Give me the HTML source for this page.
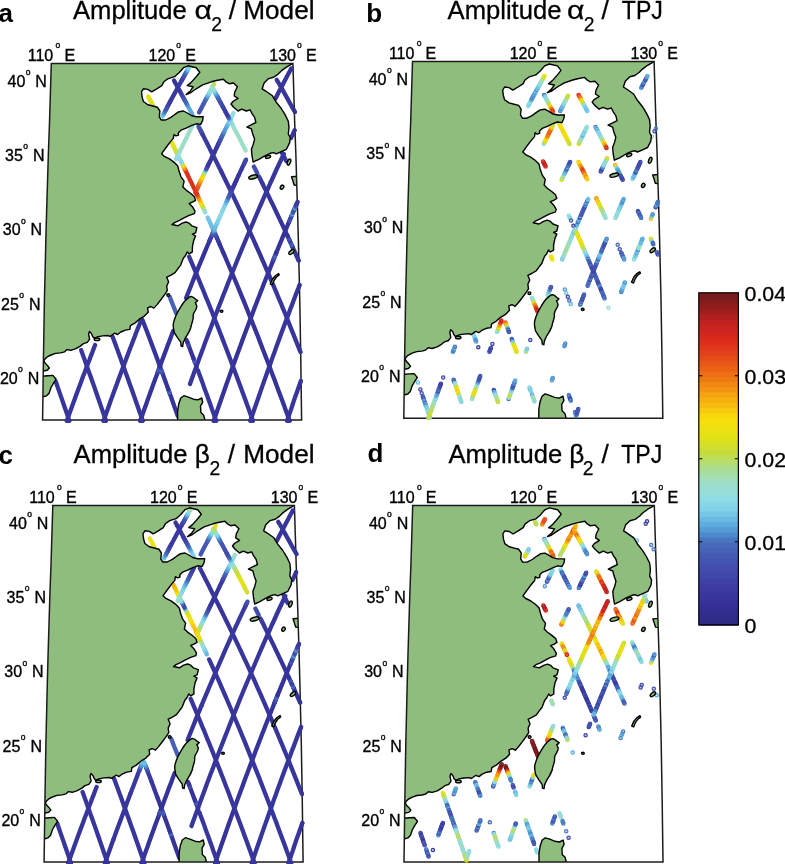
<!DOCTYPE html><html><head><meta charset="utf-8"><style>html,body{margin:0;padding:0;background:#fff}svg{display:block}</style></head><body><svg width="785" height="864" viewBox="0 0 785 864" font-family="'Liberation Sans', Arial, Helvetica, sans-serif">
<rect width="785" height="864" fill="#fff"/>
<g transform="translate(0.0 0.0)">
<clipPath id="cfa"><path d="M51.3,63.4 50.4,93.1 49.5,122.8 48.4,152.6 47.5,182.3 46.6,212.0 45.8,241.7 45.1,271.4 44.4,301.1 43.9,330.9 43.4,360.6 43.0,390.3 42.6,420.0 301.6,420.0 301.2,390.3 300.8,360.6 300.3,330.9 299.8,301.1 299.1,271.4 298.4,241.7 297.6,212.0 296.7,182.3 295.8,152.6 294.7,122.8 293.8,93.1 292.9,63.4Z"/></clipPath>
<clipPath id="cba"><path clip-rule="evenodd" d="M20 45H335V440H20Z M52.2,64.3 51.3,93.1 50.4,122.8 49.3,152.6 48.4,182.3 47.5,212.0 46.7,241.7 46.0,271.4 45.3,301.1 44.8,330.9 44.3,360.6 43.9,390.3 43.5,419.1 300.7,419.1 300.3,390.3 299.9,360.6 299.4,330.9 298.9,301.1 298.2,271.4 297.5,241.7 296.7,212.0 295.8,182.3 294.9,152.6 293.8,122.8 292.9,93.1 292.0,64.3Z"/></clipPath>
<g fill="none" stroke-width="4.3" stroke-linecap="round" stroke-linejoin="round">
<path d="M103.5,420.8 105.0,416.8 106.4,412.7 107.9,408.7 109.3,404.7 110.8,400.6 112.2,396.6 113.7,392.6 115.2,388.5 116.7,384.5 118.1,380.5 119.6,376.5 121.1,372.4 122.6,368.4 124.1,364.4 125.7,360.3 127.2,356.3 128.7,352.3 130.2,348.2 131.8,344.2 133.3,340.2 134.9,336.1 136.4,332.1 138.0,328.1 139.6,324.0 141.1,320.0 141.5,319.0" stroke="#38369d"/>
<path d="M66.8,420.8 68.3,416.8 69.7,412.7 71.2,408.7 72.7,404.6 74.2,400.6 75.6,396.5 77.1,392.5 78.6,388.5 80.1,384.4 81.6,380.4 83.1,376.3 84.7,372.3 86.2,368.2 87.7,364.2 89.3,360.2 90.8,356.1 92.4,352.1 93.9,348.0 95.1,345.0" stroke="#38369d"/>
<path d="M140.2,420.8 141.7,416.8 143.1,412.7 144.5,408.7 146.0,404.7 147.4,400.6 148.9,396.6 150.3,392.5 151.8,388.5 153.2,384.5 154.7,380.4 156.2,376.4 157.7,372.4" stroke="#36339a"/>
<path d="M157.7,372.4 158.0,371.4" stroke="#3a39a0"/>
<path d="M158.0,371.4 158.4,370.4" stroke="#4046aa"/>
<path d="M158.4,370.4 158.8,369.3" stroke="#4451b0"/>
<path d="M158.8,369.3 159.2,368.3" stroke="#465cb4"/>
<path d="M159.2,368.3 159.5,367.3" stroke="#434dae"/>
<path d="M159.5,367.3 159.9,366.3" stroke="#3f42a8"/>
<path d="M159.9,366.3 160.3,365.3" stroke="#38369d"/>
<path d="M160.3,365.3 161.8,361.3 163.3,357.2 164.8,353.2 166.3,349.2 167.8,345.1 169.4,341.1 170.9,337.1 172.4,333.0 173.2,331.0" stroke="#36339a"/>
<path d="M275.2,99.0 277.3,94.9 279.4,90.8 281.6,86.8 283.7,82.7 285.9,78.6 288.0,74.5 290.2,70.4 291.3,68.4" stroke="#38369d"/>
<path d="M190.0,384.0 191.4,380.0 192.9,376.0 194.3,372.0 195.8,368.0 197.3,364.0 198.7,360.0 200.2,356.0 201.7,352.0 203.2,348.0 204.6,344.0 206.1,340.0 207.6,336.0 209.1,332.0 210.7,328.0 212.2,324.0 213.7,320.0 215.2,316.0 216.8,312.0 218.3,308.0 219.9,304.0 221.5,300.0 223.0,296.0 224.6,292.0 226.2,288.0 227.7,284.0 229.3,280.0 230.9,276.0 232.5,272.0 234.2,268.0 235.8,264.0 237.4,260.0 239.0,256.0 240.7,252.0 242.3,248.0 244.0,244.0 245.7,240.0 247.4,236.0 249.1,232.0 250.8,228.0 252.5,224.0 254.2,220.0 255.9,216.0 257.6,212.0 259.3,208.0 261.1,204.0 262.8,200.0 264.6,196.0 266.4,192.0 268.2,188.0 269.9,184.0 271.8,180.0 273.6,176.0 275.4,172.0 277.2,168.0 279.1,164.0 281.0,160.0 282.9,156.0 283.8,154.0" stroke="#38369d"/>
<path d="M291.0,138.0 291.5,136.9 292.1,135.8 292.6,134.7 293.1,133.5 293.6,132.4 294.1,131.3 294.6,130.2" stroke="#38369d"/>
<path d="M213.7,420.8 215.1,416.8 216.5,412.8 217.9,408.8 219.3,404.7 220.7,400.7 222.1,396.7 223.5,392.7 224.9,388.7 226.3,384.7 227.8,380.6 229.2,376.6 230.6,372.6 232.1,368.6 233.5,364.6 235.0,360.6 236.4,356.5 237.9,352.5 239.4,348.5 240.9,344.5 242.3,340.5 243.8,336.5 245.3,332.4 246.8,328.4 248.3,324.4 249.8,320.4 251.4,316.4 252.9,312.4 254.4,308.3 256.0,304.3 257.5,300.3 259.1,296.3 260.6,292.3 262.2,288.3 263.7,284.2 265.3,280.2 266.9,276.2 268.5,272.2 270.1,268.2 271.7,264.2 272.9,261.1" stroke="#36339a"/>
<path d="M272.9,261.1 273.3,260.1" stroke="#3a39a0"/>
<path d="M273.3,260.1 273.7,259.1" stroke="#3e3ea6"/>
<path d="M273.7,259.1 274.1,258.1" stroke="#4046aa"/>
<path d="M274.1,258.1 274.5,257.1" stroke="#434dae"/>
<path d="M274.5,257.1 274.9,256.1" stroke="#4556b2"/>
<path d="M274.9,256.1 275.3,255.1" stroke="#4661b6"/>
<path d="M275.3,255.1 275.7,254.1" stroke="#486cba"/>
<path d="M275.7,254.1 276.1,253.1" stroke="#434dae"/>
<path d="M276.1,253.1 276.5,252.1" stroke="#38369d"/>
<path d="M276.5,252.1 278.2,248.1 279.8,244.1 281.5,240.1 283.1,236.0 284.8,232.0 286.5,228.0 288.1,224.0 289.0,222.0" stroke="#36339a"/>
<path d="M289.0,222.0 289.4,221.0" stroke="#3c3ba3"/>
<path d="M289.4,221.0 289.8,220.0" stroke="#414aac"/>
<path d="M289.8,220.0 290.2,219.0" stroke="#4556b2"/>
<path d="M290.2,219.0 290.7,218.0" stroke="#434dae"/>
<path d="M290.7,218.0 291.1,217.0" stroke="#4046aa"/>
<path d="M291.1,217.0 291.5,216.0" stroke="#3e3ea6"/>
<path d="M291.5,216.0 291.9,215.0" stroke="#4451b0"/>
<path d="M291.9,215.0 292.4,213.9" stroke="#486cba"/>
<path d="M292.4,213.9 292.8,212.9" stroke="#5aa8dc"/>
<path d="M292.8,212.9 293.2,211.9" stroke="#486cba"/>
<path d="M293.2,211.9 293.6,210.9" stroke="#4556b2"/>
<path d="M293.6,210.9 294.1,209.9" stroke="#4046aa"/>
<path d="M294.1,209.9 294.5,208.9" stroke="#4556b2"/>
<path d="M294.5,208.9 294.9,207.9" stroke="#486cba"/>
<path d="M294.9,207.9 295.3,206.9" stroke="#5aa8dc"/>
<path d="M295.3,206.9 295.8,205.9" stroke="#4767b8"/>
<path d="M295.8,205.9 296.2,204.9" stroke="#434dae"/>
<path d="M296.2,204.9 296.6,203.9" stroke="#3e3ea6"/>
<path d="M296.6,203.9 297.1,202.9 297.5,201.9" stroke="#3c3ba3"/>
<path d="M250.4,420.8 251.8,416.8 253.1,412.8 254.5,408.7 255.9,404.7 257.3,400.7 258.7,396.7 260.1,392.6 261.5,388.6 262.9,384.6 264.3,380.6 265.8,376.5 267.2,372.5 268.6,368.5 270.1,364.5 271.5,360.4 272.9,356.4 274.4,352.4 275.8,348.4 277.3,344.3 278.8,340.3 280.2,336.3 281.7,332.3 283.2,328.3 284.7,324.2 286.2,320.2 287.7,316.2 289.2,312.2 290.7,308.1 292.3,304.1 293.8,300.1 295.3,296.1 296.8,292.0 298.4,288.0 299.5,285.0" stroke="#38369d"/>
<path d="M287.1,420.8 288.5,416.7 289.9,412.6 291.3,408.6 292.6,404.5 294.0,400.4 295.4,396.3 296.9,392.2 298.3,388.1 299.7,384.1 300.8,381.0" stroke="#38369d"/>
<path d="M69.3,420.8 67.9,416.8 66.6,412.7 65.2,408.7 63.8,404.7 62.4,400.6 61.0,396.6 59.6,392.6 58.2,388.6 56.8,384.5 55.8,381.5" stroke="#38369d"/>
<path d="M106.0,420.8 104.6,416.8 103.2,412.7 101.8,408.7 100.4,404.6 99.0,400.6 97.6,396.5 96.2,392.5 94.8,388.4 93.4,384.4 91.9,380.3 90.5,376.3 89.0,372.3 87.6,368.2 86.2,364.2 84.7,360.1 83.3,356.1 81.8,352.0 81.1,350.0" stroke="#38369d"/>
<path d="M142.7,420.8 141.3,416.8 139.9,412.8 138.5,408.8 137.1,404.8 135.7,400.8 134.3,396.7 132.9,392.7 131.5,388.7 130.0,384.7 128.6,380.7 127.2,376.7 125.7,372.7 124.3,368.7 122.8,364.7 121.4,360.7 119.9,356.6 118.4,352.6 117.0,348.6 115.5,344.6 114.0,340.6 112.5,336.6" stroke="#38369d"/>
<path d="M177.8,416.0 176.4,412.0 174.9,408.0 173.5,404.0 172.1,400.0 170.7,396.0 169.6,393.0" stroke="#36339a"/>
<path d="M169.6,393.0 169.2,392.0" stroke="#414aac"/>
<path d="M169.2,392.0 168.9,391.0" stroke="#4767b8"/>
<path d="M168.9,391.0 168.5,390.0" stroke="#4661b6"/>
<path d="M168.5,390.0 168.2,389.0" stroke="#4046aa"/>
<path d="M168.2,389.0 166.7,385.0 165.3,381.0 163.8,377.0 162.4,373.0" stroke="#36339a"/>
<path d="M162.4,373.0 162.0,372.0" stroke="#3e3ea6"/>
<path d="M162.0,372.0 161.6,371.0" stroke="#414aac"/>
<path d="M161.6,371.0 161.3,370.0" stroke="#4556b2"/>
<path d="M161.3,370.0 160.9,369.0" stroke="#486cba"/>
<path d="M160.9,369.0 160.5,368.0" stroke="#4556b2"/>
<path d="M160.5,368.0 160.2,367.0" stroke="#414aac"/>
<path d="M160.2,367.0 159.8,366.0" stroke="#3e3ea6"/>
<path d="M159.8,366.0 158.3,362.0 156.9,358.0 155.4,354.0 153.9,350.0 152.4,346.0 150.9,342.0 149.4,338.0 147.9,334.0 146.4,330.0 144.8,326.0 143.3,322.0 142.5,320.0" stroke="#36339a"/>
<path d="M216.2,420.8 214.7,416.8 213.3,412.7 211.8,408.7 210.4,404.6 208.9,400.6 207.5,396.5 206.0,392.5 204.5,388.4 203.1,384.4 201.6,380.3 200.1,376.3 198.6,372.2 197.9,370.2" stroke="#38369d"/>
<path d="M196.7,367.0 196.3,366.0 195.9,365.0 195.6,364.0 195.2,363.0 194.8,362.0" stroke="#36339a"/>
<path d="M194.8,362.0 194.4,361.0" stroke="#4046aa"/>
<path d="M194.4,361.0 194.1,360.0 193.7,359.0" stroke="#465cb4"/>
<path d="M193.7,359.0 193.3,358.0" stroke="#4046aa"/>
<path d="M193.3,358.0 191.8,354.0 190.3,350.0 188.8,346.0 188.4,345.0" stroke="#36339a"/>
<path d="M188.4,345.0 188.0,344.0" stroke="#3f42a8"/>
<path d="M188.0,344.0 187.7,343.0" stroke="#4556b2"/>
<path d="M187.7,343.0 187.3,342.0" stroke="#3f42a8"/>
<path d="M187.3,342.0 186.9,341.0 186.5,340.0" stroke="#36339a"/>
<path d="M176.3,313.5 174.7,309.4 173.0,305.2 171.4,301.1 169.8,297.0" stroke="#4661b6"/>
<path d="M252.9,420.8 251.4,416.8 250.0,412.8 248.6,408.8 247.1,404.8 245.7,400.8 244.2,396.8 242.7,392.8 241.3,388.8 239.8,384.8 238.3,380.8 236.8,376.8 235.3,372.8 233.8,368.8 232.3,364.8 230.8,360.8 229.3,356.8 227.8,352.8 226.3,348.8 224.7,344.8 223.2,340.8 221.7,336.8 220.1,332.8 218.6,328.8 217.0,324.8 215.4,320.8 213.8,316.8 212.3,312.8 210.7,308.8 209.1,304.8 207.5,300.8 205.8,296.8 204.2,292.8 202.6,288.8 200.9,284.8 199.3,280.8 197.6,276.8 196.0,272.8 194.3,268.8 192.6,264.8 190.9,260.8 189.2,256.8" stroke="#38369d"/>
<path d="M300.4,352.0 298.8,348.0 297.2,344.0 295.6,339.9 294.0,335.9 292.4,331.9 290.8,327.9 289.2,323.9 287.6,319.9 286.0,315.8 284.4,311.8 282.7,307.8 281.1,303.8 279.4,299.8 277.7,295.7 276.0,291.7 274.3,287.7 273.1,284.7" stroke="#38369d"/>
<path d="M298.6,260.6 296.8,256.6 295.1,252.6 293.3,248.6 292.8,247.6" stroke="#36339a"/>
<path d="M292.8,247.6 292.4,246.6" stroke="#38369d"/>
<path d="M292.4,246.6 291.9,245.6" stroke="#3c3ba3"/>
<path d="M291.9,245.6 291.5,244.6" stroke="#4046aa"/>
<path d="M291.5,244.6 291.0,243.6" stroke="#4661b6"/>
<path d="M291.0,243.6 290.6,242.6" stroke="#486cba"/>
<path d="M290.6,242.6 290.1,241.6" stroke="#4451b0"/>
<path d="M290.1,241.6 289.6,240.6" stroke="#3f42a8"/>
<path d="M289.6,240.6 289.2,239.6" stroke="#3c3ba3"/>
<path d="M289.2,239.6 288.7,238.6" stroke="#414aac"/>
<path d="M288.7,238.6 288.3,237.6 287.8,236.6" stroke="#4556b2"/>
<path d="M287.8,236.6 287.4,235.6" stroke="#3e3ea6"/>
<path d="M287.4,235.6 285.5,231.6 283.7,227.6 281.8,223.6 279.9,219.6 278.0,215.6 276.1,211.6 274.2,207.6 272.3,203.6 270.3,199.6 268.4,195.6 266.4,191.6 264.4,187.6 262.5,183.6" stroke="#36339a"/>
<path d="M262.5,183.6 262.0,182.6 261.5,181.6 261.0,180.6" stroke="#38369d"/>
<path d="M261.0,180.6 260.5,179.6 260.0,178.6" stroke="#3a39a0"/>
<path d="M260.0,178.6 259.5,177.6 259.0,176.6" stroke="#3c3ba3"/>
<path d="M257.2,173.0 256.6,171.9 256.1,170.9 255.5,169.8 255.0,168.7 254.4,167.7 253.9,166.6" stroke="#434dae"/>
<path d="M286.2,161.0 284.0,156.8 281.8,152.6 281.2,151.5" stroke="#38369d"/>
<path d="M294.9,112.0 292.6,108.0 290.4,104.0 288.2,99.9 285.9,95.9 283.7,91.9 281.4,87.8 279.1,83.8 276.7,79.8" stroke="#38369d"/>
<path d="M289.6,420.8 288.1,416.8 286.7,412.8 285.2,408.8 283.8,404.8 282.3,400.8 280.8,396.8 279.3,392.7 277.8,388.7 276.3,384.7 274.9,380.7 273.3,376.7 271.8,372.7 270.3,368.7 268.8,364.7 267.3,360.7 265.7,356.7 264.2,352.7 262.6,348.7 261.1,344.7 259.5,340.6 258.0,336.6 256.4,332.6 254.8,328.6 253.2,324.6 251.6,320.6 250.0,316.6 248.4,312.6 246.8,308.6 245.2,304.6 243.6,300.6 241.9,296.6 240.2,292.5 238.6,288.5 236.9,284.5 235.2,280.5 233.5,276.5 231.8,272.5 230.1,268.5 228.4,264.5 226.7,260.5 225.0,256.5 223.2,252.5 221.5,248.5 219.7,244.5 219.3,243.5" stroke="#36339a"/>
<path d="M219.3,243.5 218.9,242.4 218.4,241.4" stroke="#38369d"/>
<path d="M218.4,241.4 218.0,240.4" stroke="#3a39a0"/>
<path d="M218.0,240.4 217.5,239.4 217.1,238.4" stroke="#3c3ba3"/>
<path d="M217.1,238.4 216.7,237.4" stroke="#3e3ea6"/>
<path d="M216.7,237.4 216.2,236.4" stroke="#3f42a8"/>
<path d="M216.2,236.4 215.8,235.4" stroke="#414aac"/>
<path d="M215.8,235.4 215.3,234.4" stroke="#434dae"/>
<path d="M215.3,234.4 214.9,233.4" stroke="#4556b2"/>
<path d="M214.9,233.4 214.4,232.4" stroke="#465cb4"/>
<path d="M214.4,232.4 214.0,231.4" stroke="#4767b8"/>
<path d="M214.0,231.4 213.5,230.4" stroke="#4b7cc3"/>
<path d="M213.5,230.4 213.1,229.4" stroke="#5aa8dc"/>
<path d="M213.1,229.4 212.6,228.4 212.2,227.4 211.7,226.4" stroke="#63b3e0"/>
<path d="M211.7,226.4 211.3,225.4 210.8,224.4 210.4,223.4 209.9,222.4 209.5,221.4 209.0,220.4 208.5,219.4" stroke="#6cbee4"/>
<path d="M208.5,219.4 208.1,218.4 207.6,217.4" stroke="#76c7e6"/>
<path d="M205.3,212.4 204.9,211.4" stroke="#8dd9e5"/>
<path d="M204.9,211.4 204.4,210.4" stroke="#93dce2"/>
<path d="M204.4,210.4 203.9,209.4" stroke="#99ddd3"/>
<path d="M203.9,209.4 203.5,208.4" stroke="#a0debf"/>
<path d="M203.5,208.4 203.0,207.3" stroke="#a4deaf"/>
<path d="M203.0,207.3 202.5,206.3" stroke="#b4dd76"/>
<path d="M202.5,206.3 202.1,205.3" stroke="#c2dc4a"/>
<path d="M202.1,205.3 201.6,204.3" stroke="#d0de2e"/>
<path d="M201.6,204.3 201.1,203.3" stroke="#e4e213"/>
<path d="M201.1,203.3 200.6,202.3" stroke="#efe00f"/>
<path d="M200.6,202.3 200.2,201.3" stroke="#fade0a"/>
<path d="M200.2,201.3 199.7,200.3" stroke="#f8c90d"/>
<path d="M199.7,200.3 199.2,199.3" stroke="#f7bf0e"/>
<path d="M199.2,199.3 198.8,198.3" stroke="#f5aa10"/>
<path d="M198.8,198.3 198.3,197.2" stroke="#f49f11"/>
<path d="M198.3,197.2 197.8,196.2" stroke="#f28912"/>
<path d="M197.8,196.2 197.3,195.2" stroke="#ed6b14"/>
<path d="M197.3,195.2 196.9,194.2" stroke="#ea5817"/>
<path d="M196.9,194.2 196.4,193.2" stroke="#e33f1b"/>
<path d="M196.4,193.2 194.5,189.2 192.5,185.1 190.6,181.1 188.6,177.0 186.7,173.0 185.2,170.0" stroke="#de301d"/>
<path d="M185.2,170.0 184.7,169.0" stroke="#e64719"/>
<path d="M184.7,169.0 184.2,168.0" stroke="#ed6b14"/>
<path d="M184.2,168.0 183.7,166.9" stroke="#f39411"/>
<path d="M183.7,166.9 183.2,165.9" stroke="#f6b40f"/>
<path d="M183.2,165.9 182.7,164.9" stroke="#f8c90d"/>
<path d="M182.7,164.9 182.2,163.9" stroke="#f5df0c"/>
<path d="M182.2,163.9 181.7,162.9" stroke="#c2dc4a"/>
<path d="M181.7,162.9 181.2,161.9" stroke="#93dce2"/>
<path d="M181.2,161.9 180.7,160.9" stroke="#80d0e8"/>
<path d="M180.7,160.9 180.2,159.9" stroke="#86d4e7"/>
<path d="M180.2,159.9 179.7,158.9 179.2,157.9" stroke="#8dd9e5"/>
<path d="M179.2,157.9 178.7,156.8 178.2,155.8" stroke="#93dce2"/>
<path d="M178.2,155.8 177.7,154.8" stroke="#96dddb"/>
<path d="M177.7,154.8 177.2,153.8" stroke="#9ddecb"/>
<path d="M177.2,153.8 176.7,152.8" stroke="#a8dd9f"/>
<path d="M176.7,152.8 176.2,151.8" stroke="#bbdc60"/>
<path d="M176.2,151.8 175.7,150.8" stroke="#c9dd38"/>
<path d="M175.7,150.8 175.2,149.8 174.8,148.8 174.3,147.8" stroke="#d0de2e"/>
<path d="M174.3,147.8 173.8,146.7 173.3,145.7" stroke="#d7e024"/>
<path d="M173.3,145.7 172.8,144.7 172.3,143.7" stroke="#dee11a"/>
<path d="M172.3,143.7 171.8,142.7" stroke="#e4e213"/>
<path d="M152.6,104.7 152.0,103.7" stroke="#c9dd38"/>
<path d="M152.0,103.7 151.5,102.6" stroke="#d0de2e"/>
<path d="M151.5,102.6 150.9,101.6 150.4,100.6" stroke="#d7e024"/>
<path d="M150.4,100.6 149.8,99.5" stroke="#dee11a"/>
<path d="M149.8,99.5 149.3,98.5 148.7,97.4" stroke="#e4e213"/>
<path d="M148.7,97.4 148.2,96.4" stroke="#eae111"/>
<path d="M195.3,192.5 195.8,191.5" stroke="#de301d"/>
<path d="M195.8,191.5 196.3,190.5" stroke="#e0371c"/>
<path d="M196.3,190.5 196.7,189.5 197.2,188.5" stroke="#e33f1b"/>
<path d="M197.2,188.5 197.7,187.5" stroke="#e64719"/>
<path d="M197.7,187.5 198.1,186.5" stroke="#e84e18"/>
<path d="M198.1,186.5 198.6,185.5" stroke="#ea5817"/>
<path d="M198.6,185.5 199.1,184.4" stroke="#eb6116"/>
<path d="M199.1,184.4 199.5,183.4" stroke="#ed6b14"/>
<path d="M199.5,183.4 200.0,182.4" stroke="#ef7413"/>
<path d="M200.0,182.4 200.5,181.4" stroke="#f28912"/>
<path d="M200.5,181.4 201.0,180.4" stroke="#f39411"/>
<path d="M201.0,180.4 201.4,179.4" stroke="#f5aa10"/>
<path d="M201.4,179.4 201.9,178.4" stroke="#f6b40f"/>
<path d="M201.9,178.4 202.4,177.4" stroke="#f8c90d"/>
<path d="M202.4,177.4 202.9,176.4" stroke="#f9d40b"/>
<path d="M202.9,176.4 203.3,175.4" stroke="#f5df0c"/>
<path d="M203.3,175.4 203.8,174.4" stroke="#eae111"/>
<path d="M203.8,174.4 204.3,173.4" stroke="#d7e024"/>
<path d="M204.3,173.4 204.8,172.4" stroke="#c9dd38"/>
<path d="M204.8,172.4 205.2,171.4" stroke="#a4deaf"/>
<path d="M205.2,171.4 205.7,170.4" stroke="#8dd9e5"/>
<path d="M205.7,170.4 206.2,169.4" stroke="#63b3e0"/>
<path d="M206.2,169.4 206.7,168.3" stroke="#4767b8"/>
<path d="M206.7,168.3 207.2,167.3" stroke="#4556b2"/>
<path d="M207.2,167.3 207.7,166.3" stroke="#434dae"/>
<path d="M207.7,166.3 208.1,165.3" stroke="#4046aa"/>
<path d="M208.1,165.3 208.6,164.3" stroke="#3c3ba3"/>
<path d="M208.6,164.3 209.1,163.3 209.6,162.3" stroke="#3a39a0"/>
<path d="M209.6,162.3 210.1,161.3 210.6,160.3 211.1,159.3 211.6,158.3 212.0,157.3" stroke="#38369d"/>
<path d="M212.0,157.3 212.5,156.3 213.0,155.3 213.5,154.3 214.0,153.3 214.5,152.2" stroke="#36339a"/>
<path d="M214.5,152.2 214.9,151.2 215.4,150.2 215.9,149.2 216.4,148.2" stroke="#38369d"/>
<path d="M216.4,148.2 216.8,147.2 217.3,146.2 217.8,145.2" stroke="#3a39a0"/>
<path d="M217.8,145.2 218.3,144.2" stroke="#3c3ba3"/>
<path d="M218.3,144.2 218.7,143.2" stroke="#3e3ea6"/>
<path d="M218.7,143.2 219.2,142.2" stroke="#3f42a8"/>
<path d="M219.2,142.2 219.7,141.2" stroke="#4046aa"/>
<path d="M219.7,141.2 220.2,140.2" stroke="#414aac"/>
<path d="M220.2,140.2 220.7,139.2" stroke="#434dae"/>
<path d="M220.7,139.2 221.1,138.2" stroke="#4451b0"/>
<path d="M221.1,138.2 221.6,137.2" stroke="#4556b2"/>
<path d="M221.6,137.2 222.1,136.1" stroke="#465cb4"/>
<path d="M222.1,136.1 222.6,135.1" stroke="#4661b6"/>
<path d="M222.6,135.1 223.1,134.1" stroke="#4767b8"/>
<path d="M223.1,134.1 223.6,133.1" stroke="#486cba"/>
<path d="M223.6,133.1 224.1,132.1" stroke="#4b7cc3"/>
<path d="M224.1,132.1 224.5,131.1 225.0,130.1" stroke="#4e8ccc"/>
<path d="M225.0,130.1 225.5,129.1 226.0,128.1 226.5,127.1" stroke="#549ad4"/>
<path d="M226.5,127.1 227.0,126.1 227.5,125.1" stroke="#5aa8dc"/>
<path d="M227.5,125.1 228.0,124.1 228.5,123.1" stroke="#63b3e0"/>
<path d="M228.5,123.1 229.0,122.1" stroke="#6cbee4"/>
<path d="M229.0,122.1 229.5,121.1 230.0,120.0" stroke="#76c7e6"/>
<path d="M230.0,120.0 230.5,119.0" stroke="#80d0e8"/>
<path d="M230.5,119.0 231.0,118.0" stroke="#86d4e7"/>
<path d="M231.0,118.0 231.5,117.0" stroke="#8dd9e5"/>
<path d="M231.5,117.0 232.0,116.0" stroke="#93dce2"/>
<path d="M232.0,116.0 232.5,115.0 233.0,114.0 233.5,113.0" stroke="#96dddb"/>
<path d="M176.1,159.0 176.6,158.0 177.1,157.0" stroke="#8dd9e5"/>
<path d="M177.1,157.0 177.6,156.0 178.1,154.9" stroke="#93dce2"/>
<path d="M178.1,154.9 178.6,153.9 179.1,152.9" stroke="#96dddb"/>
<path d="M179.1,152.9 179.6,151.9 180.1,150.9" stroke="#99ddd3"/>
<path d="M180.1,150.9 182.0,146.8 184.0,142.8 186.0,138.7 188.0,134.6 190.0,130.6 192.0,126.5 193.0,124.5" stroke="#9ddecb"/>
<path d="M199.1,112.4 199.7,111.4 200.2,110.4" stroke="#434dae"/>
<path d="M200.2,110.4 200.7,109.4 201.2,108.3 201.8,107.3" stroke="#4451b0"/>
<path d="M201.8,107.3 202.3,106.3 202.8,105.3 203.3,104.3" stroke="#4556b2"/>
<path d="M203.3,104.3 203.9,103.3 204.4,102.3 204.9,101.2" stroke="#465cb4"/>
<path d="M204.9,101.2 205.5,100.2 206.0,99.2" stroke="#4661b6"/>
<path d="M206.0,99.2 206.5,98.2" stroke="#4767b8"/>
<path d="M206.5,98.2 207.1,97.2" stroke="#4b7cc3"/>
<path d="M207.1,97.2 207.6,96.2" stroke="#4e8ccc"/>
<path d="M207.6,96.2 208.2,95.2" stroke="#5aa8dc"/>
<path d="M208.2,95.2 208.7,94.1" stroke="#63b3e0"/>
<path d="M208.7,94.1 209.2,93.1" stroke="#76c7e6"/>
<path d="M209.2,93.1 209.8,92.1" stroke="#80d0e8"/>
<path d="M209.8,92.1 210.3,91.1" stroke="#8dd9e5"/>
<path d="M210.3,91.1 210.9,90.1" stroke="#93dce2"/>
<path d="M210.9,90.1 211.4,89.1" stroke="#96dddb"/>
<path d="M211.4,89.1 212.0,88.1" stroke="#99ddd3"/>
<path d="M212.0,88.1 212.5,87.0" stroke="#9ddecb"/>
<path d="M212.5,87.0 213.1,86.0" stroke="#a0debf"/>
<path d="M213.1,86.0 213.6,85.0" stroke="#addd8d"/>
<path d="M213.6,85.0 214.2,84.0" stroke="#c9dd38"/>
<path d="M162.4,116.5 162.9,115.5" stroke="#80d0e8"/>
<path d="M162.9,115.5 163.4,114.5" stroke="#76c7e6"/>
<path d="M163.4,114.5 164.0,113.5" stroke="#63b3e0"/>
<path d="M164.0,113.5 164.5,112.5" stroke="#5aa8dc"/>
<path d="M164.5,112.5 165.0,111.5" stroke="#4e8ccc"/>
<path d="M165.0,111.5 165.5,110.5" stroke="#4b7cc3"/>
<path d="M165.5,110.5 166.1,109.5" stroke="#4767b8"/>
<path d="M166.1,109.5 166.6,108.5" stroke="#4661b6"/>
<path d="M166.6,108.5 167.1,107.4" stroke="#465cb4"/>
<path d="M167.1,107.4 167.6,106.4" stroke="#4451b0"/>
<path d="M167.6,106.4 168.2,105.4" stroke="#434dae"/>
<path d="M168.2,105.4 168.7,104.4" stroke="#414aac"/>
<path d="M168.7,104.4 169.2,103.4" stroke="#4046aa"/>
<path d="M169.2,103.4 169.8,102.4" stroke="#3f42a8"/>
<path d="M169.8,102.4 170.3,101.4" stroke="#3e3ea6"/>
<path d="M170.3,101.4 170.8,100.4" stroke="#3c3ba3"/>
<path d="M170.8,100.4 173.0,96.4 175.2,92.4 177.4,88.3 179.6,84.3 181.2,81.3" stroke="#3a39a0"/>
<path d="M181.2,81.3 181.8,80.3" stroke="#3c3ba3"/>
<path d="M181.8,80.3 182.4,79.3" stroke="#3e3ea6"/>
<path d="M182.4,79.3 182.9,78.3" stroke="#3f42a8"/>
<path d="M182.9,78.3 183.5,77.3" stroke="#4046aa"/>
<path d="M183.5,77.3 184.0,76.3" stroke="#414aac"/>
<path d="M184.0,76.3 184.6,75.2" stroke="#4451b0"/>
<path d="M184.6,75.2 185.2,74.2" stroke="#4556b2"/>
<path d="M185.2,74.2 185.7,73.2" stroke="#465cb4"/>
<path d="M185.7,73.2 186.3,72.2" stroke="#4767b8"/>
<path d="M186.3,72.2 186.9,71.2" stroke="#486cba"/>
<path d="M186.9,71.2 187.4,70.2" stroke="#4e8ccc"/>
<path d="M187.4,70.2 188.0,69.2" stroke="#5aa8dc"/>
<path d="M188.0,69.2 188.6,68.2" stroke="#6cbee4"/>
<path d="M188.6,68.2 189.2,67.2" stroke="#80d0e8"/>
<path d="M192.3,114.5 190.2,110.5 188.1,106.5 187.5,105.5" stroke="#5aa8dc"/>
<path d="M187.5,105.5 187.0,104.5" stroke="#549ad4"/>
<path d="M187.0,104.5 186.5,103.5" stroke="#4e8ccc"/>
<path d="M186.5,103.5 186.0,102.5" stroke="#4b7cc3"/>
<path d="M186.0,102.5 185.4,101.5" stroke="#486cba"/>
<path d="M185.4,101.5 184.9,100.5" stroke="#4767b8"/>
<path d="M184.9,100.5 184.3,99.5" stroke="#4661b6"/>
<path d="M184.3,99.5 183.8,98.5" stroke="#465cb4"/>
<path d="M183.8,98.5 183.3,97.5 182.7,96.5" stroke="#4556b2"/>
<path d="M182.7,96.5 182.2,95.5 181.6,94.5" stroke="#434dae"/>
<path d="M181.6,94.5 181.1,93.5 180.6,92.5" stroke="#4046aa"/>
<path d="M180.6,92.5 180.0,91.5 179.5,90.5" stroke="#3e3ea6"/>
<path d="M179.5,90.5 178.9,89.5 178.4,88.5 177.8,87.5" stroke="#3a39a0"/>
<path d="M177.8,87.5 177.3,86.5 176.7,85.5 176.2,84.5 175.6,83.5 175.1,82.5" stroke="#38369d"/>
<path d="M175.1,82.5 174.5,81.5 174.0,80.5" stroke="#36339a"/>
<path d="M272.1,282.4 270.4,278.4 268.7,274.4 266.9,270.4 265.2,266.4 263.5,262.4 261.7,258.4 260.0,254.4 258.2,250.4 256.4,246.4 256.0,245.4" stroke="#36339a"/>
<path d="M256.0,245.4 254.2,241.4 252.4,237.4 250.6,233.4 248.8,229.4 246.9,225.4 245.1,221.4 243.2,217.4 241.4,213.4 239.5,209.4 237.6,205.4 235.7,201.3 233.8,197.3 231.9,193.3 229.9,189.3 228.0,185.3 226.0,181.3 224.1,177.3 222.1,173.3 221.1,171.3" stroke="#38369d"/>
<path d="M221.1,171.3 219.1,167.3 217.1,163.3 215.1,159.3 213.0,155.3 211.0,151.3 209.1,147.3 207.1,143.3 205.0,139.3 203.0,135.3 202.5,134.3" stroke="#3a39a0"/>
<path d="M202.5,134.3 202.0,133.3" stroke="#3c3ba3"/>
<path d="M202.0,133.3 201.5,132.3" stroke="#3e3ea6"/>
<path d="M201.5,132.3 201.0,131.3" stroke="#3f42a8"/>
<path d="M201.0,131.3 200.5,130.3" stroke="#4046aa"/>
<path d="M200.5,130.3 200.0,129.3 199.4,128.3" stroke="#434dae"/>
<path d="M199.4,128.3 198.9,127.3 198.4,126.3" stroke="#4451b0"/>
<path d="M245.7,150.5 243.6,146.4 241.5,142.4 239.5,138.3 237.4,134.3 235.2,130.2 233.1,126.2 232.6,125.1" stroke="#9ddecb"/>
<path d="M232.6,125.1 232.1,124.1" stroke="#99ddd3"/>
<path d="M232.1,124.1 231.5,123.1" stroke="#96dddb"/>
<path d="M231.5,123.1 231.0,122.1" stroke="#93dce2"/>
<path d="M231.0,122.1 230.5,121.1" stroke="#8dd9e5"/>
<path d="M230.5,121.1 229.9,120.1" stroke="#86d4e7"/>
<path d="M229.9,120.1 229.4,119.1" stroke="#80d0e8"/>
<path d="M229.4,119.1 228.8,118.0" stroke="#5aa8dc"/>
<path d="M228.8,118.0 228.3,117.0" stroke="#486cba"/>
<path d="M228.3,117.0 227.8,116.0" stroke="#4556b2"/>
<path d="M227.8,116.0 227.2,115.0" stroke="#414aac"/>
<path d="M227.2,115.0 226.7,114.0" stroke="#3f42a8"/>
<path d="M226.7,114.0 226.1,113.0 225.6,112.0" stroke="#3a39a0"/>
<path d="M225.6,112.0 225.0,110.9 224.5,109.9 224.0,108.9" stroke="#3c3ba3"/>
<path d="M224.0,108.9 223.4,107.9 222.9,106.9" stroke="#3e3ea6"/>
<path d="M222.9,106.9 222.3,105.9" stroke="#3f42a8"/>
<path d="M222.3,105.9 221.8,104.9 221.2,103.8" stroke="#4046aa"/>
<path d="M221.2,103.8 220.7,102.8" stroke="#414aac"/>
<path d="M220.7,102.8 220.1,101.8 219.6,100.8" stroke="#434dae"/>
<path d="M219.6,100.8 219.0,99.8" stroke="#4451b0"/>
<path d="M219.0,99.8 218.5,98.8" stroke="#4556b2"/>
<path d="M218.5,98.8 217.9,97.8" stroke="#465cb4"/>
<path d="M217.9,97.8 217.4,96.7" stroke="#4661b6"/>
<path d="M217.4,96.7 216.8,95.7" stroke="#486cba"/>
<path d="M216.8,95.7 216.3,94.7" stroke="#4b7cc3"/>
<path d="M216.3,94.7 215.7,93.7" stroke="#4e8ccc"/>
<path d="M215.7,93.7 215.1,92.7" stroke="#5aa8dc"/>
<path d="M215.1,92.7 214.6,91.7" stroke="#63b3e0"/>
<path d="M214.6,91.7 214.0,90.7" stroke="#76c7e6"/>
<path d="M214.0,90.7 213.5,89.6" stroke="#86d4e7"/>
<path d="M213.5,89.6 212.9,88.6" stroke="#93dce2"/>
<path d="M212.9,88.6 212.3,87.6" stroke="#99ddd3"/>
<path d="M212.3,87.6 211.8,86.6" stroke="#a0debf"/>
<path d="M186.1,298.0 187.7,294.0 189.3,290.0 190.9,286.0 192.5,282.0 194.1,277.9 195.7,273.9 197.4,269.9 199.0,265.9 200.7,261.9 202.4,257.9 204.0,253.9 205.7,249.9 207.4,245.8 209.1,241.8" stroke="#36339a"/>
<path d="M209.1,241.8 209.5,240.8" stroke="#38369d"/>
<path d="M209.5,240.8 210.0,239.8" stroke="#3a39a0"/>
<path d="M210.0,239.8 210.4,238.8" stroke="#3c3ba3"/>
<path d="M210.4,238.8 210.8,237.8 211.3,236.8" stroke="#3e3ea6"/>
<path d="M211.3,236.8 211.7,235.8" stroke="#3f42a8"/>
<path d="M211.7,235.8 212.1,234.8" stroke="#4046aa"/>
<path d="M212.1,234.8 212.5,233.8" stroke="#434dae"/>
<path d="M212.5,233.8 213.0,232.8" stroke="#465cb4"/>
<path d="M213.0,232.8 213.4,231.8" stroke="#4767b8"/>
<path d="M213.4,231.8 213.8,230.8" stroke="#4b7cc3"/>
<path d="M213.8,230.8 214.3,229.8" stroke="#549ad4"/>
<path d="M214.3,229.8 214.7,228.8 215.1,227.8" stroke="#63b3e0"/>
<path d="M215.1,227.8 215.6,226.8 216.0,225.8 216.4,224.8" stroke="#6cbee4"/>
<path d="M216.4,224.8 216.9,223.8 217.3,222.8 217.7,221.8" stroke="#76c7e6"/>
<path d="M217.7,221.8 218.2,220.8 218.6,219.8 219.1,218.8" stroke="#80d0e8"/>
<path d="M219.1,218.8 219.5,217.8 219.9,216.8 220.4,215.8 220.8,214.8" stroke="#86d4e7"/>
<path d="M220.8,214.8 221.3,213.8 221.7,212.8 222.1,211.8 222.6,210.7" stroke="#8dd9e5"/>
<path d="M222.6,210.7 223.0,209.7 223.5,208.7 223.9,207.7 224.4,206.7" stroke="#86d4e7"/>
<path d="M224.4,206.7 224.8,205.7 225.2,204.7 225.7,203.7" stroke="#80d0e8"/>
<path d="M225.7,203.7 226.1,202.7" stroke="#76c7e6"/>
<path d="M226.1,202.7 226.6,201.7" stroke="#6cbee4"/>
<path d="M226.6,201.7 227.0,200.7" stroke="#63b3e0"/>
<path d="M227.0,200.7 227.5,199.7" stroke="#5aa8dc"/>
<path d="M227.5,199.7 227.9,198.7" stroke="#549ad4"/>
<path d="M227.9,198.7 228.4,197.7" stroke="#4e8ccc"/>
<path d="M228.4,197.7 228.8,196.7" stroke="#486cba"/>
<path d="M228.8,196.7 229.3,195.7" stroke="#4767b8"/>
<path d="M229.3,195.7 229.7,194.7" stroke="#4661b6"/>
<path d="M229.7,194.7 230.2,193.7" stroke="#465cb4"/>
<path d="M230.2,193.7 230.6,192.7" stroke="#4556b2"/>
<path d="M230.6,192.7 231.1,191.7" stroke="#4451b0"/>
<path d="M231.1,191.7 231.6,190.7" stroke="#434dae"/>
<path d="M231.6,190.7 232.0,189.7" stroke="#414aac"/>
<path d="M232.0,189.7 232.5,188.7" stroke="#4046aa"/>
<path d="M232.5,188.7 232.9,187.7" stroke="#3f42a8"/>
<path d="M232.9,187.7 233.4,186.7" stroke="#3e3ea6"/>
<path d="M233.4,186.7 233.8,185.7 234.3,184.7" stroke="#3c3ba3"/>
<path d="M234.3,184.7 234.8,183.7 235.2,182.7" stroke="#3a39a0"/>
<path d="M235.2,182.7 235.7,181.7 236.2,180.7" stroke="#38369d"/>
<path d="M236.2,180.7 236.6,179.7 237.1,178.7 237.5,177.7 238.0,176.6 238.5,175.6" stroke="#36339a"/>
<path d="M238.5,175.6 238.9,174.6 239.4,173.6 239.9,172.6 240.3,171.6 240.8,170.6 241.3,169.6 241.8,168.6" stroke="#38369d"/>
<path d="M241.8,168.6 242.2,167.6 242.7,166.6 243.2,165.6 243.7,164.6 244.1,163.6" stroke="#3a39a0"/>
<path d="M244.1,163.6 244.6,162.6" stroke="#3e3ea6"/>
<path d="M244.6,162.6 245.1,161.6" stroke="#3f42a8"/>
<path d="M245.1,161.6 245.6,160.6" stroke="#4046aa"/>
<path d="M245.6,160.6 246.0,159.6" stroke="#414aac"/>
</g>
<g clip-path="url(#cfa)" fill="#8ebd7d" stroke="#000" stroke-width="1.40" stroke-linejoin="round">
<path fill-rule="evenodd" d="M20 45H335V440H20Z M30.0,371.6 40.2,371.6 47.2,370.3 49.4,368.1 47.8,365.9 45.3,363.3 43.8,361.0 45.0,358.9 47.2,356.9 51.0,355.0 55.5,353.4 60.6,352.9 64.4,351.9 66.9,349.6 70.8,350.3 75.9,348.7 80.3,346.1 83.5,343.6 87.3,342.3 89.6,339.1 88.6,334.0 89.5,331.5 91.4,333.4 92.7,336.6 94.3,338.2 98.2,336.6 102.6,335.9 107.7,335.5 110.0,336.4 114.5,333.2 117.6,334.5 120.8,332.0 125.3,330.1 129.8,329.4 130.4,325.6 134.8,323.1 139.3,319.2 144.4,316.1 148.2,312.2 147.6,307.8 150.8,306.5 153.9,308.1 157.1,304.6 161.0,299.5 164.8,294.4 167.3,290.6 166.7,286.1 168.6,281.7 166.7,277.2 170.5,275.3 175.0,272.7 178.2,268.3 180.7,265.1 182.6,260.0 183.5,258.0 185.4,255.7 187.3,251.9 189.2,253.8 192.4,251.9 192.4,246.8 193.7,240.4 195.6,236.0 192.4,234.1 195.6,232.8 196.9,227.7 191.8,225.8 189.2,223.2 186.1,222.0 182.2,223.2 177.8,225.8 172.0,224.5 174.6,222.6 179.0,220.7 183.5,218.2 188.6,215.6 194.3,213.7 195.0,211.2 192.4,206.7 189.2,203.5 192.4,202.2 195.6,200.3 194.3,196.5 190.5,193.3 186.1,190.1 182.9,186.9 184.1,181.2 181.0,176.8 179.0,171.0 177.8,165.9 173.9,162.1 169.5,158.9 164.4,156.4 161.6,153.8 162.5,152.4 165.7,148.0 169.5,142.9 173.3,138.4 173.9,134.6 175.9,135.9 178.4,135.2 178.4,132.7 181.0,130.2 186.1,128.2 191.2,125.7 196.2,123.8 200.7,124.4 202.6,120.6 203.2,116.8 196.2,116.8 191.2,115.5 187.3,113.0 183.5,111.0 179.0,111.7 175.2,114.2 170.8,117.4 165.7,120.0 161.2,120.0 159.3,116.8 159.9,111.0 157.4,107.2 152.9,106.0 147.8,104.7 143.4,101.5 142.1,97.0 141.5,91.9 143.4,88.8 147.8,89.4 151.7,91.9 156.8,88.8 161.8,85.6 163.8,81.8 168.2,78.6 174.6,76.7 179.0,72.8 183.5,67.7 188.0,65.8 196.2,67.7 199.8,72.2 196.2,76.7 191.2,82.4 187.3,85.6 193.1,86.8 190.5,90.7 186.1,94.5 189.9,93.2 196.2,88.8 202.6,84.9 211.5,81.8 216.4,80.5 223.4,79.2 225.9,81.8 229.1,83.7 233.6,83.0 237.4,86.8 234.8,91.9 234.2,95.8 238.0,98.3 232.9,101.5 231.0,104.0 233.6,107.2 238.0,111.0 241.8,109.1 246.3,111.0 250.1,109.8 252.0,113.6 254.6,117.4 255.9,122.5 252.0,124.4 246.9,127.0 251.4,128.9 252.7,134.0 254.6,139.1 253.3,144.2 251.4,149.3 252.0,155.6 253.1,162.0 258.4,159.6 264.8,155.8 270.5,153.2 273.7,152.6 276.2,153.8 281.3,151.6 286.4,149.3 289.6,142.9 290.2,137.8 288.3,134.0 289.0,127.6 288.3,121.2 285.2,114.9 281.3,108.5 276.2,102.1 272.4,95.8 266.1,91.3 262.2,88.8 264.1,83.0 268.6,78.6 273.7,77.3 278.1,74.1 281.3,70.9 286.4,67.1 291.5,64.2 294.1,62.6 320.0,55.0 320.0,430.0 30.0,430.0Z"/>
<path d="M191.5,296.5 193.8,297.7 195.7,299.3 197.7,300.6 196.6,301.9 195.3,302.5 196.0,304.1 196.8,306.0 196.4,308.2 195.3,310.5 193.8,313.0 193.1,315.6 193.2,318.1 192.5,321.3 191.5,324.5 190.6,328.3 189.3,331.5 188.0,334.0 190.9,327.5 188.3,333.2 185.2,338.3 183.2,342.8 182.6,346.6 181.1,346.0 180.7,342.2 177.5,337.7 174.3,332.6 173.7,329.6 173.2,325.8 173.5,322.6 174.7,318.8 176.2,314.9 178.2,311.1 180.4,307.3 182.9,303.5 185.2,300.6 187.4,298.7 189.9,296.8Z"/>
<path d="M177.6,429.2 177.6,411.3 178.8,403.7 180.8,398.0 183.9,395.7 188.4,397.1 193.5,399.2 198.0,399.9 201.8,398.0 202.7,402.4 200.5,406.2 200.9,412.6 203.7,415.2 205.0,420.2 205.0,429.2Z"/>
<path d="M37.6,376.7 47.8,375.7 52.9,375.4 56.1,379.2 53.6,383.1 51.0,387.5 49.1,393.2 46.6,395.8 37.6,398.3Z"/>
<path d="M291.5,176.8 301.7,175.9 301.7,185.9 294.1,185.0 292.8,180.6Z"/>
<path d="M270.3,284.0 272.5,279.0 275.5,275.5 278.6,273.6 279.2,275.0 276.5,277.0 274.0,280.5 272.3,284.8Z"/>
<ellipse cx="268.0" cy="156.8" rx="2.7" ry="1.4" transform="rotate(-20 268.0 156.8)"/>
<ellipse cx="289.0" cy="162.1" rx="1.5" ry="3.2" transform="rotate(20 289.0 162.1)"/>
<ellipse cx="253.1" cy="177.0" rx="4.5" ry="1.8" transform="rotate(-15 253.1 177.0)"/>
<ellipse cx="282.0" cy="187.2" rx="1.6" ry="2.2" transform="rotate(30 282.0 187.2)"/>
<ellipse cx="291.5" cy="252.1" rx="3.2" ry="1.6" transform="rotate(-40 291.5 252.1)"/>
<ellipse cx="221.5" cy="311.2" rx="1.4" ry="1.1" transform="rotate(0 221.5 311.2)"/>
<ellipse cx="168.2" cy="295.0" rx="1.4" ry="1.3" transform="rotate(0 168.2 295.0)"/>
<ellipse cx="97.0" cy="339.3" rx="2.8" ry="1.3" transform="rotate(0 97.0 339.3)"/>
</g>
<path d="M51.3,63.4 50.4,93.1 49.5,122.8 48.4,152.6 47.5,182.3 46.6,212.0 45.8,241.7 45.1,271.4 44.4,301.1 43.9,330.9 43.4,360.6 43.0,390.3 42.6,420.0 301.6,420.0 301.2,390.3 300.8,360.6 300.3,330.9 299.8,301.1 299.1,271.4 298.4,241.7 297.6,212.0 296.7,182.3 295.8,152.6 294.7,122.8 293.8,93.1 292.9,63.4Z" fill="none" stroke="#1c1c1c" stroke-width="1.5"/>
<g clip-path="url(#cba)">
<g fill="none" stroke-width="4.3" stroke-linecap="round" stroke-linejoin="round">
<path d="M103.5,420.8 105.0,416.8 106.4,412.7 107.9,408.7 109.3,404.7 110.8,400.6 112.2,396.6 113.7,392.6 115.2,388.5 116.7,384.5 118.1,380.5 119.6,376.5 121.1,372.4 122.6,368.4 124.1,364.4 125.7,360.3 127.2,356.3 128.7,352.3 130.2,348.2 131.8,344.2 133.3,340.2 134.9,336.1 136.4,332.1 138.0,328.1 139.6,324.0 141.1,320.0 141.5,319.0" stroke="#38369d"/>
<path d="M66.8,420.8 68.3,416.8 69.7,412.7 71.2,408.7 72.7,404.6 74.2,400.6 75.6,396.5 77.1,392.5 78.6,388.5 80.1,384.4 81.6,380.4 83.1,376.3 84.7,372.3 86.2,368.2 87.7,364.2 89.3,360.2 90.8,356.1 92.4,352.1 93.9,348.0 95.1,345.0" stroke="#38369d"/>
<path d="M140.2,420.8 141.7,416.8 143.1,412.7 144.5,408.7 146.0,404.7 147.4,400.6 148.9,396.6 150.3,392.5 151.8,388.5 153.2,384.5 154.7,380.4 156.2,376.4 157.7,372.4" stroke="#36339a"/>
<path d="M157.7,372.4 158.0,371.4" stroke="#3a39a0"/>
<path d="M158.0,371.4 158.4,370.4" stroke="#4046aa"/>
<path d="M158.4,370.4 158.8,369.3" stroke="#4451b0"/>
<path d="M158.8,369.3 159.2,368.3" stroke="#465cb4"/>
<path d="M159.2,368.3 159.5,367.3" stroke="#434dae"/>
<path d="M159.5,367.3 159.9,366.3" stroke="#3f42a8"/>
<path d="M159.9,366.3 160.3,365.3" stroke="#38369d"/>
<path d="M160.3,365.3 161.8,361.3 163.3,357.2 164.8,353.2 166.3,349.2 167.8,345.1 169.4,341.1 170.9,337.1 172.4,333.0 173.2,331.0" stroke="#36339a"/>
<path d="M275.2,99.0 277.3,94.9 279.4,90.8 281.6,86.8 283.7,82.7 285.9,78.6 288.0,74.5 290.2,70.4 291.3,68.4" stroke="#38369d"/>
<path d="M190.0,384.0 191.4,380.0 192.9,376.0 194.3,372.0 195.8,368.0 197.3,364.0 198.7,360.0 200.2,356.0 201.7,352.0 203.2,348.0 204.6,344.0 206.1,340.0 207.6,336.0 209.1,332.0 210.7,328.0 212.2,324.0 213.7,320.0 215.2,316.0 216.8,312.0 218.3,308.0 219.9,304.0 221.5,300.0 223.0,296.0 224.6,292.0 226.2,288.0 227.7,284.0 229.3,280.0 230.9,276.0 232.5,272.0 234.2,268.0 235.8,264.0 237.4,260.0 239.0,256.0 240.7,252.0 242.3,248.0 244.0,244.0 245.7,240.0 247.4,236.0 249.1,232.0 250.8,228.0 252.5,224.0 254.2,220.0 255.9,216.0 257.6,212.0 259.3,208.0 261.1,204.0 262.8,200.0 264.6,196.0 266.4,192.0 268.2,188.0 269.9,184.0 271.8,180.0 273.6,176.0 275.4,172.0 277.2,168.0 279.1,164.0 281.0,160.0 282.9,156.0 283.8,154.0" stroke="#38369d"/>
<path d="M291.0,138.0 291.5,136.9 292.1,135.8 292.6,134.7 293.1,133.5 293.6,132.4 294.1,131.3 294.6,130.2" stroke="#38369d"/>
<path d="M213.7,420.8 215.1,416.8 216.5,412.8 217.9,408.8 219.3,404.7 220.7,400.7 222.1,396.7 223.5,392.7 224.9,388.7 226.3,384.7 227.8,380.6 229.2,376.6 230.6,372.6 232.1,368.6 233.5,364.6 235.0,360.6 236.4,356.5 237.9,352.5 239.4,348.5 240.9,344.5 242.3,340.5 243.8,336.5 245.3,332.4 246.8,328.4 248.3,324.4 249.8,320.4 251.4,316.4 252.9,312.4 254.4,308.3 256.0,304.3 257.5,300.3 259.1,296.3 260.6,292.3 262.2,288.3 263.7,284.2 265.3,280.2 266.9,276.2 268.5,272.2 270.1,268.2 271.7,264.2 272.9,261.1" stroke="#36339a"/>
<path d="M272.9,261.1 273.3,260.1" stroke="#3a39a0"/>
<path d="M273.3,260.1 273.7,259.1" stroke="#3e3ea6"/>
<path d="M273.7,259.1 274.1,258.1" stroke="#4046aa"/>
<path d="M274.1,258.1 274.5,257.1" stroke="#434dae"/>
<path d="M274.5,257.1 274.9,256.1" stroke="#4556b2"/>
<path d="M274.9,256.1 275.3,255.1" stroke="#4661b6"/>
<path d="M275.3,255.1 275.7,254.1" stroke="#486cba"/>
<path d="M275.7,254.1 276.1,253.1" stroke="#434dae"/>
<path d="M276.1,253.1 276.5,252.1" stroke="#38369d"/>
<path d="M276.5,252.1 278.2,248.1 279.8,244.1 281.5,240.1 283.1,236.0 284.8,232.0 286.5,228.0 288.1,224.0 289.0,222.0" stroke="#36339a"/>
<path d="M289.0,222.0 289.4,221.0" stroke="#3c3ba3"/>
<path d="M289.4,221.0 289.8,220.0" stroke="#414aac"/>
<path d="M289.8,220.0 290.2,219.0" stroke="#4556b2"/>
<path d="M290.2,219.0 290.7,218.0" stroke="#434dae"/>
<path d="M290.7,218.0 291.1,217.0" stroke="#4046aa"/>
<path d="M291.1,217.0 291.5,216.0" stroke="#3e3ea6"/>
<path d="M291.5,216.0 291.9,215.0" stroke="#4451b0"/>
<path d="M291.9,215.0 292.4,213.9" stroke="#486cba"/>
<path d="M292.4,213.9 292.8,212.9" stroke="#5aa8dc"/>
<path d="M292.8,212.9 293.2,211.9" stroke="#486cba"/>
<path d="M293.2,211.9 293.6,210.9" stroke="#4556b2"/>
<path d="M293.6,210.9 294.1,209.9" stroke="#4046aa"/>
<path d="M294.1,209.9 294.5,208.9" stroke="#4556b2"/>
<path d="M294.5,208.9 294.9,207.9" stroke="#486cba"/>
<path d="M294.9,207.9 295.3,206.9" stroke="#5aa8dc"/>
<path d="M295.3,206.9 295.8,205.9" stroke="#4767b8"/>
<path d="M295.8,205.9 296.2,204.9" stroke="#434dae"/>
<path d="M296.2,204.9 296.6,203.9" stroke="#3e3ea6"/>
<path d="M296.6,203.9 297.1,202.9 297.5,201.9" stroke="#3c3ba3"/>
<path d="M250.4,420.8 251.8,416.8 253.1,412.8 254.5,408.7 255.9,404.7 257.3,400.7 258.7,396.7 260.1,392.6 261.5,388.6 262.9,384.6 264.3,380.6 265.8,376.5 267.2,372.5 268.6,368.5 270.1,364.5 271.5,360.4 272.9,356.4 274.4,352.4 275.8,348.4 277.3,344.3 278.8,340.3 280.2,336.3 281.7,332.3 283.2,328.3 284.7,324.2 286.2,320.2 287.7,316.2 289.2,312.2 290.7,308.1 292.3,304.1 293.8,300.1 295.3,296.1 296.8,292.0 298.4,288.0 299.5,285.0" stroke="#38369d"/>
<path d="M287.1,420.8 288.5,416.7 289.9,412.6 291.3,408.6 292.6,404.5 294.0,400.4 295.4,396.3 296.9,392.2 298.3,388.1 299.7,384.1 300.8,381.0" stroke="#38369d"/>
<path d="M69.3,420.8 67.9,416.8 66.6,412.7 65.2,408.7 63.8,404.7 62.4,400.6 61.0,396.6 59.6,392.6 58.2,388.6 56.8,384.5 55.8,381.5" stroke="#38369d"/>
<path d="M106.0,420.8 104.6,416.8 103.2,412.7 101.8,408.7 100.4,404.6 99.0,400.6 97.6,396.5 96.2,392.5 94.8,388.4 93.4,384.4 91.9,380.3 90.5,376.3 89.0,372.3 87.6,368.2 86.2,364.2 84.7,360.1 83.3,356.1 81.8,352.0 81.1,350.0" stroke="#38369d"/>
<path d="M142.7,420.8 141.3,416.8 139.9,412.8 138.5,408.8 137.1,404.8 135.7,400.8 134.3,396.7 132.9,392.7 131.5,388.7 130.0,384.7 128.6,380.7 127.2,376.7 125.7,372.7 124.3,368.7 122.8,364.7 121.4,360.7 119.9,356.6 118.4,352.6 117.0,348.6 115.5,344.6 114.0,340.6 112.5,336.6" stroke="#38369d"/>
<path d="M177.8,416.0 176.4,412.0 174.9,408.0 173.5,404.0 172.1,400.0 170.7,396.0 169.6,393.0" stroke="#36339a"/>
<path d="M169.6,393.0 169.2,392.0" stroke="#414aac"/>
<path d="M169.2,392.0 168.9,391.0" stroke="#4767b8"/>
<path d="M168.9,391.0 168.5,390.0" stroke="#4661b6"/>
<path d="M168.5,390.0 168.2,389.0" stroke="#4046aa"/>
<path d="M168.2,389.0 166.7,385.0 165.3,381.0 163.8,377.0 162.4,373.0" stroke="#36339a"/>
<path d="M162.4,373.0 162.0,372.0" stroke="#3e3ea6"/>
<path d="M162.0,372.0 161.6,371.0" stroke="#414aac"/>
<path d="M161.6,371.0 161.3,370.0" stroke="#4556b2"/>
<path d="M161.3,370.0 160.9,369.0" stroke="#486cba"/>
<path d="M160.9,369.0 160.5,368.0" stroke="#4556b2"/>
<path d="M160.5,368.0 160.2,367.0" stroke="#414aac"/>
<path d="M160.2,367.0 159.8,366.0" stroke="#3e3ea6"/>
<path d="M159.8,366.0 158.3,362.0 156.9,358.0 155.4,354.0 153.9,350.0 152.4,346.0 150.9,342.0 149.4,338.0 147.9,334.0 146.4,330.0 144.8,326.0 143.3,322.0 142.5,320.0" stroke="#36339a"/>
<path d="M216.2,420.8 214.7,416.8 213.3,412.7 211.8,408.7 210.4,404.6 208.9,400.6 207.5,396.5 206.0,392.5 204.5,388.4 203.1,384.4 201.6,380.3 200.1,376.3 198.6,372.2 197.9,370.2" stroke="#38369d"/>
<path d="M196.7,367.0 196.3,366.0 195.9,365.0 195.6,364.0 195.2,363.0 194.8,362.0" stroke="#36339a"/>
<path d="M194.8,362.0 194.4,361.0" stroke="#4046aa"/>
<path d="M194.4,361.0 194.1,360.0 193.7,359.0" stroke="#465cb4"/>
<path d="M193.7,359.0 193.3,358.0" stroke="#4046aa"/>
<path d="M193.3,358.0 191.8,354.0 190.3,350.0 188.8,346.0 188.4,345.0" stroke="#36339a"/>
<path d="M188.4,345.0 188.0,344.0" stroke="#3f42a8"/>
<path d="M188.0,344.0 187.7,343.0" stroke="#4556b2"/>
<path d="M187.7,343.0 187.3,342.0" stroke="#3f42a8"/>
<path d="M187.3,342.0 186.9,341.0 186.5,340.0" stroke="#36339a"/>
<path d="M176.3,313.5 174.7,309.4 173.0,305.2 171.4,301.1 169.8,297.0" stroke="#4661b6"/>
<path d="M252.9,420.8 251.4,416.8 250.0,412.8 248.6,408.8 247.1,404.8 245.7,400.8 244.2,396.8 242.7,392.8 241.3,388.8 239.8,384.8 238.3,380.8 236.8,376.8 235.3,372.8 233.8,368.8 232.3,364.8 230.8,360.8 229.3,356.8 227.8,352.8 226.3,348.8 224.7,344.8 223.2,340.8 221.7,336.8 220.1,332.8 218.6,328.8 217.0,324.8 215.4,320.8 213.8,316.8 212.3,312.8 210.7,308.8 209.1,304.8 207.5,300.8 205.8,296.8 204.2,292.8 202.6,288.8 200.9,284.8 199.3,280.8 197.6,276.8 196.0,272.8 194.3,268.8 192.6,264.8 190.9,260.8 189.2,256.8" stroke="#38369d"/>
<path d="M300.4,352.0 298.8,348.0 297.2,344.0 295.6,339.9 294.0,335.9 292.4,331.9 290.8,327.9 289.2,323.9 287.6,319.9 286.0,315.8 284.4,311.8 282.7,307.8 281.1,303.8 279.4,299.8 277.7,295.7 276.0,291.7 274.3,287.7 273.1,284.7" stroke="#38369d"/>
<path d="M298.6,260.6 296.8,256.6 295.1,252.6 293.3,248.6 292.8,247.6" stroke="#36339a"/>
<path d="M292.8,247.6 292.4,246.6" stroke="#38369d"/>
<path d="M292.4,246.6 291.9,245.6" stroke="#3c3ba3"/>
<path d="M291.9,245.6 291.5,244.6" stroke="#4046aa"/>
<path d="M291.5,244.6 291.0,243.6" stroke="#4661b6"/>
<path d="M291.0,243.6 290.6,242.6" stroke="#486cba"/>
<path d="M290.6,242.6 290.1,241.6" stroke="#4451b0"/>
<path d="M290.1,241.6 289.6,240.6" stroke="#3f42a8"/>
<path d="M289.6,240.6 289.2,239.6" stroke="#3c3ba3"/>
<path d="M289.2,239.6 288.7,238.6" stroke="#414aac"/>
<path d="M288.7,238.6 288.3,237.6 287.8,236.6" stroke="#4556b2"/>
<path d="M287.8,236.6 287.4,235.6" stroke="#3e3ea6"/>
<path d="M287.4,235.6 285.5,231.6 283.7,227.6 281.8,223.6 279.9,219.6 278.0,215.6 276.1,211.6 274.2,207.6 272.3,203.6 270.3,199.6 268.4,195.6 266.4,191.6 264.4,187.6 262.5,183.6" stroke="#36339a"/>
<path d="M262.5,183.6 262.0,182.6 261.5,181.6 261.0,180.6" stroke="#38369d"/>
<path d="M261.0,180.6 260.5,179.6 260.0,178.6" stroke="#3a39a0"/>
<path d="M260.0,178.6 259.5,177.6 259.0,176.6" stroke="#3c3ba3"/>
<path d="M257.2,173.0 256.6,171.9 256.1,170.9 255.5,169.8 255.0,168.7 254.4,167.7 253.9,166.6" stroke="#434dae"/>
<path d="M286.2,161.0 284.0,156.8 281.8,152.6 281.2,151.5" stroke="#38369d"/>
<path d="M294.9,112.0 292.6,108.0 290.4,104.0 288.2,99.9 285.9,95.9 283.7,91.9 281.4,87.8 279.1,83.8 276.7,79.8" stroke="#38369d"/>
<path d="M289.6,420.8 288.1,416.8 286.7,412.8 285.2,408.8 283.8,404.8 282.3,400.8 280.8,396.8 279.3,392.7 277.8,388.7 276.3,384.7 274.9,380.7 273.3,376.7 271.8,372.7 270.3,368.7 268.8,364.7 267.3,360.7 265.7,356.7 264.2,352.7 262.6,348.7 261.1,344.7 259.5,340.6 258.0,336.6 256.4,332.6 254.8,328.6 253.2,324.6 251.6,320.6 250.0,316.6 248.4,312.6 246.8,308.6 245.2,304.6 243.6,300.6 241.9,296.6 240.2,292.5 238.6,288.5 236.9,284.5 235.2,280.5 233.5,276.5 231.8,272.5 230.1,268.5 228.4,264.5 226.7,260.5 225.0,256.5 223.2,252.5 221.5,248.5 219.7,244.5 219.3,243.5" stroke="#36339a"/>
<path d="M219.3,243.5 218.9,242.4 218.4,241.4" stroke="#38369d"/>
<path d="M218.4,241.4 218.0,240.4" stroke="#3a39a0"/>
<path d="M218.0,240.4 217.5,239.4 217.1,238.4" stroke="#3c3ba3"/>
<path d="M217.1,238.4 216.7,237.4" stroke="#3e3ea6"/>
<path d="M216.7,237.4 216.2,236.4" stroke="#3f42a8"/>
<path d="M216.2,236.4 215.8,235.4" stroke="#414aac"/>
<path d="M215.8,235.4 215.3,234.4" stroke="#434dae"/>
<path d="M215.3,234.4 214.9,233.4" stroke="#4556b2"/>
<path d="M214.9,233.4 214.4,232.4" stroke="#465cb4"/>
<path d="M214.4,232.4 214.0,231.4" stroke="#4767b8"/>
<path d="M214.0,231.4 213.5,230.4" stroke="#4b7cc3"/>
<path d="M213.5,230.4 213.1,229.4" stroke="#5aa8dc"/>
<path d="M213.1,229.4 212.6,228.4 212.2,227.4 211.7,226.4" stroke="#63b3e0"/>
<path d="M211.7,226.4 211.3,225.4 210.8,224.4 210.4,223.4 209.9,222.4 209.5,221.4 209.0,220.4 208.5,219.4" stroke="#6cbee4"/>
<path d="M208.5,219.4 208.1,218.4 207.6,217.4" stroke="#76c7e6"/>
<path d="M205.3,212.4 204.9,211.4" stroke="#8dd9e5"/>
<path d="M204.9,211.4 204.4,210.4" stroke="#93dce2"/>
<path d="M204.4,210.4 203.9,209.4" stroke="#99ddd3"/>
<path d="M203.9,209.4 203.5,208.4" stroke="#a0debf"/>
<path d="M203.5,208.4 203.0,207.3" stroke="#a4deaf"/>
<path d="M203.0,207.3 202.5,206.3" stroke="#b4dd76"/>
<path d="M202.5,206.3 202.1,205.3" stroke="#c2dc4a"/>
<path d="M202.1,205.3 201.6,204.3" stroke="#d0de2e"/>
<path d="M201.6,204.3 201.1,203.3" stroke="#e4e213"/>
<path d="M201.1,203.3 200.6,202.3" stroke="#efe00f"/>
<path d="M200.6,202.3 200.2,201.3" stroke="#fade0a"/>
<path d="M200.2,201.3 199.7,200.3" stroke="#f8c90d"/>
<path d="M199.7,200.3 199.2,199.3" stroke="#f7bf0e"/>
<path d="M199.2,199.3 198.8,198.3" stroke="#f5aa10"/>
<path d="M198.8,198.3 198.3,197.2" stroke="#f49f11"/>
<path d="M198.3,197.2 197.8,196.2" stroke="#f28912"/>
<path d="M197.8,196.2 197.3,195.2" stroke="#ed6b14"/>
<path d="M197.3,195.2 196.9,194.2" stroke="#ea5817"/>
<path d="M196.9,194.2 196.4,193.2" stroke="#e33f1b"/>
<path d="M196.4,193.2 194.5,189.2 192.5,185.1 190.6,181.1 188.6,177.0 186.7,173.0 185.2,170.0" stroke="#de301d"/>
<path d="M185.2,170.0 184.7,169.0" stroke="#e64719"/>
<path d="M184.7,169.0 184.2,168.0" stroke="#ed6b14"/>
<path d="M184.2,168.0 183.7,166.9" stroke="#f39411"/>
<path d="M183.7,166.9 183.2,165.9" stroke="#f6b40f"/>
<path d="M183.2,165.9 182.7,164.9" stroke="#f8c90d"/>
<path d="M182.7,164.9 182.2,163.9" stroke="#f5df0c"/>
<path d="M182.2,163.9 181.7,162.9" stroke="#c2dc4a"/>
<path d="M181.7,162.9 181.2,161.9" stroke="#93dce2"/>
<path d="M181.2,161.9 180.7,160.9" stroke="#80d0e8"/>
<path d="M180.7,160.9 180.2,159.9" stroke="#86d4e7"/>
<path d="M180.2,159.9 179.7,158.9 179.2,157.9" stroke="#8dd9e5"/>
<path d="M179.2,157.9 178.7,156.8 178.2,155.8" stroke="#93dce2"/>
<path d="M178.2,155.8 177.7,154.8" stroke="#96dddb"/>
<path d="M177.7,154.8 177.2,153.8" stroke="#9ddecb"/>
<path d="M177.2,153.8 176.7,152.8" stroke="#a8dd9f"/>
<path d="M176.7,152.8 176.2,151.8" stroke="#bbdc60"/>
<path d="M176.2,151.8 175.7,150.8" stroke="#c9dd38"/>
<path d="M175.7,150.8 175.2,149.8 174.8,148.8 174.3,147.8" stroke="#d0de2e"/>
<path d="M174.3,147.8 173.8,146.7 173.3,145.7" stroke="#d7e024"/>
<path d="M173.3,145.7 172.8,144.7 172.3,143.7" stroke="#dee11a"/>
<path d="M172.3,143.7 171.8,142.7" stroke="#e4e213"/>
<path d="M152.6,104.7 152.0,103.7" stroke="#c9dd38"/>
<path d="M152.0,103.7 151.5,102.6" stroke="#d0de2e"/>
<path d="M151.5,102.6 150.9,101.6 150.4,100.6" stroke="#d7e024"/>
<path d="M150.4,100.6 149.8,99.5" stroke="#dee11a"/>
<path d="M149.8,99.5 149.3,98.5 148.7,97.4" stroke="#e4e213"/>
<path d="M148.7,97.4 148.2,96.4" stroke="#eae111"/>
<path d="M195.3,192.5 195.8,191.5" stroke="#de301d"/>
<path d="M195.8,191.5 196.3,190.5" stroke="#e0371c"/>
<path d="M196.3,190.5 196.7,189.5 197.2,188.5" stroke="#e33f1b"/>
<path d="M197.2,188.5 197.7,187.5" stroke="#e64719"/>
<path d="M197.7,187.5 198.1,186.5" stroke="#e84e18"/>
<path d="M198.1,186.5 198.6,185.5" stroke="#ea5817"/>
<path d="M198.6,185.5 199.1,184.4" stroke="#eb6116"/>
<path d="M199.1,184.4 199.5,183.4" stroke="#ed6b14"/>
<path d="M199.5,183.4 200.0,182.4" stroke="#ef7413"/>
<path d="M200.0,182.4 200.5,181.4" stroke="#f28912"/>
<path d="M200.5,181.4 201.0,180.4" stroke="#f39411"/>
<path d="M201.0,180.4 201.4,179.4" stroke="#f5aa10"/>
<path d="M201.4,179.4 201.9,178.4" stroke="#f6b40f"/>
<path d="M201.9,178.4 202.4,177.4" stroke="#f8c90d"/>
<path d="M202.4,177.4 202.9,176.4" stroke="#f9d40b"/>
<path d="M202.9,176.4 203.3,175.4" stroke="#f5df0c"/>
<path d="M203.3,175.4 203.8,174.4" stroke="#eae111"/>
<path d="M203.8,174.4 204.3,173.4" stroke="#d7e024"/>
<path d="M204.3,173.4 204.8,172.4" stroke="#c9dd38"/>
<path d="M204.8,172.4 205.2,171.4" stroke="#a4deaf"/>
<path d="M205.2,171.4 205.7,170.4" stroke="#8dd9e5"/>
<path d="M205.7,170.4 206.2,169.4" stroke="#63b3e0"/>
<path d="M206.2,169.4 206.7,168.3" stroke="#4767b8"/>
<path d="M206.7,168.3 207.2,167.3" stroke="#4556b2"/>
<path d="M207.2,167.3 207.7,166.3" stroke="#434dae"/>
<path d="M207.7,166.3 208.1,165.3" stroke="#4046aa"/>
<path d="M208.1,165.3 208.6,164.3" stroke="#3c3ba3"/>
<path d="M208.6,164.3 209.1,163.3 209.6,162.3" stroke="#3a39a0"/>
<path d="M209.6,162.3 210.1,161.3 210.6,160.3 211.1,159.3 211.6,158.3 212.0,157.3" stroke="#38369d"/>
<path d="M212.0,157.3 212.5,156.3 213.0,155.3 213.5,154.3 214.0,153.3 214.5,152.2" stroke="#36339a"/>
<path d="M214.5,152.2 214.9,151.2 215.4,150.2 215.9,149.2 216.4,148.2" stroke="#38369d"/>
<path d="M216.4,148.2 216.8,147.2 217.3,146.2 217.8,145.2" stroke="#3a39a0"/>
<path d="M217.8,145.2 218.3,144.2" stroke="#3c3ba3"/>
<path d="M218.3,144.2 218.7,143.2" stroke="#3e3ea6"/>
<path d="M218.7,143.2 219.2,142.2" stroke="#3f42a8"/>
<path d="M219.2,142.2 219.7,141.2" stroke="#4046aa"/>
<path d="M219.7,141.2 220.2,140.2" stroke="#414aac"/>
<path d="M220.2,140.2 220.7,139.2" stroke="#434dae"/>
<path d="M220.7,139.2 221.1,138.2" stroke="#4451b0"/>
<path d="M221.1,138.2 221.6,137.2" stroke="#4556b2"/>
<path d="M221.6,137.2 222.1,136.1" stroke="#465cb4"/>
<path d="M222.1,136.1 222.6,135.1" stroke="#4661b6"/>
<path d="M222.6,135.1 223.1,134.1" stroke="#4767b8"/>
<path d="M223.1,134.1 223.6,133.1" stroke="#486cba"/>
<path d="M223.6,133.1 224.1,132.1" stroke="#4b7cc3"/>
<path d="M224.1,132.1 224.5,131.1 225.0,130.1" stroke="#4e8ccc"/>
<path d="M225.0,130.1 225.5,129.1 226.0,128.1 226.5,127.1" stroke="#549ad4"/>
<path d="M226.5,127.1 227.0,126.1 227.5,125.1" stroke="#5aa8dc"/>
<path d="M227.5,125.1 228.0,124.1 228.5,123.1" stroke="#63b3e0"/>
<path d="M228.5,123.1 229.0,122.1" stroke="#6cbee4"/>
<path d="M229.0,122.1 229.5,121.1 230.0,120.0" stroke="#76c7e6"/>
<path d="M230.0,120.0 230.5,119.0" stroke="#80d0e8"/>
<path d="M230.5,119.0 231.0,118.0" stroke="#86d4e7"/>
<path d="M231.0,118.0 231.5,117.0" stroke="#8dd9e5"/>
<path d="M231.5,117.0 232.0,116.0" stroke="#93dce2"/>
<path d="M232.0,116.0 232.5,115.0 233.0,114.0 233.5,113.0" stroke="#96dddb"/>
<path d="M176.1,159.0 176.6,158.0 177.1,157.0" stroke="#8dd9e5"/>
<path d="M177.1,157.0 177.6,156.0 178.1,154.9" stroke="#93dce2"/>
<path d="M178.1,154.9 178.6,153.9 179.1,152.9" stroke="#96dddb"/>
<path d="M179.1,152.9 179.6,151.9 180.1,150.9" stroke="#99ddd3"/>
<path d="M180.1,150.9 182.0,146.8 184.0,142.8 186.0,138.7 188.0,134.6 190.0,130.6 192.0,126.5 193.0,124.5" stroke="#9ddecb"/>
<path d="M199.1,112.4 199.7,111.4 200.2,110.4" stroke="#434dae"/>
<path d="M200.2,110.4 200.7,109.4 201.2,108.3 201.8,107.3" stroke="#4451b0"/>
<path d="M201.8,107.3 202.3,106.3 202.8,105.3 203.3,104.3" stroke="#4556b2"/>
<path d="M203.3,104.3 203.9,103.3 204.4,102.3 204.9,101.2" stroke="#465cb4"/>
<path d="M204.9,101.2 205.5,100.2 206.0,99.2" stroke="#4661b6"/>
<path d="M206.0,99.2 206.5,98.2" stroke="#4767b8"/>
<path d="M206.5,98.2 207.1,97.2" stroke="#4b7cc3"/>
<path d="M207.1,97.2 207.6,96.2" stroke="#4e8ccc"/>
<path d="M207.6,96.2 208.2,95.2" stroke="#5aa8dc"/>
<path d="M208.2,95.2 208.7,94.1" stroke="#63b3e0"/>
<path d="M208.7,94.1 209.2,93.1" stroke="#76c7e6"/>
<path d="M209.2,93.1 209.8,92.1" stroke="#80d0e8"/>
<path d="M209.8,92.1 210.3,91.1" stroke="#8dd9e5"/>
<path d="M210.3,91.1 210.9,90.1" stroke="#93dce2"/>
<path d="M210.9,90.1 211.4,89.1" stroke="#96dddb"/>
<path d="M211.4,89.1 212.0,88.1" stroke="#99ddd3"/>
<path d="M212.0,88.1 212.5,87.0" stroke="#9ddecb"/>
<path d="M212.5,87.0 213.1,86.0" stroke="#a0debf"/>
<path d="M213.1,86.0 213.6,85.0" stroke="#addd8d"/>
<path d="M213.6,85.0 214.2,84.0" stroke="#c9dd38"/>
<path d="M162.4,116.5 162.9,115.5" stroke="#80d0e8"/>
<path d="M162.9,115.5 163.4,114.5" stroke="#76c7e6"/>
<path d="M163.4,114.5 164.0,113.5" stroke="#63b3e0"/>
<path d="M164.0,113.5 164.5,112.5" stroke="#5aa8dc"/>
<path d="M164.5,112.5 165.0,111.5" stroke="#4e8ccc"/>
<path d="M165.0,111.5 165.5,110.5" stroke="#4b7cc3"/>
<path d="M165.5,110.5 166.1,109.5" stroke="#4767b8"/>
<path d="M166.1,109.5 166.6,108.5" stroke="#4661b6"/>
<path d="M166.6,108.5 167.1,107.4" stroke="#465cb4"/>
<path d="M167.1,107.4 167.6,106.4" stroke="#4451b0"/>
<path d="M167.6,106.4 168.2,105.4" stroke="#434dae"/>
<path d="M168.2,105.4 168.7,104.4" stroke="#414aac"/>
<path d="M168.7,104.4 169.2,103.4" stroke="#4046aa"/>
<path d="M169.2,103.4 169.8,102.4" stroke="#3f42a8"/>
<path d="M169.8,102.4 170.3,101.4" stroke="#3e3ea6"/>
<path d="M170.3,101.4 170.8,100.4" stroke="#3c3ba3"/>
<path d="M170.8,100.4 173.0,96.4 175.2,92.4 177.4,88.3 179.6,84.3 181.2,81.3" stroke="#3a39a0"/>
<path d="M181.2,81.3 181.8,80.3" stroke="#3c3ba3"/>
<path d="M181.8,80.3 182.4,79.3" stroke="#3e3ea6"/>
<path d="M182.4,79.3 182.9,78.3" stroke="#3f42a8"/>
<path d="M182.9,78.3 183.5,77.3" stroke="#4046aa"/>
<path d="M183.5,77.3 184.0,76.3" stroke="#414aac"/>
<path d="M184.0,76.3 184.6,75.2" stroke="#4451b0"/>
<path d="M184.6,75.2 185.2,74.2" stroke="#4556b2"/>
<path d="M185.2,74.2 185.7,73.2" stroke="#465cb4"/>
<path d="M185.7,73.2 186.3,72.2" stroke="#4767b8"/>
<path d="M186.3,72.2 186.9,71.2" stroke="#486cba"/>
<path d="M186.9,71.2 187.4,70.2" stroke="#4e8ccc"/>
<path d="M187.4,70.2 188.0,69.2" stroke="#5aa8dc"/>
<path d="M188.0,69.2 188.6,68.2" stroke="#6cbee4"/>
<path d="M188.6,68.2 189.2,67.2" stroke="#80d0e8"/>
<path d="M192.3,114.5 190.2,110.5 188.1,106.5 187.5,105.5" stroke="#5aa8dc"/>
<path d="M187.5,105.5 187.0,104.5" stroke="#549ad4"/>
<path d="M187.0,104.5 186.5,103.5" stroke="#4e8ccc"/>
<path d="M186.5,103.5 186.0,102.5" stroke="#4b7cc3"/>
<path d="M186.0,102.5 185.4,101.5" stroke="#486cba"/>
<path d="M185.4,101.5 184.9,100.5" stroke="#4767b8"/>
<path d="M184.9,100.5 184.3,99.5" stroke="#4661b6"/>
<path d="M184.3,99.5 183.8,98.5" stroke="#465cb4"/>
<path d="M183.8,98.5 183.3,97.5 182.7,96.5" stroke="#4556b2"/>
<path d="M182.7,96.5 182.2,95.5 181.6,94.5" stroke="#434dae"/>
<path d="M181.6,94.5 181.1,93.5 180.6,92.5" stroke="#4046aa"/>
<path d="M180.6,92.5 180.0,91.5 179.5,90.5" stroke="#3e3ea6"/>
<path d="M179.5,90.5 178.9,89.5 178.4,88.5 177.8,87.5" stroke="#3a39a0"/>
<path d="M177.8,87.5 177.3,86.5 176.7,85.5 176.2,84.5 175.6,83.5 175.1,82.5" stroke="#38369d"/>
<path d="M175.1,82.5 174.5,81.5 174.0,80.5" stroke="#36339a"/>
<path d="M272.1,282.4 270.4,278.4 268.7,274.4 266.9,270.4 265.2,266.4 263.5,262.4 261.7,258.4 260.0,254.4 258.2,250.4 256.4,246.4 256.0,245.4" stroke="#36339a"/>
<path d="M256.0,245.4 254.2,241.4 252.4,237.4 250.6,233.4 248.8,229.4 246.9,225.4 245.1,221.4 243.2,217.4 241.4,213.4 239.5,209.4 237.6,205.4 235.7,201.3 233.8,197.3 231.9,193.3 229.9,189.3 228.0,185.3 226.0,181.3 224.1,177.3 222.1,173.3 221.1,171.3" stroke="#38369d"/>
<path d="M221.1,171.3 219.1,167.3 217.1,163.3 215.1,159.3 213.0,155.3 211.0,151.3 209.1,147.3 207.1,143.3 205.0,139.3 203.0,135.3 202.5,134.3" stroke="#3a39a0"/>
<path d="M202.5,134.3 202.0,133.3" stroke="#3c3ba3"/>
<path d="M202.0,133.3 201.5,132.3" stroke="#3e3ea6"/>
<path d="M201.5,132.3 201.0,131.3" stroke="#3f42a8"/>
<path d="M201.0,131.3 200.5,130.3" stroke="#4046aa"/>
<path d="M200.5,130.3 200.0,129.3 199.4,128.3" stroke="#434dae"/>
<path d="M199.4,128.3 198.9,127.3 198.4,126.3" stroke="#4451b0"/>
<path d="M245.7,150.5 243.6,146.4 241.5,142.4 239.5,138.3 237.4,134.3 235.2,130.2 233.1,126.2 232.6,125.1" stroke="#9ddecb"/>
<path d="M232.6,125.1 232.1,124.1" stroke="#99ddd3"/>
<path d="M232.1,124.1 231.5,123.1" stroke="#96dddb"/>
<path d="M231.5,123.1 231.0,122.1" stroke="#93dce2"/>
<path d="M231.0,122.1 230.5,121.1" stroke="#8dd9e5"/>
<path d="M230.5,121.1 229.9,120.1" stroke="#86d4e7"/>
<path d="M229.9,120.1 229.4,119.1" stroke="#80d0e8"/>
<path d="M229.4,119.1 228.8,118.0" stroke="#5aa8dc"/>
<path d="M228.8,118.0 228.3,117.0" stroke="#486cba"/>
<path d="M228.3,117.0 227.8,116.0" stroke="#4556b2"/>
<path d="M227.8,116.0 227.2,115.0" stroke="#414aac"/>
<path d="M227.2,115.0 226.7,114.0" stroke="#3f42a8"/>
<path d="M226.7,114.0 226.1,113.0 225.6,112.0" stroke="#3a39a0"/>
<path d="M225.6,112.0 225.0,110.9 224.5,109.9 224.0,108.9" stroke="#3c3ba3"/>
<path d="M224.0,108.9 223.4,107.9 222.9,106.9" stroke="#3e3ea6"/>
<path d="M222.9,106.9 222.3,105.9" stroke="#3f42a8"/>
<path d="M222.3,105.9 221.8,104.9 221.2,103.8" stroke="#4046aa"/>
<path d="M221.2,103.8 220.7,102.8" stroke="#414aac"/>
<path d="M220.7,102.8 220.1,101.8 219.6,100.8" stroke="#434dae"/>
<path d="M219.6,100.8 219.0,99.8" stroke="#4451b0"/>
<path d="M219.0,99.8 218.5,98.8" stroke="#4556b2"/>
<path d="M218.5,98.8 217.9,97.8" stroke="#465cb4"/>
<path d="M217.9,97.8 217.4,96.7" stroke="#4661b6"/>
<path d="M217.4,96.7 216.8,95.7" stroke="#486cba"/>
<path d="M216.8,95.7 216.3,94.7" stroke="#4b7cc3"/>
<path d="M216.3,94.7 215.7,93.7" stroke="#4e8ccc"/>
<path d="M215.7,93.7 215.1,92.7" stroke="#5aa8dc"/>
<path d="M215.1,92.7 214.6,91.7" stroke="#63b3e0"/>
<path d="M214.6,91.7 214.0,90.7" stroke="#76c7e6"/>
<path d="M214.0,90.7 213.5,89.6" stroke="#86d4e7"/>
<path d="M213.5,89.6 212.9,88.6" stroke="#93dce2"/>
<path d="M212.9,88.6 212.3,87.6" stroke="#99ddd3"/>
<path d="M212.3,87.6 211.8,86.6" stroke="#a0debf"/>
<path d="M186.1,298.0 187.7,294.0 189.3,290.0 190.9,286.0 192.5,282.0 194.1,277.9 195.7,273.9 197.4,269.9 199.0,265.9 200.7,261.9 202.4,257.9 204.0,253.9 205.7,249.9 207.4,245.8 209.1,241.8" stroke="#36339a"/>
<path d="M209.1,241.8 209.5,240.8" stroke="#38369d"/>
<path d="M209.5,240.8 210.0,239.8" stroke="#3a39a0"/>
<path d="M210.0,239.8 210.4,238.8" stroke="#3c3ba3"/>
<path d="M210.4,238.8 210.8,237.8 211.3,236.8" stroke="#3e3ea6"/>
<path d="M211.3,236.8 211.7,235.8" stroke="#3f42a8"/>
<path d="M211.7,235.8 212.1,234.8" stroke="#4046aa"/>
<path d="M212.1,234.8 212.5,233.8" stroke="#434dae"/>
<path d="M212.5,233.8 213.0,232.8" stroke="#465cb4"/>
<path d="M213.0,232.8 213.4,231.8" stroke="#4767b8"/>
<path d="M213.4,231.8 213.8,230.8" stroke="#4b7cc3"/>
<path d="M213.8,230.8 214.3,229.8" stroke="#549ad4"/>
<path d="M214.3,229.8 214.7,228.8 215.1,227.8" stroke="#63b3e0"/>
<path d="M215.1,227.8 215.6,226.8 216.0,225.8 216.4,224.8" stroke="#6cbee4"/>
<path d="M216.4,224.8 216.9,223.8 217.3,222.8 217.7,221.8" stroke="#76c7e6"/>
<path d="M217.7,221.8 218.2,220.8 218.6,219.8 219.1,218.8" stroke="#80d0e8"/>
<path d="M219.1,218.8 219.5,217.8 219.9,216.8 220.4,215.8 220.8,214.8" stroke="#86d4e7"/>
<path d="M220.8,214.8 221.3,213.8 221.7,212.8 222.1,211.8 222.6,210.7" stroke="#8dd9e5"/>
<path d="M222.6,210.7 223.0,209.7 223.5,208.7 223.9,207.7 224.4,206.7" stroke="#86d4e7"/>
<path d="M224.4,206.7 224.8,205.7 225.2,204.7 225.7,203.7" stroke="#80d0e8"/>
<path d="M225.7,203.7 226.1,202.7" stroke="#76c7e6"/>
<path d="M226.1,202.7 226.6,201.7" stroke="#6cbee4"/>
<path d="M226.6,201.7 227.0,200.7" stroke="#63b3e0"/>
<path d="M227.0,200.7 227.5,199.7" stroke="#5aa8dc"/>
<path d="M227.5,199.7 227.9,198.7" stroke="#549ad4"/>
<path d="M227.9,198.7 228.4,197.7" stroke="#4e8ccc"/>
<path d="M228.4,197.7 228.8,196.7" stroke="#486cba"/>
<path d="M228.8,196.7 229.3,195.7" stroke="#4767b8"/>
<path d="M229.3,195.7 229.7,194.7" stroke="#4661b6"/>
<path d="M229.7,194.7 230.2,193.7" stroke="#465cb4"/>
<path d="M230.2,193.7 230.6,192.7" stroke="#4556b2"/>
<path d="M230.6,192.7 231.1,191.7" stroke="#4451b0"/>
<path d="M231.1,191.7 231.6,190.7" stroke="#434dae"/>
<path d="M231.6,190.7 232.0,189.7" stroke="#414aac"/>
<path d="M232.0,189.7 232.5,188.7" stroke="#4046aa"/>
<path d="M232.5,188.7 232.9,187.7" stroke="#3f42a8"/>
<path d="M232.9,187.7 233.4,186.7" stroke="#3e3ea6"/>
<path d="M233.4,186.7 233.8,185.7 234.3,184.7" stroke="#3c3ba3"/>
<path d="M234.3,184.7 234.8,183.7 235.2,182.7" stroke="#3a39a0"/>
<path d="M235.2,182.7 235.7,181.7 236.2,180.7" stroke="#38369d"/>
<path d="M236.2,180.7 236.6,179.7 237.1,178.7 237.5,177.7 238.0,176.6 238.5,175.6" stroke="#36339a"/>
<path d="M238.5,175.6 238.9,174.6 239.4,173.6 239.9,172.6 240.3,171.6 240.8,170.6 241.3,169.6 241.8,168.6" stroke="#38369d"/>
<path d="M241.8,168.6 242.2,167.6 242.7,166.6 243.2,165.6 243.7,164.6 244.1,163.6" stroke="#3a39a0"/>
<path d="M244.1,163.6 244.6,162.6" stroke="#3e3ea6"/>
<path d="M244.6,162.6 245.1,161.6" stroke="#3f42a8"/>
<path d="M245.1,161.6 245.6,160.6" stroke="#4046aa"/>
<path d="M245.6,160.6 246.0,159.6" stroke="#414aac"/>
</g>
</g>
<g font-size="16" fill="#000" stroke="#000" stroke-width="0.35">
<text y="60.5"><tspan x="27.7">110</tspan><tspan x="55.5" dy="-12.3" font-size="8.5">o</tspan><tspan x="64.4" dy="12.3">E</tspan></text>
<text y="60.5"><tspan x="148.5">120</tspan><tspan x="176.3" dy="-12.3" font-size="8.5">o</tspan><tspan x="185.2" dy="12.3">E</tspan></text>
<text y="60.5"><tspan x="269.3">130</tspan><tspan x="297.1" dy="-12.3" font-size="8.5">o</tspan><tspan x="306.0" dy="12.3">E</tspan></text>
<text y="86.8"><tspan x="7.5">40</tspan><tspan x="25.7" dy="-11.7" font-size="8.5">o</tspan><tspan x="35.3" dy="11.7">N</tspan></text>
<text y="161.1"><tspan x="5.1">35</tspan><tspan x="23.3" dy="-11.7" font-size="8.5">o</tspan><tspan x="32.9" dy="11.7">N</tspan></text>
<text y="235.3"><tspan x="2.8">30</tspan><tspan x="21.0" dy="-11.7" font-size="8.5">o</tspan><tspan x="30.6" dy="11.7">N</tspan></text>
<text y="309.6"><tspan x="1.1">25</tspan><tspan x="19.3" dy="-11.7" font-size="8.5">o</tspan><tspan x="28.9" dy="11.7">N</tspan></text>
<text y="383.8"><tspan x="-0.1">20</tspan><tspan x="18.1" dy="-11.7" font-size="8.5">o</tspan><tspan x="27.7" dy="11.7">N</tspan></text>
</g>
</g>
<g transform="translate(361.2 -1.8)">
<clipPath id="cfb"><path d="M51.3,63.4 50.4,93.1 49.5,122.8 48.4,152.6 47.5,182.3 46.6,212.0 45.8,241.7 45.1,271.4 44.4,301.1 43.9,330.9 43.4,360.6 43.0,390.3 42.6,420.0 301.6,420.0 301.2,390.3 300.8,360.6 300.3,330.9 299.8,301.1 299.1,271.4 298.4,241.7 297.6,212.0 296.7,182.3 295.8,152.6 294.7,122.8 293.8,93.1 292.9,63.4Z"/></clipPath>
<clipPath id="cbb"><path clip-rule="evenodd" d="M20 45H335V440H20Z M52.2,64.3 51.3,93.1 50.4,122.8 49.3,152.6 48.4,182.3 47.5,212.0 46.7,241.7 46.0,271.4 45.3,301.1 44.8,330.9 44.3,360.6 43.9,390.3 43.5,419.1 300.7,419.1 300.3,390.3 299.9,360.6 299.4,330.9 298.9,301.1 298.2,271.4 297.5,241.7 296.7,212.0 295.8,182.3 294.9,152.6 293.8,122.8 292.9,93.1 292.0,64.3Z"/></clipPath>
<g fill="currentColor" fill-opacity=".3" stroke="currentColor" stroke-width="1.2">
<circle cx="167.0" cy="107.7" r="1.65" color="#8dd9e5"/>
<circle cx="167.5" cy="106.7" r="1.65" color="#93dce2"/>
<circle cx="168.1" cy="105.7" r="1.65" color="#80d0e8"/>
<circle cx="168.6" cy="104.7" r="1.65" color="#86d4e7"/>
<circle cx="169.1" cy="103.7" r="1.65" color="#93dce2"/>
<circle cx="169.7" cy="102.6" r="1.65" color="#8dd9e5"/>
<circle cx="170.2" cy="101.6" r="1.65" color="#5aa8dc"/>
<circle cx="170.7" cy="100.6" r="1.65" color="#549ad4"/>
<circle cx="171.3" cy="99.6" r="1.65" color="#4b7cc3"/>
<circle cx="171.8" cy="98.6" r="1.65" color="#5aa8dc"/>
<circle cx="172.3" cy="97.6" r="1.65" color="#4b7cc3"/>
<circle cx="172.9" cy="96.6" r="1.65" color="#5aa8dc"/>
<circle cx="173.4" cy="95.6" r="1.65" color="#63b3e0"/>
<circle cx="173.9" cy="94.6" r="1.65" color="#4e8ccc"/>
<circle cx="174.5" cy="93.6" r="1.65" color="#6cbee4"/>
<circle cx="175.0" cy="92.6" r="1.65" color="#6cbee4"/>
<circle cx="175.6" cy="91.6" r="1.65" color="#4e8ccc"/>
<circle cx="176.1" cy="90.7" r="1.65" color="#6cbee4"/>
<circle cx="176.6" cy="89.7" r="1.65" color="#63b3e0"/>
<circle cx="177.2" cy="88.7" r="1.65" color="#76c7e6"/>
<circle cx="177.7" cy="87.7" r="1.65" color="#76c7e6"/>
<circle cx="178.3" cy="86.7" r="1.65" color="#93dce2"/>
<circle cx="178.8" cy="85.7" r="1.65" color="#8dd9e5"/>
<circle cx="179.4" cy="84.7" r="1.65" color="#8dd9e5"/>
<circle cx="179.9" cy="83.7" r="1.65" color="#9ddecb"/>
<circle cx="180.5" cy="82.7" r="1.65" color="#a8dd9f"/>
<circle cx="181.0" cy="81.7" r="1.65" color="#a0debf"/>
<circle cx="181.6" cy="80.7" r="1.65" color="#a4deaf"/>
<circle cx="182.1" cy="79.7" r="1.65" color="#b4dd76"/>
<circle cx="182.7" cy="78.7" r="1.65" color="#dee11a"/>
<circle cx="183.2" cy="77.7" r="1.65" color="#eae111"/>
<circle cx="182.9" cy="96.8" r="1.65" color="#486cba"/>
<circle cx="183.5" cy="97.9" r="1.65" color="#5aa8dc"/>
<circle cx="184.0" cy="98.9" r="1.65" color="#86d4e7"/>
<circle cx="184.6" cy="99.9" r="1.65" color="#8dd9e5"/>
<circle cx="185.1" cy="101.0" r="1.65" color="#86d4e7"/>
<circle cx="185.7" cy="102.0" r="1.65" color="#a0debf"/>
<circle cx="186.2" cy="103.0" r="1.65" color="#a0debf"/>
<circle cx="186.8" cy="104.1" r="1.65" color="#a4deaf"/>
<circle cx="187.3" cy="105.1" r="1.65" color="#a4deaf"/>
<circle cx="187.9" cy="106.1" r="1.65" color="#c2dc4a"/>
<circle cx="188.4" cy="107.2" r="1.65" color="#dee11a"/>
<circle cx="189.0" cy="108.2" r="1.65" color="#efe00f"/>
<circle cx="189.5" cy="109.3" r="1.65" color="#f8c90d"/>
<circle cx="190.1" cy="110.3" r="1.65" color="#f49f11"/>
<circle cx="190.6" cy="111.3" r="1.65" color="#ea5817"/>
<circle cx="191.2" cy="112.4" r="1.65" color="#e64719"/>
<circle cx="191.7" cy="113.4" r="1.65" color="#e33f1b"/>
<circle cx="199.0" cy="112.8" r="1.65" color="#4e8ccc"/>
<circle cx="199.5" cy="111.7" r="1.65" color="#5aa8dc"/>
<circle cx="200.0" cy="110.7" r="1.65" color="#549ad4"/>
<circle cx="200.5" cy="109.7" r="1.65" color="#5aa8dc"/>
<circle cx="201.1" cy="108.7" r="1.65" color="#76c7e6"/>
<circle cx="201.6" cy="107.7" r="1.65" color="#5aa8dc"/>
<circle cx="202.1" cy="106.6" r="1.65" color="#80d0e8"/>
<circle cx="202.7" cy="105.6" r="1.65" color="#80d0e8"/>
<circle cx="203.2" cy="104.6" r="1.65" color="#96dddb"/>
<circle cx="203.7" cy="103.6" r="1.65" color="#9ddecb"/>
<circle cx="204.3" cy="102.6" r="1.65" color="#a0debf"/>
<circle cx="204.8" cy="101.5" r="1.65" color="#a4deaf"/>
<circle cx="205.3" cy="100.5" r="1.65" color="#a0debf"/>
<circle cx="205.9" cy="99.5" r="1.65" color="#b4dd76"/>
<circle cx="206.4" cy="98.5" r="1.65" color="#b4dd76"/>
<circle cx="206.9" cy="97.5" r="1.65" color="#d0de2e"/>
<circle cx="217.4" cy="96.8" r="1.65" color="#db2a1e"/>
<circle cx="218.0" cy="97.8" r="1.65" color="#e0371c"/>
<circle cx="218.5" cy="98.8" r="1.65" color="#ed6b14"/>
<circle cx="219.1" cy="99.8" r="1.65" color="#f07e12"/>
<circle cx="219.6" cy="100.8" r="1.65" color="#ef7413"/>
<circle cx="220.1" cy="101.8" r="1.65" color="#f9d40b"/>
<circle cx="220.7" cy="102.8" r="1.65" color="#f9d40b"/>
<circle cx="221.2" cy="103.8" r="1.65" color="#eae111"/>
<circle cx="221.7" cy="104.8" r="1.65" color="#d7e024"/>
<circle cx="222.3" cy="105.8" r="1.65" color="#b4dd76"/>
<circle cx="222.8" cy="106.8" r="1.65" color="#a8dd9f"/>
<circle cx="223.3" cy="107.8" r="1.65" color="#8dd9e5"/>
<circle cx="223.9" cy="108.8" r="1.65" color="#86d4e7"/>
<circle cx="224.4" cy="109.8" r="1.65" color="#80d0e8"/>
<circle cx="224.9" cy="110.8" r="1.65" color="#76c7e6"/>
<circle cx="225.5" cy="111.8" r="1.65" color="#76c7e6"/>
<circle cx="226.0" cy="112.8" r="1.65" color="#76c7e6"/>
<circle cx="182.5" cy="145.9" r="1.65" color="#96dddb"/>
<circle cx="183.0" cy="144.9" r="1.65" color="#99ddd3"/>
<circle cx="183.5" cy="143.8" r="1.65" color="#c9dd38"/>
<circle cx="184.0" cy="142.8" r="1.65" color="#d0de2e"/>
<circle cx="184.5" cy="141.8" r="1.65" color="#dee11a"/>
<circle cx="185.0" cy="140.7" r="1.65" color="#f5df0c"/>
<circle cx="185.5" cy="139.7" r="1.65" color="#efe00f"/>
<circle cx="186.0" cy="138.7" r="1.65" color="#f49f11"/>
<circle cx="186.5" cy="137.7" r="1.65" color="#f28912"/>
<circle cx="187.0" cy="136.6" r="1.65" color="#ef7413"/>
<circle cx="187.5" cy="135.6" r="1.65" color="#f07e12"/>
<circle cx="188.0" cy="134.6" r="1.65" color="#eb6116"/>
<circle cx="188.5" cy="133.6" r="1.65" color="#eb6116"/>
<circle cx="189.0" cy="132.5" r="1.65" color="#ef7413"/>
<circle cx="189.5" cy="131.5" r="1.65" color="#eb6116"/>
<circle cx="190.0" cy="130.5" r="1.65" color="#f07e12"/>
<circle cx="190.5" cy="129.5" r="1.65" color="#f8c90d"/>
<circle cx="191.1" cy="128.4" r="1.65" color="#f5df0c"/>
<circle cx="191.6" cy="127.4" r="1.65" color="#c9dd38"/>
<circle cx="198.0" cy="125.5" r="1.65" color="#c9dd38"/>
<circle cx="198.5" cy="126.5" r="1.65" color="#e4e213"/>
<circle cx="199.1" cy="127.5" r="1.65" color="#eae111"/>
<circle cx="199.6" cy="128.5" r="1.65" color="#f5df0c"/>
<circle cx="200.1" cy="129.6" r="1.65" color="#f5df0c"/>
<circle cx="200.6" cy="130.6" r="1.65" color="#eae111"/>
<circle cx="201.1" cy="131.6" r="1.65" color="#d7e024"/>
<circle cx="201.7" cy="132.6" r="1.65" color="#eae111"/>
<circle cx="202.2" cy="133.6" r="1.65" color="#f9d40b"/>
<circle cx="202.7" cy="134.7" r="1.65" color="#f9d40b"/>
<circle cx="203.2" cy="135.7" r="1.65" color="#f5df0c"/>
<circle cx="203.7" cy="136.7" r="1.65" color="#f5df0c"/>
<circle cx="204.2" cy="137.7" r="1.65" color="#efe00f"/>
<circle cx="204.8" cy="138.7" r="1.65" color="#eae111"/>
<circle cx="205.3" cy="139.8" r="1.65" color="#e4e213"/>
<circle cx="205.8" cy="140.8" r="1.65" color="#f9d40b"/>
<circle cx="206.3" cy="141.8" r="1.65" color="#f5df0c"/>
<circle cx="206.8" cy="142.8" r="1.65" color="#d7e024"/>
<circle cx="207.3" cy="143.8" r="1.65" color="#dee11a"/>
<circle cx="207.8" cy="144.9" r="1.65" color="#c9dd38"/>
<circle cx="208.3" cy="145.9" r="1.65" color="#c9dd38"/>
<circle cx="217.5" cy="145.9" r="1.65" color="#d7e024"/>
<circle cx="217.9" cy="144.9" r="1.65" color="#c9dd38"/>
<circle cx="218.4" cy="143.9" r="1.65" color="#b4dd76"/>
<circle cx="218.9" cy="142.8" r="1.65" color="#a8dd9f"/>
<circle cx="219.4" cy="141.8" r="1.65" color="#addd8d"/>
<circle cx="219.9" cy="140.8" r="1.65" color="#addd8d"/>
<circle cx="220.4" cy="139.8" r="1.65" color="#99ddd3"/>
<circle cx="220.8" cy="138.8" r="1.65" color="#86d4e7"/>
<circle cx="221.3" cy="137.8" r="1.65" color="#76c7e6"/>
<circle cx="221.8" cy="136.8" r="1.65" color="#63b3e0"/>
<circle cx="222.3" cy="135.8" r="1.65" color="#8dd9e5"/>
<circle cx="222.8" cy="134.7" r="1.65" color="#76c7e6"/>
<circle cx="223.3" cy="133.7" r="1.65" color="#93dce2"/>
<circle cx="223.8" cy="132.7" r="1.65" color="#76c7e6"/>
<circle cx="224.3" cy="131.7" r="1.65" color="#86d4e7"/>
<circle cx="224.7" cy="130.7" r="1.65" color="#96dddb"/>
<circle cx="225.2" cy="129.7" r="1.65" color="#9ddecb"/>
<circle cx="225.7" cy="128.7" r="1.65" color="#93dce2"/>
<circle cx="234.4" cy="128.7" r="1.65" color="#4767b8"/>
<circle cx="235.0" cy="129.7" r="1.65" color="#6cbee4"/>
<circle cx="235.5" cy="130.7" r="1.65" color="#549ad4"/>
<circle cx="236.0" cy="131.7" r="1.65" color="#76c7e6"/>
<circle cx="236.5" cy="132.7" r="1.65" color="#5aa8dc"/>
<circle cx="237.0" cy="133.7" r="1.65" color="#80d0e8"/>
<circle cx="237.6" cy="134.7" r="1.65" color="#8dd9e5"/>
<circle cx="238.1" cy="135.7" r="1.65" color="#8dd9e5"/>
<circle cx="238.6" cy="136.7" r="1.65" color="#80d0e8"/>
<circle cx="239.1" cy="137.7" r="1.65" color="#96dddb"/>
<circle cx="239.6" cy="138.7" r="1.65" color="#86d4e7"/>
<circle cx="240.1" cy="139.7" r="1.65" color="#96dddb"/>
<circle cx="240.7" cy="140.7" r="1.65" color="#9ddecb"/>
<circle cx="241.2" cy="141.7" r="1.65" color="#b4dd76"/>
<circle cx="241.7" cy="142.7" r="1.65" color="#a4deaf"/>
<circle cx="242.2" cy="143.7" r="1.65" color="#dee11a"/>
<circle cx="242.7" cy="144.7" r="1.65" color="#efe00f"/>
<circle cx="243.2" cy="145.7" r="1.65" color="#f7bf0e"/>
<circle cx="243.7" cy="146.7" r="1.65" color="#f6b40f"/>
<circle cx="244.2" cy="147.7" r="1.65" color="#f28912"/>
<circle cx="244.8" cy="148.7" r="1.65" color="#ea5817"/>
<circle cx="245.3" cy="149.7" r="1.65" color="#c92420"/>
<circle cx="279.9" cy="89.8" r="1.65" color="#5aa8dc"/>
<circle cx="280.6" cy="88.5" r="1.65" color="#4b7cc3"/>
<circle cx="281.4" cy="87.1" r="1.65" color="#4661b6"/>
<circle cx="282.1" cy="85.8" r="1.65" color="#4451b0"/>
<circle cx="282.8" cy="84.4" r="1.65" color="#4e8ccc"/>
<circle cx="283.5" cy="83.1" r="1.65" color="#549ad4"/>
<circle cx="284.2" cy="81.8" r="1.65" color="#414aac"/>
<circle cx="284.9" cy="80.4" r="1.65" color="#4556b2"/>
<circle cx="285.6" cy="79.1" r="1.65" color="#549ad4"/>
<circle cx="286.3" cy="77.7" r="1.65" color="#5aa8dc"/>
<circle cx="294.6" cy="130.2" r="1.65" color="#549ad4"/>
<circle cx="293.3" cy="133.1" r="1.65" color="#414aac"/>
<circle cx="290.7" cy="138.6" r="1.65" color="#a0debf"/>
<circle cx="181.8" cy="163.2" r="1.65" color="#c92420"/>
<circle cx="182.4" cy="164.2" r="1.65" color="#db2a1e"/>
<circle cx="182.9" cy="165.2" r="1.65" color="#b5211f"/>
<circle cx="183.4" cy="166.2" r="1.65" color="#c92420"/>
<circle cx="183.9" cy="167.3" r="1.65" color="#b5211f"/>
<circle cx="184.4" cy="168.3" r="1.65" color="#d5281f"/>
<circle cx="200.4" cy="181.6" r="1.65" color="#dee11a"/>
<circle cx="200.9" cy="180.6" r="1.65" color="#c9dd38"/>
<circle cx="201.4" cy="179.5" r="1.65" color="#a8dd9f"/>
<circle cx="201.9" cy="178.5" r="1.65" color="#b4dd76"/>
<circle cx="202.4" cy="177.4" r="1.65" color="#a0debf"/>
<circle cx="202.9" cy="176.4" r="1.65" color="#9ddecb"/>
<circle cx="203.4" cy="175.3" r="1.65" color="#6cbee4"/>
<circle cx="203.9" cy="174.3" r="1.65" color="#5aa8dc"/>
<circle cx="204.4" cy="173.2" r="1.65" color="#76c7e6"/>
<circle cx="204.9" cy="172.2" r="1.65" color="#4e8ccc"/>
<circle cx="205.4" cy="171.1" r="1.65" color="#4b7cc3"/>
<circle cx="205.9" cy="170.1" r="1.65" color="#434dae"/>
<circle cx="206.4" cy="169.0" r="1.65" color="#6cbee4"/>
<circle cx="206.9" cy="168.0" r="1.65" color="#4767b8"/>
<circle cx="207.4" cy="167.0" r="1.65" color="#4e8ccc"/>
<circle cx="207.9" cy="165.9" r="1.65" color="#414aac"/>
<circle cx="208.4" cy="164.9" r="1.65" color="#4767b8"/>
<circle cx="208.9" cy="163.8" r="1.65" color="#4046aa"/>
<circle cx="217.3" cy="163.8" r="1.65" color="#f7bf0e"/>
<circle cx="217.8" cy="164.8" r="1.65" color="#f9d40b"/>
<circle cx="218.3" cy="165.8" r="1.65" color="#fade0a"/>
<circle cx="218.8" cy="166.8" r="1.65" color="#f9d40b"/>
<circle cx="219.3" cy="167.9" r="1.65" color="#f39411"/>
<circle cx="219.9" cy="168.9" r="1.65" color="#f49f11"/>
<circle cx="220.4" cy="169.9" r="1.65" color="#f28912"/>
<circle cx="220.9" cy="170.9" r="1.65" color="#eb6116"/>
<circle cx="221.4" cy="171.9" r="1.65" color="#e64719"/>
<circle cx="221.9" cy="172.9" r="1.65" color="#e33f1b"/>
<circle cx="222.4" cy="173.9" r="1.65" color="#e84e18"/>
<circle cx="222.9" cy="174.9" r="1.65" color="#ef7413"/>
<circle cx="223.4" cy="175.9" r="1.65" color="#ef7413"/>
<circle cx="223.9" cy="177.0" r="1.65" color="#f5aa10"/>
<circle cx="224.4" cy="178.0" r="1.65" color="#f5aa10"/>
<circle cx="224.9" cy="179.0" r="1.65" color="#f28912"/>
<circle cx="225.4" cy="180.0" r="1.65" color="#f8c90d"/>
<circle cx="225.9" cy="181.0" r="1.65" color="#f8c90d"/>
<circle cx="239.5" cy="173.4" r="1.65" color="#3f42a8"/>
<circle cx="240.0" cy="172.3" r="1.65" color="#4556b2"/>
<circle cx="240.5" cy="171.3" r="1.65" color="#4046aa"/>
<circle cx="241.0" cy="170.3" r="1.65" color="#414aac"/>
<circle cx="241.5" cy="169.2" r="1.65" color="#4e8ccc"/>
<circle cx="242.0" cy="168.2" r="1.65" color="#549ad4"/>
<circle cx="242.4" cy="167.2" r="1.65" color="#86d4e7"/>
<circle cx="242.9" cy="166.2" r="1.65" color="#93dce2"/>
<circle cx="243.4" cy="165.1" r="1.65" color="#93dce2"/>
<circle cx="243.9" cy="164.1" r="1.65" color="#93dce2"/>
<circle cx="244.4" cy="163.1" r="1.65" color="#86d4e7"/>
<circle cx="244.9" cy="162.0" r="1.65" color="#8dd9e5"/>
<circle cx="245.4" cy="161.0" r="1.65" color="#addd8d"/>
<circle cx="245.9" cy="160.0" r="1.65" color="#d0de2e"/>
<circle cx="200.9" cy="261.4" r="1.65" color="#86d4e7"/>
<circle cx="201.3" cy="260.3" r="1.65" color="#76c7e6"/>
<circle cx="201.8" cy="259.3" r="1.65" color="#80d0e8"/>
<circle cx="202.2" cy="258.2" r="1.65" color="#9ddecb"/>
<circle cx="202.7" cy="257.1" r="1.65" color="#93dce2"/>
<circle cx="203.1" cy="256.1" r="1.65" color="#99ddd3"/>
<circle cx="203.6" cy="255.0" r="1.65" color="#a8dd9f"/>
<circle cx="204.0" cy="253.9" r="1.65" color="#99ddd3"/>
<circle cx="204.5" cy="252.9" r="1.65" color="#99ddd3"/>
<circle cx="204.9" cy="251.8" r="1.65" color="#addd8d"/>
<circle cx="205.4" cy="250.7" r="1.65" color="#a8dd9f"/>
<circle cx="205.8" cy="249.6" r="1.65" color="#addd8d"/>
<circle cx="206.3" cy="248.6" r="1.65" color="#9ddecb"/>
<circle cx="206.7" cy="247.5" r="1.65" color="#a8dd9f"/>
<circle cx="207.2" cy="246.5" r="1.65" color="#9ddecb"/>
<circle cx="207.6" cy="245.4" r="1.65" color="#a0debf"/>
<circle cx="208.1" cy="244.3" r="1.65" color="#a8dd9f"/>
<circle cx="208.5" cy="243.3" r="1.65" color="#93dce2"/>
<circle cx="209.0" cy="242.2" r="1.65" color="#96dddb"/>
<circle cx="209.4" cy="241.1" r="1.65" color="#a4deaf"/>
<circle cx="209.9" cy="240.1" r="1.65" color="#a0debf"/>
<circle cx="210.3" cy="239.0" r="1.65" color="#8dd9e5"/>
<circle cx="210.8" cy="237.9" r="1.65" color="#93dce2"/>
<circle cx="211.2" cy="236.9" r="1.65" color="#8dd9e5"/>
<circle cx="211.7" cy="235.8" r="1.65" color="#86d4e7"/>
<circle cx="212.1" cy="234.7" r="1.65" color="#93dce2"/>
<circle cx="212.6" cy="233.7" r="1.65" color="#6cbee4"/>
<circle cx="213.1" cy="232.6" r="1.65" color="#93dce2"/>
<circle cx="213.5" cy="231.5" r="1.65" color="#63b3e0"/>
<circle cx="214.0" cy="230.5" r="1.65" color="#8dd9e5"/>
<circle cx="214.4" cy="229.4" r="1.65" color="#80d0e8"/>
<circle cx="214.9" cy="228.4" r="1.65" color="#6cbee4"/>
<circle cx="215.4" cy="227.3" r="1.65" color="#76c7e6"/>
<circle cx="215.8" cy="226.2" r="1.65" color="#5aa8dc"/>
<circle cx="216.3" cy="225.2" r="1.65" color="#6cbee4"/>
<circle cx="216.7" cy="224.1" r="1.65" color="#486cba"/>
<circle cx="217.2" cy="223.0" r="1.65" color="#4e8ccc"/>
<circle cx="217.7" cy="222.0" r="1.65" color="#5aa8dc"/>
<circle cx="218.1" cy="220.9" r="1.65" color="#6cbee4"/>
<circle cx="218.6" cy="219.9" r="1.65" color="#4556b2"/>
<circle cx="219.0" cy="218.8" r="1.65" color="#4556b2"/>
<circle cx="219.5" cy="217.7" r="1.65" color="#63b3e0"/>
<circle cx="220.0" cy="216.7" r="1.65" color="#465cb4"/>
<circle cx="220.4" cy="215.6" r="1.65" color="#4046aa"/>
<circle cx="220.9" cy="214.6" r="1.65" color="#486cba"/>
<circle cx="221.4" cy="213.5" r="1.65" color="#4451b0"/>
<circle cx="221.8" cy="212.4" r="1.65" color="#4767b8"/>
<circle cx="222.3" cy="211.4" r="1.65" color="#4556b2"/>
<circle cx="222.8" cy="210.3" r="1.65" color="#465cb4"/>
<circle cx="223.2" cy="209.3" r="1.65" color="#4556b2"/>
<circle cx="223.7" cy="208.2" r="1.65" color="#4451b0"/>
<circle cx="224.2" cy="207.1" r="1.65" color="#549ad4"/>
<circle cx="224.6" cy="206.1" r="1.65" color="#486cba"/>
<circle cx="225.1" cy="205.0" r="1.65" color="#549ad4"/>
<circle cx="225.6" cy="204.0" r="1.65" color="#5aa8dc"/>
<circle cx="226.1" cy="202.9" r="1.65" color="#465cb4"/>
<circle cx="226.5" cy="201.9" r="1.65" color="#63b3e0"/>
<circle cx="227.0" cy="200.8" r="1.65" color="#76c7e6"/>
<circle cx="207.6" cy="217.3" r="1.65" color="#96dddb"/>
<circle cx="208.2" cy="218.5" r="1.65" color="#96dddb"/>
<circle cx="208.7" cy="219.8" r="1.65" color="#86d4e7"/>
<circle cx="209.9" cy="222.4" r="1.65" color="#465cb4"/>
<circle cx="212.2" cy="227.5" r="1.65" color="#3e3ea6"/>
<circle cx="213.8" cy="231.0" r="1.65" color="#86d4e7"/>
<circle cx="214.3" cy="232.1" r="1.65" color="#93dce2"/>
<circle cx="214.7" cy="233.1" r="1.65" color="#a0debf"/>
<circle cx="215.2" cy="234.2" r="1.65" color="#d0de2e"/>
<circle cx="215.7" cy="235.2" r="1.65" color="#d0de2e"/>
<circle cx="216.1" cy="236.3" r="1.65" color="#dee11a"/>
<circle cx="216.6" cy="237.3" r="1.65" color="#eae111"/>
<circle cx="217.1" cy="238.4" r="1.65" color="#f5df0c"/>
<circle cx="217.6" cy="239.5" r="1.65" color="#d0de2e"/>
<circle cx="218.0" cy="240.5" r="1.65" color="#efe00f"/>
<circle cx="218.5" cy="241.6" r="1.65" color="#f5df0c"/>
<circle cx="219.0" cy="242.6" r="1.65" color="#f5df0c"/>
<circle cx="219.4" cy="243.7" r="1.65" color="#eae111"/>
<circle cx="219.9" cy="244.8" r="1.65" color="#eae111"/>
<circle cx="220.3" cy="245.8" r="1.65" color="#f5df0c"/>
<circle cx="220.8" cy="246.9" r="1.65" color="#dee11a"/>
<circle cx="221.3" cy="247.9" r="1.65" color="#dee11a"/>
<circle cx="221.7" cy="249.0" r="1.65" color="#dee11a"/>
<circle cx="222.2" cy="250.1" r="1.65" color="#bbdc60"/>
<circle cx="222.7" cy="251.1" r="1.65" color="#c9dd38"/>
<circle cx="223.1" cy="252.2" r="1.65" color="#addd8d"/>
<circle cx="223.6" cy="253.3" r="1.65" color="#a4deaf"/>
<circle cx="224.1" cy="254.3" r="1.65" color="#96dddb"/>
<circle cx="224.5" cy="255.4" r="1.65" color="#93dce2"/>
<circle cx="225.0" cy="256.4" r="1.65" color="#86d4e7"/>
<circle cx="225.4" cy="257.5" r="1.65" color="#80d0e8"/>
<circle cx="225.9" cy="258.6" r="1.65" color="#6cbee4"/>
<circle cx="226.3" cy="259.6" r="1.65" color="#63b3e0"/>
<circle cx="226.8" cy="260.7" r="1.65" color="#4767b8"/>
<circle cx="227.3" cy="261.8" r="1.65" color="#5aa8dc"/>
<circle cx="227.7" cy="262.8" r="1.65" color="#4556b2"/>
<circle cx="228.2" cy="263.9" r="1.65" color="#486cba"/>
<circle cx="228.6" cy="265.0" r="1.65" color="#465cb4"/>
<circle cx="229.1" cy="266.0" r="1.65" color="#4661b6"/>
<circle cx="229.5" cy="267.1" r="1.65" color="#414aac"/>
<circle cx="230.0" cy="268.2" r="1.65" color="#4b7cc3"/>
<circle cx="230.4" cy="269.2" r="1.65" color="#4661b6"/>
<circle cx="230.9" cy="270.3" r="1.65" color="#3c3ba3"/>
<circle cx="231.4" cy="271.3" r="1.65" color="#4451b0"/>
<circle cx="231.8" cy="272.4" r="1.65" color="#4b7cc3"/>
<circle cx="232.3" cy="273.5" r="1.65" color="#3c3ba3"/>
<circle cx="232.7" cy="274.5" r="1.65" color="#4046aa"/>
<circle cx="233.2" cy="275.6" r="1.65" color="#4661b6"/>
<circle cx="233.6" cy="276.7" r="1.65" color="#3c3ba3"/>
<circle cx="234.1" cy="277.7" r="1.65" color="#4661b6"/>
<circle cx="234.5" cy="278.8" r="1.65" color="#4556b2"/>
<circle cx="235.0" cy="279.9" r="1.65" color="#4661b6"/>
<circle cx="235.4" cy="280.9" r="1.65" color="#4556b2"/>
<circle cx="235.9" cy="282.0" r="1.65" color="#4b7cc3"/>
<circle cx="236.3" cy="283.1" r="1.65" color="#434dae"/>
<circle cx="236.8" cy="284.2" r="1.65" color="#465cb4"/>
<circle cx="237.2" cy="285.2" r="1.65" color="#3e3ea6"/>
<circle cx="237.6" cy="286.3" r="1.65" color="#465cb4"/>
<circle cx="238.1" cy="287.4" r="1.65" color="#4556b2"/>
<circle cx="238.5" cy="288.4" r="1.65" color="#549ad4"/>
<circle cx="239.0" cy="289.5" r="1.65" color="#549ad4"/>
<circle cx="239.4" cy="290.6" r="1.65" color="#414aac"/>
<circle cx="239.9" cy="291.6" r="1.65" color="#4046aa"/>
<circle cx="240.3" cy="292.7" r="1.65" color="#414aac"/>
<circle cx="240.8" cy="293.8" r="1.65" color="#434dae"/>
<circle cx="241.2" cy="294.8" r="1.65" color="#4b7cc3"/>
<circle cx="241.6" cy="295.9" r="1.65" color="#486cba"/>
<circle cx="242.1" cy="297.0" r="1.65" color="#4767b8"/>
<circle cx="242.5" cy="298.1" r="1.65" color="#4767b8"/>
<circle cx="243.0" cy="299.1" r="1.65" color="#4451b0"/>
<circle cx="243.4" cy="300.2" r="1.65" color="#4b7cc3"/>
<circle cx="235.1" cy="200.1" r="1.65" color="#f28912"/>
<circle cx="235.6" cy="201.2" r="1.65" color="#f5aa10"/>
<circle cx="236.1" cy="202.2" r="1.65" color="#f7bf0e"/>
<circle cx="236.6" cy="203.2" r="1.65" color="#f5df0c"/>
<circle cx="237.1" cy="204.3" r="1.65" color="#f6b40f"/>
<circle cx="237.6" cy="205.3" r="1.65" color="#f5df0c"/>
<circle cx="238.1" cy="206.3" r="1.65" color="#f5df0c"/>
<circle cx="238.6" cy="207.4" r="1.65" color="#dee11a"/>
<circle cx="239.0" cy="208.4" r="1.65" color="#dee11a"/>
<circle cx="239.5" cy="209.5" r="1.65" color="#d7e024"/>
<circle cx="240.0" cy="210.5" r="1.65" color="#c9dd38"/>
<circle cx="240.5" cy="211.5" r="1.65" color="#addd8d"/>
<circle cx="241.0" cy="212.6" r="1.65" color="#c2dc4a"/>
<circle cx="241.5" cy="213.6" r="1.65" color="#a4deaf"/>
<circle cx="242.0" cy="214.7" r="1.65" color="#a8dd9f"/>
<circle cx="242.5" cy="215.7" r="1.65" color="#a4deaf"/>
<circle cx="242.9" cy="216.7" r="1.65" color="#a4deaf"/>
<circle cx="243.4" cy="217.8" r="1.65" color="#96dddb"/>
<circle cx="243.9" cy="218.8" r="1.65" color="#93dce2"/>
<circle cx="244.4" cy="219.9" r="1.65" color="#9ddecb"/>
<circle cx="226.4" cy="287.5" r="1.65" color="#465cb4"/>
<circle cx="226.8" cy="286.4" r="1.65" color="#414aac"/>
<circle cx="227.2" cy="285.4" r="1.65" color="#549ad4"/>
<circle cx="227.6" cy="284.3" r="1.65" color="#3f42a8"/>
<circle cx="228.1" cy="283.2" r="1.65" color="#4e8ccc"/>
<circle cx="228.5" cy="282.1" r="1.65" color="#434dae"/>
<circle cx="228.9" cy="281.1" r="1.65" color="#4451b0"/>
<circle cx="229.3" cy="280.0" r="1.65" color="#4e8ccc"/>
<circle cx="229.8" cy="278.9" r="1.65" color="#4451b0"/>
<circle cx="230.2" cy="277.9" r="1.65" color="#4661b6"/>
<circle cx="230.6" cy="276.8" r="1.65" color="#434dae"/>
<circle cx="231.0" cy="275.7" r="1.65" color="#486cba"/>
<circle cx="231.5" cy="274.6" r="1.65" color="#465cb4"/>
<circle cx="231.9" cy="273.6" r="1.65" color="#434dae"/>
<circle cx="232.3" cy="272.5" r="1.65" color="#3c3ba3"/>
<circle cx="232.8" cy="271.4" r="1.65" color="#414aac"/>
<circle cx="233.2" cy="270.4" r="1.65" color="#4451b0"/>
<circle cx="233.6" cy="269.3" r="1.65" color="#414aac"/>
<circle cx="234.1" cy="268.2" r="1.65" color="#465cb4"/>
<circle cx="234.5" cy="267.2" r="1.65" color="#414aac"/>
<circle cx="234.9" cy="266.1" r="1.65" color="#465cb4"/>
<circle cx="235.4" cy="265.0" r="1.65" color="#4661b6"/>
<circle cx="235.8" cy="263.9" r="1.65" color="#486cba"/>
<circle cx="236.2" cy="262.9" r="1.65" color="#549ad4"/>
<circle cx="236.7" cy="261.8" r="1.65" color="#4e8ccc"/>
<circle cx="237.1" cy="260.7" r="1.65" color="#486cba"/>
<circle cx="237.5" cy="259.7" r="1.65" color="#4e8ccc"/>
<circle cx="238.0" cy="258.6" r="1.65" color="#6cbee4"/>
<circle cx="238.4" cy="257.5" r="1.65" color="#5aa8dc"/>
<circle cx="238.8" cy="256.5" r="1.65" color="#76c7e6"/>
<circle cx="239.3" cy="255.4" r="1.65" color="#76c7e6"/>
<circle cx="239.7" cy="254.3" r="1.65" color="#63b3e0"/>
<circle cx="240.2" cy="253.3" r="1.65" color="#486cba"/>
<circle cx="240.6" cy="252.2" r="1.65" color="#4556b2"/>
<circle cx="241.0" cy="251.1" r="1.65" color="#486cba"/>
<circle cx="241.5" cy="250.1" r="1.65" color="#486cba"/>
<circle cx="241.9" cy="249.0" r="1.65" color="#4661b6"/>
<circle cx="242.4" cy="247.9" r="1.65" color="#4556b2"/>
<circle cx="242.8" cy="246.9" r="1.65" color="#465cb4"/>
<circle cx="243.3" cy="245.8" r="1.65" color="#414aac"/>
<circle cx="243.7" cy="244.8" r="1.65" color="#4556b2"/>
<circle cx="244.1" cy="243.7" r="1.65" color="#434dae"/>
<circle cx="244.6" cy="242.6" r="1.65" color="#4e8ccc"/>
<circle cx="245.0" cy="241.6" r="1.65" color="#63b3e0"/>
<circle cx="245.5" cy="240.5" r="1.65" color="#4e8ccc"/>
<circle cx="254.1" cy="167.0" r="1.65" color="#f39411"/>
<circle cx="254.6" cy="168.0" r="1.65" color="#f9d40b"/>
<circle cx="255.2" cy="169.1" r="1.65" color="#addd8d"/>
<circle cx="255.7" cy="170.1" r="1.65" color="#8dd9e5"/>
<circle cx="256.2" cy="171.2" r="1.65" color="#5aa8dc"/>
<circle cx="256.8" cy="172.2" r="1.65" color="#549ad4"/>
<circle cx="257.3" cy="173.3" r="1.65" color="#5aa8dc"/>
<circle cx="257.8" cy="174.3" r="1.65" color="#4b7cc3"/>
<circle cx="258.3" cy="175.4" r="1.65" color="#5aa8dc"/>
<circle cx="258.9" cy="176.4" r="1.65" color="#549ad4"/>
<circle cx="259.4" cy="177.5" r="1.65" color="#434dae"/>
<circle cx="259.9" cy="178.5" r="1.65" color="#4556b2"/>
<circle cx="260.4" cy="179.6" r="1.65" color="#414aac"/>
<circle cx="261.0" cy="180.6" r="1.65" color="#414aac"/>
<circle cx="261.5" cy="181.6" r="1.65" color="#3f42a8"/>
<circle cx="271.3" cy="181.0" r="1.65" color="#99ddd3"/>
<circle cx="271.8" cy="179.9" r="1.65" color="#86d4e7"/>
<circle cx="272.3" cy="178.9" r="1.65" color="#5aa8dc"/>
<circle cx="272.8" cy="177.8" r="1.65" color="#6cbee4"/>
<circle cx="273.3" cy="176.7" r="1.65" color="#6cbee4"/>
<circle cx="273.7" cy="175.6" r="1.65" color="#6cbee4"/>
<circle cx="274.2" cy="174.6" r="1.65" color="#4767b8"/>
<circle cx="274.7" cy="173.5" r="1.65" color="#414aac"/>
<circle cx="275.2" cy="172.4" r="1.65" color="#4e8ccc"/>
<circle cx="275.7" cy="171.3" r="1.65" color="#4e8ccc"/>
<circle cx="276.2" cy="170.3" r="1.65" color="#4767b8"/>
<circle cx="276.7" cy="169.2" r="1.65" color="#434dae"/>
<circle cx="277.2" cy="168.1" r="1.65" color="#414aac"/>
<circle cx="277.7" cy="167.0" r="1.65" color="#465cb4"/>
<circle cx="278.2" cy="166.0" r="1.65" color="#3a39a0"/>
<circle cx="278.7" cy="164.9" r="1.65" color="#4556b2"/>
<circle cx="279.2" cy="163.8" r="1.65" color="#4046aa"/>
<circle cx="254.2" cy="219.9" r="1.65" color="#93dce2"/>
<circle cx="254.7" cy="218.8" r="1.65" color="#a4deaf"/>
<circle cx="255.1" cy="217.7" r="1.65" color="#96dddb"/>
<circle cx="255.6" cy="216.7" r="1.65" color="#8dd9e5"/>
<circle cx="256.0" cy="215.6" r="1.65" color="#8dd9e5"/>
<circle cx="256.5" cy="214.5" r="1.65" color="#9ddecb"/>
<circle cx="257.0" cy="213.5" r="1.65" color="#86d4e7"/>
<circle cx="257.4" cy="212.4" r="1.65" color="#99ddd3"/>
<circle cx="257.9" cy="211.4" r="1.65" color="#99ddd3"/>
<circle cx="258.3" cy="210.3" r="1.65" color="#76c7e6"/>
<circle cx="258.8" cy="209.2" r="1.65" color="#80d0e8"/>
<circle cx="259.3" cy="208.2" r="1.65" color="#86d4e7"/>
<circle cx="259.7" cy="207.1" r="1.65" color="#6cbee4"/>
<circle cx="260.2" cy="206.1" r="1.65" color="#76c7e6"/>
<circle cx="260.6" cy="205.0" r="1.65" color="#549ad4"/>
<circle cx="261.1" cy="203.9" r="1.65" color="#5aa8dc"/>
<circle cx="261.6" cy="202.9" r="1.65" color="#4b7cc3"/>
<circle cx="262.0" cy="201.8" r="1.65" color="#63b3e0"/>
<circle cx="262.5" cy="200.8" r="1.65" color="#5aa8dc"/>
<circle cx="276.7" cy="212.9" r="1.65" color="#465cb4"/>
<circle cx="277.2" cy="213.9" r="1.65" color="#4451b0"/>
<circle cx="277.7" cy="214.9" r="1.65" color="#4556b2"/>
<circle cx="278.1" cy="215.9" r="1.65" color="#4b7cc3"/>
<circle cx="278.6" cy="216.9" r="1.65" color="#434dae"/>
<circle cx="279.1" cy="217.9" r="1.65" color="#486cba"/>
<circle cx="279.6" cy="218.9" r="1.65" color="#4661b6"/>
<circle cx="280.0" cy="219.9" r="1.65" color="#4b7cc3"/>
<circle cx="289.6" cy="220.5" r="1.65" color="#f7bf0e"/>
<circle cx="290.1" cy="219.4" r="1.65" color="#d7e024"/>
<circle cx="290.5" cy="218.3" r="1.65" color="#80d0e8"/>
<circle cx="291.0" cy="217.2" r="1.65" color="#63b3e0"/>
<circle cx="291.5" cy="216.0" r="1.65" color="#4e8ccc"/>
<circle cx="294.4" cy="209.0" r="1.65" color="#3e3ea6"/>
<circle cx="294.9" cy="208.0" r="1.65" color="#465cb4"/>
<circle cx="295.3" cy="207.0" r="1.65" color="#5aa8dc"/>
<circle cx="295.7" cy="206.0" r="1.65" color="#5aa8dc"/>
<circle cx="296.2" cy="205.0" r="1.65" color="#486cba"/>
<circle cx="296.6" cy="203.9" r="1.65" color="#4b7cc3"/>
<circle cx="256.5" cy="246.6" r="1.65" color="#4767b8"/>
<circle cx="258.5" cy="251.1" r="1.65" color="#434dae"/>
<circle cx="260.0" cy="254.5" r="1.65" color="#465cb4"/>
<circle cx="260.5" cy="255.5" r="1.65" color="#4767b8"/>
<circle cx="260.9" cy="256.5" r="1.65" color="#414aac"/>
<circle cx="261.3" cy="257.5" r="1.65" color="#5aa8dc"/>
<circle cx="261.7" cy="258.4" r="1.65" color="#434dae"/>
<circle cx="262.2" cy="259.4" r="1.65" color="#486cba"/>
<circle cx="262.6" cy="260.4" r="1.65" color="#6cbee4"/>
<circle cx="263.0" cy="261.4" r="1.65" color="#4e8ccc"/>
<circle cx="272.8" cy="261.4" r="1.65" color="#93dce2"/>
<circle cx="273.2" cy="260.4" r="1.65" color="#99ddd3"/>
<circle cx="273.6" cy="259.3" r="1.65" color="#99ddd3"/>
<circle cx="274.0" cy="258.3" r="1.65" color="#8dd9e5"/>
<circle cx="274.5" cy="257.2" r="1.65" color="#63b3e0"/>
<circle cx="274.9" cy="256.2" r="1.65" color="#8dd9e5"/>
<circle cx="275.3" cy="255.1" r="1.65" color="#549ad4"/>
<circle cx="275.7" cy="254.1" r="1.65" color="#76c7e6"/>
<circle cx="276.1" cy="253.0" r="1.65" color="#80d0e8"/>
<circle cx="276.6" cy="252.0" r="1.65" color="#4e8ccc"/>
<circle cx="277.0" cy="250.9" r="1.65" color="#63b3e0"/>
<circle cx="277.4" cy="249.9" r="1.65" color="#93dce2"/>
<circle cx="277.8" cy="248.8" r="1.65" color="#96dddb"/>
<circle cx="278.3" cy="247.8" r="1.65" color="#a8dd9f"/>
<circle cx="278.7" cy="246.8" r="1.65" color="#9ddecb"/>
<circle cx="279.1" cy="245.7" r="1.65" color="#86d4e7"/>
<circle cx="279.6" cy="244.7" r="1.65" color="#6cbee4"/>
<circle cx="280.0" cy="243.6" r="1.65" color="#63b3e0"/>
<circle cx="280.4" cy="242.6" r="1.65" color="#76c7e6"/>
<circle cx="280.8" cy="241.5" r="1.65" color="#63b3e0"/>
<circle cx="281.3" cy="240.5" r="1.65" color="#5aa8dc"/>
<circle cx="289.6" cy="240.5" r="1.65" color="#f5df0c"/>
<circle cx="290.1" cy="241.6" r="1.65" color="#d0de2e"/>
<circle cx="290.6" cy="242.7" r="1.65" color="#93dce2"/>
<circle cx="291.1" cy="243.8" r="1.65" color="#80d0e8"/>
<circle cx="291.6" cy="244.9" r="1.65" color="#4767b8"/>
<circle cx="292.1" cy="246.0" r="1.65" color="#4661b6"/>
<circle cx="295.6" cy="253.7" r="1.65" color="#486cba"/>
<circle cx="296.1" cy="255.0" r="1.65" color="#4556b2"/>
<circle cx="296.7" cy="256.3" r="1.65" color="#414aac"/>
<circle cx="189.8" cy="258.2" r="1.65" color="#efe00f"/>
<circle cx="190.3" cy="259.2" r="1.65" color="#eae111"/>
<circle cx="190.7" cy="260.3" r="1.65" color="#f5df0c"/>
<circle cx="191.2" cy="261.4" r="1.65" color="#eae111"/>
<circle cx="170.8" cy="299.6" r="1.65" color="#96dddb"/>
<circle cx="171.2" cy="300.6" r="1.65" color="#a0debf"/>
<circle cx="171.6" cy="301.6" r="1.65" color="#9ddecb"/>
<circle cx="172.0" cy="302.7" r="1.65" color="#96dddb"/>
<circle cx="172.4" cy="303.7" r="1.65" color="#addd8d"/>
<circle cx="172.8" cy="304.7" r="1.65" color="#e4e213"/>
<circle cx="173.2" cy="305.7" r="1.65" color="#f8c90d"/>
<circle cx="173.6" cy="306.8" r="1.65" color="#f39411"/>
<circle cx="174.0" cy="307.8" r="1.65" color="#f07e12"/>
<circle cx="174.5" cy="308.8" r="1.65" color="#f07e12"/>
<circle cx="174.9" cy="309.9" r="1.65" color="#de301d"/>
<circle cx="175.3" cy="310.9" r="1.65" color="#e64719"/>
<circle cx="175.7" cy="311.9" r="1.65" color="#c22220"/>
<circle cx="176.1" cy="313.0" r="1.65" color="#db2a1e"/>
<circle cx="186.4" cy="297.0" r="1.65" color="#a0debf"/>
<circle cx="186.9" cy="296.0" r="1.65" color="#8dd9e5"/>
<circle cx="187.3" cy="295.0" r="1.65" color="#96dddb"/>
<circle cx="187.7" cy="293.9" r="1.65" color="#63b3e0"/>
<circle cx="188.1" cy="292.9" r="1.65" color="#80d0e8"/>
<circle cx="188.5" cy="291.9" r="1.65" color="#4e8ccc"/>
<circle cx="188.9" cy="290.8" r="1.65" color="#4e8ccc"/>
<circle cx="189.3" cy="289.8" r="1.65" color="#486cba"/>
<circle cx="189.8" cy="288.7" r="1.65" color="#434dae"/>
<circle cx="203.6" cy="291.3" r="1.65" color="#549ad4"/>
<circle cx="205.1" cy="295.0" r="1.65" color="#76c7e6"/>
<circle cx="206.6" cy="298.6" r="1.65" color="#414aac"/>
<circle cx="208.1" cy="302.3" r="1.65" color="#4767b8"/>
<circle cx="209.5" cy="305.9" r="1.65" color="#63b3e0"/>
<circle cx="218.9" cy="306.6" r="1.65" color="#4e8ccc"/>
<circle cx="219.3" cy="305.6" r="1.65" color="#4556b2"/>
<circle cx="219.7" cy="304.5" r="1.65" color="#5aa8dc"/>
<circle cx="220.1" cy="303.5" r="1.65" color="#4451b0"/>
<circle cx="220.5" cy="302.5" r="1.65" color="#4e8ccc"/>
<circle cx="220.9" cy="301.5" r="1.65" color="#4556b2"/>
<circle cx="221.3" cy="300.5" r="1.65" color="#3f42a8"/>
<circle cx="221.7" cy="299.4" r="1.65" color="#486cba"/>
<circle cx="222.1" cy="298.4" r="1.65" color="#3f42a8"/>
<circle cx="222.5" cy="297.4" r="1.65" color="#486cba"/>
<circle cx="222.9" cy="296.4" r="1.65" color="#465cb4"/>
<circle cx="247.2" cy="309.5" r="1.65" color="#99ddd3"/>
<circle cx="150.5" cy="340.8" r="1.65" color="#4661b6"/>
<circle cx="150.9" cy="341.9" r="1.65" color="#465cb4"/>
<circle cx="151.3" cy="343.0" r="1.65" color="#4b7cc3"/>
<circle cx="151.7" cy="344.1" r="1.65" color="#80d0e8"/>
<circle cx="152.1" cy="345.2" r="1.65" color="#96dddb"/>
<circle cx="152.5" cy="346.3" r="1.65" color="#d0de2e"/>
<circle cx="152.9" cy="347.4" r="1.65" color="#dee11a"/>
<circle cx="153.3" cy="348.5" r="1.65" color="#e4e213"/>
<circle cx="153.7" cy="349.6" r="1.65" color="#eae111"/>
<circle cx="154.1" cy="350.7" r="1.65" color="#f5df0c"/>
<circle cx="154.5" cy="351.8" r="1.65" color="#f5df0c"/>
<circle cx="155.0" cy="352.8" r="1.65" color="#e4e213"/>
<circle cx="155.4" cy="353.9" r="1.65" color="#d7e024"/>
<circle cx="169.1" cy="341.9" r="1.65" color="#3f42a8"/>
<circle cx="164.7" cy="353.6" r="1.65" color="#b4dd76"/>
<circle cx="165.0" cy="352.6" r="1.65" color="#a0debf"/>
<circle cx="165.4" cy="351.6" r="1.65" color="#a0debf"/>
<circle cx="165.8" cy="350.6" r="1.65" color="#76c7e6"/>
<circle cx="203.2" cy="348.0" r="1.65" color="#549ad4"/>
<circle cx="203.6" cy="346.7" r="1.65" color="#549ad4"/>
<circle cx="204.1" cy="345.4" r="1.65" color="#4e8ccc"/>
<circle cx="260.0" cy="293.8" r="1.65" color="#4b7cc3"/>
<circle cx="260.4" cy="292.8" r="1.65" color="#549ad4"/>
<circle cx="260.8" cy="291.7" r="1.65" color="#549ad4"/>
<circle cx="261.2" cy="290.7" r="1.65" color="#5aa8dc"/>
<circle cx="261.6" cy="289.6" r="1.65" color="#5aa8dc"/>
<circle cx="262.1" cy="288.5" r="1.65" color="#86d4e7"/>
<circle cx="262.5" cy="287.5" r="1.65" color="#76c7e6"/>
<circle cx="262.9" cy="286.4" r="1.65" color="#80d0e8"/>
<circle cx="263.3" cy="285.4" r="1.65" color="#6cbee4"/>
<circle cx="263.7" cy="284.3" r="1.65" color="#549ad4"/>
<circle cx="135.8" cy="333.8" r="1.65" color="#93dce2"/>
<circle cx="136.2" cy="332.8" r="1.65" color="#96dddb"/>
<circle cx="136.6" cy="331.7" r="1.65" color="#99ddd3"/>
<circle cx="137.0" cy="330.7" r="1.65" color="#c2dc4a"/>
<circle cx="137.4" cy="329.6" r="1.65" color="#c9dd38"/>
<circle cx="137.8" cy="328.6" r="1.65" color="#fade0a"/>
<circle cx="138.2" cy="327.6" r="1.65" color="#f6b40f"/>
<circle cx="138.6" cy="326.5" r="1.65" color="#f5aa10"/>
<circle cx="139.0" cy="325.5" r="1.65" color="#ef7413"/>
<circle cx="139.4" cy="324.4" r="1.65" color="#e33f1b"/>
<circle cx="139.8" cy="323.4" r="1.65" color="#db2a1e"/>
<circle cx="140.2" cy="322.3" r="1.65" color="#c92420"/>
<circle cx="144.2" cy="324.3" r="1.65" color="#e84e18"/>
<circle cx="144.6" cy="325.3" r="1.65" color="#f07e12"/>
<circle cx="145.0" cy="326.4" r="1.65" color="#f39411"/>
<circle cx="145.4" cy="327.4" r="1.65" color="#fade0a"/>
<circle cx="145.8" cy="328.5" r="1.65" color="#d0de2e"/>
<circle cx="146.2" cy="329.6" r="1.65" color="#9ddecb"/>
<circle cx="146.6" cy="330.6" r="1.65" color="#549ad4"/>
<circle cx="147.0" cy="331.7" r="1.65" color="#4556b2"/>
<circle cx="147.4" cy="332.8" r="1.65" color="#4e8ccc"/>
<circle cx="147.8" cy="333.8" r="1.65" color="#434dae"/>
<circle cx="91.6" cy="353.9" r="1.65" color="#5aa8dc"/>
<circle cx="92.1" cy="352.8" r="1.65" color="#4b7cc3"/>
<circle cx="92.5" cy="351.7" r="1.65" color="#4b7cc3"/>
<circle cx="92.9" cy="350.7" r="1.65" color="#549ad4"/>
<circle cx="93.3" cy="349.6" r="1.65" color="#63b3e0"/>
<circle cx="93.7" cy="348.5" r="1.65" color="#4b7cc3"/>
<circle cx="112.7" cy="337.0" r="1.65" color="#8dd9e5"/>
<circle cx="113.1" cy="338.1" r="1.65" color="#8dd9e5"/>
<circle cx="113.4" cy="339.1" r="1.65" color="#80d0e8"/>
<circle cx="113.8" cy="340.2" r="1.65" color="#80d0e8"/>
<circle cx="114.2" cy="341.2" r="1.65" color="#549ad4"/>
<circle cx="114.6" cy="342.3" r="1.65" color="#4e8ccc"/>
<circle cx="115.0" cy="343.4" r="1.65" color="#549ad4"/>
<circle cx="117.1" cy="349.1" r="1.65" color="#3a39a0"/>
<circle cx="128.2" cy="353.6" r="1.65" color="#3f42a8"/>
<circle cx="128.6" cy="352.6" r="1.65" color="#4451b0"/>
<circle cx="128.9" cy="351.6" r="1.65" color="#3c3ba3"/>
<circle cx="129.3" cy="350.7" r="1.65" color="#465cb4"/>
<circle cx="129.7" cy="349.7" r="1.65" color="#3f42a8"/>
<circle cx="131.2" cy="345.7" r="1.65" color="#3e3ea6"/>
<circle cx="92.4" cy="381.6" r="1.65" color="#4661b6"/>
<circle cx="92.7" cy="382.6" r="1.65" color="#4767b8"/>
<circle cx="93.1" cy="383.7" r="1.65" color="#486cba"/>
<circle cx="93.5" cy="384.8" r="1.65" color="#6cbee4"/>
<circle cx="93.9" cy="385.8" r="1.65" color="#99ddd3"/>
<circle cx="94.2" cy="386.9" r="1.65" color="#a0debf"/>
<circle cx="94.6" cy="387.9" r="1.65" color="#a4deaf"/>
<circle cx="95.0" cy="389.0" r="1.65" color="#dee11a"/>
<circle cx="95.4" cy="390.1" r="1.65" color="#d7e024"/>
<circle cx="95.7" cy="391.1" r="1.65" color="#efe00f"/>
<circle cx="96.1" cy="392.2" r="1.65" color="#efe00f"/>
<circle cx="96.5" cy="393.3" r="1.65" color="#f7bf0e"/>
<circle cx="96.8" cy="394.3" r="1.65" color="#e4e213"/>
<circle cx="97.2" cy="395.4" r="1.65" color="#f5df0c"/>
<circle cx="97.6" cy="396.4" r="1.65" color="#d7e024"/>
<circle cx="98.0" cy="397.5" r="1.65" color="#a8dd9f"/>
<circle cx="98.3" cy="398.6" r="1.65" color="#a4deaf"/>
<circle cx="98.7" cy="399.6" r="1.65" color="#9ddecb"/>
<circle cx="99.1" cy="400.7" r="1.65" color="#99ddd3"/>
<circle cx="99.4" cy="401.8" r="1.65" color="#80d0e8"/>
<circle cx="99.8" cy="402.8" r="1.65" color="#99ddd3"/>
<circle cx="100.2" cy="403.9" r="1.65" color="#86d4e7"/>
<circle cx="110.8" cy="400.7" r="1.65" color="#99ddd3"/>
<circle cx="111.2" cy="399.6" r="1.65" color="#9ddecb"/>
<circle cx="111.5" cy="398.5" r="1.65" color="#9ddecb"/>
<circle cx="111.9" cy="397.4" r="1.65" color="#c9dd38"/>
<circle cx="112.3" cy="396.3" r="1.65" color="#d7e024"/>
<circle cx="112.7" cy="395.2" r="1.65" color="#d7e024"/>
<circle cx="113.1" cy="394.1" r="1.65" color="#eae111"/>
<circle cx="113.5" cy="393.0" r="1.65" color="#e4e213"/>
<circle cx="113.9" cy="392.0" r="1.65" color="#d7e024"/>
<circle cx="114.3" cy="390.9" r="1.65" color="#f5df0c"/>
<circle cx="114.7" cy="389.8" r="1.65" color="#c2dc4a"/>
<circle cx="115.1" cy="388.7" r="1.65" color="#addd8d"/>
<circle cx="115.5" cy="387.6" r="1.65" color="#99ddd3"/>
<circle cx="115.9" cy="386.5" r="1.65" color="#9ddecb"/>
<circle cx="116.3" cy="385.4" r="1.65" color="#93dce2"/>
<circle cx="116.7" cy="384.3" r="1.65" color="#549ad4"/>
<circle cx="117.1" cy="383.2" r="1.65" color="#549ad4"/>
<circle cx="117.5" cy="382.1" r="1.65" color="#4556b2"/>
<circle cx="117.9" cy="381.0" r="1.65" color="#4556b2"/>
<circle cx="118.3" cy="379.9" r="1.65" color="#434dae"/>
<circle cx="118.7" cy="378.9" r="1.65" color="#434dae"/>
<circle cx="119.1" cy="377.8" r="1.65" color="#465cb4"/>
<circle cx="132.6" cy="391.8" r="1.65" color="#4556b2"/>
<circle cx="132.9" cy="392.9" r="1.65" color="#434dae"/>
<circle cx="133.3" cy="394.0" r="1.65" color="#63b3e0"/>
<circle cx="133.7" cy="395.1" r="1.65" color="#6cbee4"/>
<circle cx="134.1" cy="396.2" r="1.65" color="#8dd9e5"/>
<circle cx="134.5" cy="397.3" r="1.65" color="#93dce2"/>
<circle cx="134.9" cy="398.4" r="1.65" color="#96dddb"/>
<circle cx="135.3" cy="399.5" r="1.65" color="#addd8d"/>
<circle cx="135.7" cy="400.6" r="1.65" color="#addd8d"/>
<circle cx="136.1" cy="401.7" r="1.65" color="#c9dd38"/>
<circle cx="136.4" cy="402.8" r="1.65" color="#a4deaf"/>
<circle cx="136.8" cy="403.9" r="1.65" color="#c9dd38"/>
<circle cx="147.4" cy="400.7" r="1.65" color="#4b7cc3"/>
<circle cx="147.8" cy="399.6" r="1.65" color="#86d4e7"/>
<circle cx="148.2" cy="398.5" r="1.65" color="#a0debf"/>
<circle cx="148.6" cy="397.4" r="1.65" color="#dee11a"/>
<circle cx="149.0" cy="396.3" r="1.65" color="#d7e024"/>
<circle cx="149.3" cy="395.3" r="1.65" color="#addd8d"/>
<circle cx="149.7" cy="394.2" r="1.65" color="#addd8d"/>
<circle cx="150.1" cy="393.1" r="1.65" color="#8dd9e5"/>
<circle cx="150.5" cy="392.0" r="1.65" color="#80d0e8"/>
<circle cx="150.9" cy="390.9" r="1.65" color="#6cbee4"/>
<circle cx="151.3" cy="389.8" r="1.65" color="#465cb4"/>
<circle cx="151.7" cy="388.7" r="1.65" color="#486cba"/>
<circle cx="152.1" cy="387.6" r="1.65" color="#434dae"/>
<circle cx="152.5" cy="386.6" r="1.65" color="#4556b2"/>
<circle cx="152.9" cy="385.5" r="1.65" color="#4e8ccc"/>
<circle cx="153.3" cy="384.4" r="1.65" color="#4e8ccc"/>
<circle cx="153.7" cy="383.3" r="1.65" color="#4b7cc3"/>
<circle cx="154.1" cy="382.2" r="1.65" color="#63b3e0"/>
<circle cx="168.2" cy="389.2" r="1.65" color="#8dd9e5"/>
<circle cx="168.6" cy="390.2" r="1.65" color="#86d4e7"/>
<circle cx="168.9" cy="391.1" r="1.65" color="#86d4e7"/>
<circle cx="169.3" cy="392.1" r="1.65" color="#6cbee4"/>
<circle cx="169.6" cy="393.0" r="1.65" color="#8dd9e5"/>
<circle cx="170.8" cy="396.2" r="1.65" color="#63b3e0"/>
<circle cx="171.2" cy="397.4" r="1.65" color="#63b3e0"/>
<circle cx="171.6" cy="398.6" r="1.65" color="#8dd9e5"/>
<circle cx="172.0" cy="399.7" r="1.65" color="#a8dd9f"/>
<circle cx="172.4" cy="400.9" r="1.65" color="#a8dd9f"/>
<circle cx="172.8" cy="402.1" r="1.65" color="#99ddd3"/>
<circle cx="173.2" cy="403.2" r="1.65" color="#86d4e7"/>
<circle cx="56.7" cy="384.2" r="1.65" color="#6cbee4"/>
<circle cx="59.2" cy="391.2" r="1.65" color="#3e3ea6"/>
<circle cx="60.5" cy="395.0" r="1.65" color="#4556b2"/>
<circle cx="61.6" cy="398.2" r="1.65" color="#4451b0"/>
<circle cx="62.0" cy="399.3" r="1.65" color="#3f42a8"/>
<circle cx="62.3" cy="400.4" r="1.65" color="#4767b8"/>
<circle cx="62.7" cy="401.5" r="1.65" color="#486cba"/>
<circle cx="63.1" cy="402.7" r="1.65" color="#5aa8dc"/>
<circle cx="63.5" cy="403.8" r="1.65" color="#549ad4"/>
<circle cx="63.9" cy="404.9" r="1.65" color="#486cba"/>
<circle cx="64.2" cy="406.0" r="1.65" color="#5aa8dc"/>
<circle cx="64.6" cy="407.1" r="1.65" color="#4e8ccc"/>
<circle cx="65.0" cy="408.2" r="1.65" color="#6cbee4"/>
<circle cx="65.4" cy="409.3" r="1.65" color="#76c7e6"/>
<circle cx="65.8" cy="410.4" r="1.65" color="#86d4e7"/>
<circle cx="66.1" cy="411.5" r="1.65" color="#76c7e6"/>
<circle cx="66.5" cy="412.6" r="1.65" color="#93dce2"/>
<circle cx="66.9" cy="413.7" r="1.65" color="#8dd9e5"/>
<circle cx="67.3" cy="414.8" r="1.65" color="#93dce2"/>
<circle cx="67.6" cy="415.9" r="1.65" color="#6cbee4"/>
<circle cx="68.0" cy="417.0" r="1.65" color="#8dd9e5"/>
<circle cx="68.4" cy="418.1" r="1.65" color="#96dddb"/>
<circle cx="68.8" cy="419.3" r="1.65" color="#86d4e7"/>
<circle cx="67.1" cy="419.9" r="1.65" color="#a8dd9f"/>
<circle cx="67.5" cy="418.8" r="1.65" color="#d0de2e"/>
<circle cx="67.9" cy="417.7" r="1.65" color="#c2dc4a"/>
<circle cx="68.3" cy="416.7" r="1.65" color="#b4dd76"/>
<circle cx="68.7" cy="415.6" r="1.65" color="#c9dd38"/>
<circle cx="69.1" cy="414.5" r="1.65" color="#d7e024"/>
<circle cx="69.5" cy="413.4" r="1.65" color="#b4dd76"/>
<circle cx="69.9" cy="412.4" r="1.65" color="#c9dd38"/>
<circle cx="70.3" cy="411.3" r="1.65" color="#c2dc4a"/>
<circle cx="70.6" cy="410.2" r="1.65" color="#d0de2e"/>
<circle cx="71.0" cy="409.1" r="1.65" color="#a0debf"/>
<circle cx="71.4" cy="408.1" r="1.65" color="#addd8d"/>
<circle cx="71.8" cy="407.0" r="1.65" color="#addd8d"/>
<circle cx="72.2" cy="405.9" r="1.65" color="#a8dd9f"/>
<circle cx="72.6" cy="404.8" r="1.65" color="#a8dd9f"/>
<circle cx="73.0" cy="403.8" r="1.65" color="#a0debf"/>
<circle cx="73.4" cy="402.7" r="1.65" color="#9ddecb"/>
<circle cx="73.8" cy="401.6" r="1.65" color="#99ddd3"/>
<circle cx="74.2" cy="400.5" r="1.65" color="#86d4e7"/>
<circle cx="74.6" cy="399.5" r="1.65" color="#99ddd3"/>
<circle cx="75.0" cy="398.4" r="1.65" color="#80d0e8"/>
<circle cx="75.4" cy="397.3" r="1.65" color="#549ad4"/>
<circle cx="75.8" cy="396.2" r="1.65" color="#6cbee4"/>
<circle cx="76.2" cy="395.2" r="1.65" color="#549ad4"/>
<circle cx="76.5" cy="394.1" r="1.65" color="#4e8ccc"/>
<circle cx="76.9" cy="393.0" r="1.65" color="#434dae"/>
<circle cx="77.3" cy="391.9" r="1.65" color="#4b7cc3"/>
<circle cx="77.7" cy="390.9" r="1.65" color="#4451b0"/>
<circle cx="78.1" cy="389.8" r="1.65" color="#4b7cc3"/>
<circle cx="78.5" cy="388.7" r="1.65" color="#414aac"/>
<circle cx="78.9" cy="387.6" r="1.65" color="#4451b0"/>
<circle cx="79.3" cy="386.6" r="1.65" color="#3f42a8"/>
<circle cx="79.7" cy="385.5" r="1.65" color="#3e3ea6"/>
<circle cx="82.0" cy="379.4" r="1.65" color="#4046aa"/>
<circle cx="190.6" cy="382.2" r="1.65" color="#63b3e0"/>
<circle cx="191.1" cy="380.9" r="1.65" color="#549ad4"/>
<circle cx="191.6" cy="379.7" r="1.65" color="#549ad4"/>
<circle cx="207.6" cy="396.9" r="1.65" color="#4e8ccc"/>
<circle cx="208.0" cy="398.0" r="1.65" color="#4767b8"/>
<circle cx="208.4" cy="399.2" r="1.65" color="#4e8ccc"/>
<circle cx="208.8" cy="400.3" r="1.65" color="#414aac"/>
<circle cx="209.3" cy="401.5" r="1.65" color="#4046aa"/>
<circle cx="209.7" cy="402.6" r="1.65" color="#4e8ccc"/>
<circle cx="213.8" cy="414.1" r="1.65" color="#414aac"/>
<circle cx="214.1" cy="415.1" r="1.65" color="#549ad4"/>
<circle cx="214.5" cy="416.2" r="1.65" color="#6cbee4"/>
<circle cx="214.9" cy="417.3" r="1.65" color="#5aa8dc"/>
<circle cx="214.9" cy="417.3" r="1.65" color="#549ad4"/>
<circle cx="215.3" cy="416.2" r="1.65" color="#4767b8"/>
<circle cx="215.6" cy="415.1" r="1.65" color="#465cb4"/>
<circle cx="216.0" cy="414.1" r="1.65" color="#414aac"/>
<circle cx="216.4" cy="413.0" r="1.65" color="#4556b2"/>
<circle cx="216.7" cy="411.9" r="1.65" color="#4767b8"/>
<circle cx="217.1" cy="410.9" r="1.65" color="#4451b0"/>
</g>
<g clip-path="url(#cfb)" fill="#8ebd7d" stroke="#000" stroke-width="1.40" stroke-linejoin="round">
<path fill-rule="evenodd" d="M20 45H335V440H20Z M30.0,371.6 40.2,371.6 47.2,370.3 49.4,368.1 47.8,365.9 45.3,363.3 43.8,361.0 45.0,358.9 47.2,356.9 51.0,355.0 55.5,353.4 60.6,352.9 64.4,351.9 66.9,349.6 70.8,350.3 75.9,348.7 80.3,346.1 83.5,343.6 87.3,342.3 89.6,339.1 88.6,334.0 89.5,331.5 91.4,333.4 92.7,336.6 94.3,338.2 98.2,336.6 102.6,335.9 107.7,335.5 110.0,336.4 114.5,333.2 117.6,334.5 120.8,332.0 125.3,330.1 129.8,329.4 130.4,325.6 134.8,323.1 139.3,319.2 144.4,316.1 148.2,312.2 147.6,307.8 150.8,306.5 153.9,308.1 157.1,304.6 161.0,299.5 164.8,294.4 167.3,290.6 166.7,286.1 168.6,281.7 166.7,277.2 170.5,275.3 175.0,272.7 178.2,268.3 180.7,265.1 182.6,260.0 183.5,258.0 185.4,255.7 187.3,251.9 189.2,253.8 192.4,251.9 192.4,246.8 193.7,240.4 195.6,236.0 192.4,234.1 195.6,232.8 196.9,227.7 191.8,225.8 189.2,223.2 186.1,222.0 182.2,223.2 177.8,225.8 172.0,224.5 174.6,222.6 179.0,220.7 183.5,218.2 188.6,215.6 194.3,213.7 195.0,211.2 192.4,206.7 189.2,203.5 192.4,202.2 195.6,200.3 194.3,196.5 190.5,193.3 186.1,190.1 182.9,186.9 184.1,181.2 181.0,176.8 179.0,171.0 177.8,165.9 173.9,162.1 169.5,158.9 164.4,156.4 161.6,153.8 162.5,152.4 165.7,148.0 169.5,142.9 173.3,138.4 173.9,134.6 175.9,135.9 178.4,135.2 178.4,132.7 181.0,130.2 186.1,128.2 191.2,125.7 196.2,123.8 200.7,124.4 202.6,120.6 203.2,116.8 196.2,116.8 191.2,115.5 187.3,113.0 183.5,111.0 179.0,111.7 175.2,114.2 170.8,117.4 165.7,120.0 161.2,120.0 159.3,116.8 159.9,111.0 157.4,107.2 152.9,106.0 147.8,104.7 143.4,101.5 142.1,97.0 141.5,91.9 143.4,88.8 147.8,89.4 151.7,91.9 156.8,88.8 161.8,85.6 163.8,81.8 168.2,78.6 174.6,76.7 179.0,72.8 183.5,67.7 188.0,65.8 196.2,67.7 199.8,72.2 196.2,76.7 191.2,82.4 187.3,85.6 193.1,86.8 190.5,90.7 186.1,94.5 189.9,93.2 196.2,88.8 202.6,84.9 211.5,81.8 216.4,80.5 223.4,79.2 225.9,81.8 229.1,83.7 233.6,83.0 237.4,86.8 234.8,91.9 234.2,95.8 238.0,98.3 232.9,101.5 231.0,104.0 233.6,107.2 238.0,111.0 241.8,109.1 246.3,111.0 250.1,109.8 252.0,113.6 254.6,117.4 255.9,122.5 252.0,124.4 246.9,127.0 251.4,128.9 252.7,134.0 254.6,139.1 253.3,144.2 251.4,149.3 252.0,155.6 253.1,162.0 258.4,159.6 264.8,155.8 270.5,153.2 273.7,152.6 276.2,153.8 281.3,151.6 286.4,149.3 289.6,142.9 290.2,137.8 288.3,134.0 289.0,127.6 288.3,121.2 285.2,114.9 281.3,108.5 276.2,102.1 272.4,95.8 266.1,91.3 262.2,88.8 264.1,83.0 268.6,78.6 273.7,77.3 278.1,74.1 281.3,70.9 286.4,67.1 291.5,64.2 294.1,62.6 320.0,55.0 320.0,430.0 30.0,430.0Z"/>
<path d="M191.5,296.5 193.8,297.7 195.7,299.3 197.7,300.6 196.6,301.9 195.3,302.5 196.0,304.1 196.8,306.0 196.4,308.2 195.3,310.5 193.8,313.0 193.1,315.6 193.2,318.1 192.5,321.3 191.5,324.5 190.6,328.3 189.3,331.5 188.0,334.0 190.9,327.5 188.3,333.2 185.2,338.3 183.2,342.8 182.6,346.6 181.1,346.0 180.7,342.2 177.5,337.7 174.3,332.6 173.7,329.6 173.2,325.8 173.5,322.6 174.7,318.8 176.2,314.9 178.2,311.1 180.4,307.3 182.9,303.5 185.2,300.6 187.4,298.7 189.9,296.8Z"/>
<path d="M177.6,429.2 177.6,411.3 178.8,403.7 180.8,398.0 183.9,395.7 188.4,397.1 193.5,399.2 198.0,399.9 201.8,398.0 202.7,402.4 200.5,406.2 200.9,412.6 203.7,415.2 205.0,420.2 205.0,429.2Z"/>
<path d="M37.6,376.7 47.8,375.7 52.9,375.4 56.1,379.2 53.6,383.1 51.0,387.5 49.1,393.2 46.6,395.8 37.6,398.3Z"/>
<path d="M291.5,176.8 301.7,175.9 301.7,185.9 294.1,185.0 292.8,180.6Z"/>
<path d="M270.3,284.0 272.5,279.0 275.5,275.5 278.6,273.6 279.2,275.0 276.5,277.0 274.0,280.5 272.3,284.8Z"/>
<ellipse cx="268.0" cy="156.8" rx="2.7" ry="1.4" transform="rotate(-20 268.0 156.8)"/>
<ellipse cx="289.0" cy="162.1" rx="1.5" ry="3.2" transform="rotate(20 289.0 162.1)"/>
<ellipse cx="253.1" cy="177.0" rx="4.5" ry="1.8" transform="rotate(-15 253.1 177.0)"/>
<ellipse cx="282.0" cy="187.2" rx="1.6" ry="2.2" transform="rotate(30 282.0 187.2)"/>
<ellipse cx="291.5" cy="252.1" rx="3.2" ry="1.6" transform="rotate(-40 291.5 252.1)"/>
<ellipse cx="221.5" cy="311.2" rx="1.4" ry="1.1" transform="rotate(0 221.5 311.2)"/>
<ellipse cx="168.2" cy="295.0" rx="1.4" ry="1.3" transform="rotate(0 168.2 295.0)"/>
<ellipse cx="97.0" cy="339.3" rx="2.8" ry="1.3" transform="rotate(0 97.0 339.3)"/>
</g>
<path d="M51.3,63.4 50.4,93.1 49.5,122.8 48.4,152.6 47.5,182.3 46.6,212.0 45.8,241.7 45.1,271.4 44.4,301.1 43.9,330.9 43.4,360.6 43.0,390.3 42.6,420.0 301.6,420.0 301.2,390.3 300.8,360.6 300.3,330.9 299.8,301.1 299.1,271.4 298.4,241.7 297.6,212.0 296.7,182.3 295.8,152.6 294.7,122.8 293.8,93.1 292.9,63.4Z" fill="none" stroke="#1c1c1c" stroke-width="1.5"/>
<g clip-path="url(#cbb)">
<g fill="currentColor" fill-opacity=".3" stroke="currentColor" stroke-width="1.2">
<circle cx="294.6" cy="130.2" r="1.65" color="#549ad4"/>
<circle cx="293.3" cy="133.1" r="1.65" color="#414aac"/>
<circle cx="294.4" cy="209.0" r="1.65" color="#3e3ea6"/>
<circle cx="294.9" cy="208.0" r="1.65" color="#465cb4"/>
<circle cx="295.3" cy="207.0" r="1.65" color="#5aa8dc"/>
<circle cx="295.7" cy="206.0" r="1.65" color="#5aa8dc"/>
<circle cx="296.2" cy="205.0" r="1.65" color="#486cba"/>
<circle cx="296.6" cy="203.9" r="1.65" color="#4b7cc3"/>
<circle cx="295.6" cy="253.7" r="1.65" color="#486cba"/>
<circle cx="296.1" cy="255.0" r="1.65" color="#4556b2"/>
<circle cx="296.7" cy="256.3" r="1.65" color="#414aac"/>
<circle cx="68.0" cy="417.0" r="1.65" color="#8dd9e5"/>
<circle cx="68.4" cy="418.1" r="1.65" color="#96dddb"/>
<circle cx="68.8" cy="419.3" r="1.65" color="#86d4e7"/>
<circle cx="67.1" cy="419.9" r="1.65" color="#a8dd9f"/>
<circle cx="67.5" cy="418.8" r="1.65" color="#d0de2e"/>
<circle cx="67.9" cy="417.7" r="1.65" color="#c2dc4a"/>
<circle cx="68.3" cy="416.7" r="1.65" color="#b4dd76"/>
<circle cx="214.9" cy="417.3" r="1.65" color="#5aa8dc"/>
<circle cx="214.9" cy="417.3" r="1.65" color="#549ad4"/>
</g>
</g>
<g font-size="16" fill="#000" stroke="#000" stroke-width="0.35">
<text y="60.5"><tspan x="27.7">110</tspan><tspan x="55.5" dy="-12.3" font-size="8.5">o</tspan><tspan x="64.4" dy="12.3">E</tspan></text>
<text y="60.5"><tspan x="148.5">120</tspan><tspan x="176.3" dy="-12.3" font-size="8.5">o</tspan><tspan x="185.2" dy="12.3">E</tspan></text>
<text y="60.5"><tspan x="269.3">130</tspan><tspan x="297.1" dy="-12.3" font-size="8.5">o</tspan><tspan x="306.0" dy="12.3">E</tspan></text>
<text y="86.8"><tspan x="7.5">40</tspan><tspan x="25.7" dy="-11.7" font-size="8.5">o</tspan><tspan x="35.3" dy="11.7">N</tspan></text>
<text y="161.1"><tspan x="5.1">35</tspan><tspan x="23.3" dy="-11.7" font-size="8.5">o</tspan><tspan x="32.9" dy="11.7">N</tspan></text>
<text y="235.3"><tspan x="2.8">30</tspan><tspan x="21.0" dy="-11.7" font-size="8.5">o</tspan><tspan x="30.6" dy="11.7">N</tspan></text>
<text y="309.6"><tspan x="1.1">25</tspan><tspan x="19.3" dy="-11.7" font-size="8.5">o</tspan><tspan x="28.9" dy="11.7">N</tspan></text>
<text y="383.8"><tspan x="-0.1">20</tspan><tspan x="18.1" dy="-11.7" font-size="8.5">o</tspan><tspan x="27.7" dy="11.7">N</tspan></text>
</g>
</g>
<g transform="translate(1.5 442.0)">
<clipPath id="cfc"><path d="M51.3,63.4 50.4,93.1 49.5,122.8 48.4,152.6 47.5,182.3 46.6,212.0 45.8,241.7 45.1,271.4 44.4,301.1 43.9,330.9 43.4,360.6 43.0,390.3 42.6,420.0 301.6,420.0 301.2,390.3 300.8,360.6 300.3,330.9 299.8,301.1 299.1,271.4 298.4,241.7 297.6,212.0 296.7,182.3 295.8,152.6 294.7,122.8 293.8,93.1 292.9,63.4Z"/></clipPath>
<clipPath id="cbc"><path clip-rule="evenodd" d="M20 45H335V440H20Z M52.2,64.3 51.3,93.1 50.4,122.8 49.3,152.6 48.4,182.3 47.5,212.0 46.7,241.7 46.0,271.4 45.3,301.1 44.8,330.9 44.3,360.6 43.9,390.3 43.5,419.1 300.7,419.1 300.3,390.3 299.9,360.6 299.4,330.9 298.9,301.1 298.2,271.4 297.5,241.7 296.7,212.0 295.8,182.3 294.9,152.6 293.8,122.8 292.9,93.1 292.0,64.3Z"/></clipPath>
<g fill="none" stroke-width="4.3" stroke-linecap="round" stroke-linejoin="round">
<path d="M66.8,420.8 68.3,416.8 69.7,412.7 71.2,408.7 72.7,404.6 74.2,400.6 75.6,396.5 77.1,392.5 78.6,388.5 80.1,384.4 81.6,380.4 83.1,376.3 84.7,372.3 86.2,368.2 87.7,364.2 89.3,360.2 90.8,356.1 92.4,352.1 93.9,348.0 95.1,345.0" stroke="#38369d"/>
<path d="M140.2,420.8 141.7,416.8 143.1,412.7 144.5,408.7 146.0,404.7 147.4,400.6 148.9,396.6 150.3,392.5 151.8,388.5 153.2,384.5 154.7,380.4 156.2,376.4 157.7,372.4" stroke="#36339a"/>
<path d="M157.7,372.4 158.0,371.4" stroke="#3a39a0"/>
<path d="M158.0,371.4 158.4,370.4" stroke="#4046aa"/>
<path d="M158.4,370.4 158.8,369.3" stroke="#4451b0"/>
<path d="M158.8,369.3 159.2,368.3" stroke="#465cb4"/>
<path d="M159.2,368.3 159.5,367.3" stroke="#434dae"/>
<path d="M159.5,367.3 159.9,366.3" stroke="#3f42a8"/>
<path d="M159.9,366.3 160.3,365.3" stroke="#38369d"/>
<path d="M160.3,365.3 161.8,361.3 163.3,357.2 164.8,353.2 166.3,349.2 167.8,345.1 169.4,341.1 170.9,337.1 172.4,333.0 173.2,331.0" stroke="#36339a"/>
<path d="M275.2,99.0 277.3,94.9 279.4,90.8 281.6,86.8 283.7,82.7 285.9,78.6 288.0,74.5 290.2,70.4 291.3,68.4" stroke="#38369d"/>
<path d="M190.0,384.0 191.4,380.0 192.9,376.0 194.3,372.0 195.8,368.0 197.3,364.0 198.7,360.0 200.2,356.0 201.7,352.0 203.2,348.0 204.6,344.0 206.1,340.0 207.6,336.0 209.1,332.0 210.7,328.0 212.2,324.0 213.7,320.0 215.2,316.0 216.8,312.0 218.3,308.0 219.9,304.0 221.5,300.0 223.0,296.0 224.6,292.0 226.2,288.0 227.7,284.0 229.3,280.0 230.9,276.0 232.5,272.0 234.2,268.0 235.8,264.0 237.4,260.0 239.0,256.0 240.7,252.0 242.3,248.0 244.0,244.0 245.7,240.0 247.4,236.0 249.1,232.0 250.8,228.0 252.5,224.0 254.2,220.0 255.9,216.0 257.6,212.0 259.3,208.0 261.1,204.0 262.8,200.0 264.6,196.0 266.4,192.0 268.2,188.0 269.9,184.0 271.8,180.0 273.6,176.0 275.4,172.0 277.2,168.0 279.1,164.0 281.0,160.0 282.9,156.0 283.8,154.0" stroke="#38369d"/>
<path d="M291.0,138.0 291.5,136.9 292.1,135.8 292.6,134.7 293.1,133.5 293.6,132.4 294.1,131.3 294.6,130.2" stroke="#38369d"/>
<path d="M213.7,420.8 215.1,416.8 216.5,412.8 217.9,408.8 219.3,404.7 220.7,400.7 222.1,396.7 223.5,392.7 224.9,388.7 226.3,384.7 227.8,380.6 229.2,376.6 230.6,372.6 232.1,368.6 233.5,364.6 235.0,360.6 236.4,356.5 237.9,352.5 239.4,348.5 240.9,344.5 242.3,340.5 243.8,336.5 245.3,332.4 246.8,328.4 248.3,324.4 249.8,320.4 251.4,316.4 252.9,312.4 254.4,308.3 256.0,304.3 257.5,300.3 259.1,296.3 260.6,292.3 262.2,288.3 263.7,284.2 265.3,280.2 266.9,276.2 268.5,272.2 270.1,268.2 271.7,264.2 272.9,261.1" stroke="#36339a"/>
<path d="M272.9,261.1 273.3,260.1" stroke="#3a39a0"/>
<path d="M273.3,260.1 273.7,259.1" stroke="#3e3ea6"/>
<path d="M273.7,259.1 274.1,258.1" stroke="#4046aa"/>
<path d="M274.1,258.1 274.5,257.1" stroke="#434dae"/>
<path d="M274.5,257.1 274.9,256.1" stroke="#4556b2"/>
<path d="M274.9,256.1 275.3,255.1" stroke="#4661b6"/>
<path d="M275.3,255.1 275.7,254.1" stroke="#486cba"/>
<path d="M275.7,254.1 276.1,253.1" stroke="#434dae"/>
<path d="M276.1,253.1 276.5,252.1" stroke="#38369d"/>
<path d="M276.5,252.1 278.2,248.1 279.8,244.1 281.5,240.1 283.1,236.0 284.8,232.0 286.5,228.0 288.1,224.0 289.0,222.0" stroke="#36339a"/>
<path d="M289.0,222.0 289.4,221.0" stroke="#3c3ba3"/>
<path d="M289.4,221.0 289.8,220.0" stroke="#414aac"/>
<path d="M289.8,220.0 290.2,219.0" stroke="#4556b2"/>
<path d="M290.2,219.0 290.7,218.0" stroke="#434dae"/>
<path d="M290.7,218.0 291.1,217.0" stroke="#4046aa"/>
<path d="M291.1,217.0 291.5,216.0" stroke="#3e3ea6"/>
<path d="M291.5,216.0 291.9,215.0" stroke="#4451b0"/>
<path d="M291.9,215.0 292.4,213.9" stroke="#486cba"/>
<path d="M292.4,213.9 292.8,212.9" stroke="#5aa8dc"/>
<path d="M292.8,212.9 293.2,211.9" stroke="#486cba"/>
<path d="M293.2,211.9 293.6,210.9" stroke="#4556b2"/>
<path d="M293.6,210.9 294.1,209.9" stroke="#4046aa"/>
<path d="M294.1,209.9 294.5,208.9" stroke="#4556b2"/>
<path d="M294.5,208.9 294.9,207.9" stroke="#486cba"/>
<path d="M294.9,207.9 295.3,206.9" stroke="#5aa8dc"/>
<path d="M295.3,206.9 295.8,205.9" stroke="#4767b8"/>
<path d="M295.8,205.9 296.2,204.9" stroke="#434dae"/>
<path d="M296.2,204.9 296.6,203.9" stroke="#3e3ea6"/>
<path d="M296.6,203.9 297.1,202.9 297.5,201.9" stroke="#3c3ba3"/>
<path d="M250.4,420.8 251.8,416.8 253.1,412.8 254.5,408.7 255.9,404.7 257.3,400.7 258.7,396.7 260.1,392.6 261.5,388.6 262.9,384.6 264.3,380.6 265.8,376.5 267.2,372.5 268.6,368.5 270.1,364.5 271.5,360.4 272.9,356.4 274.4,352.4 275.8,348.4 277.3,344.3 278.8,340.3 280.2,336.3 281.7,332.3 283.2,328.3 284.7,324.2 286.2,320.2 287.7,316.2 289.2,312.2 290.7,308.1 292.3,304.1 293.8,300.1 295.3,296.1 296.8,292.0 298.4,288.0 299.5,285.0" stroke="#38369d"/>
<path d="M287.1,420.8 288.5,416.7 289.9,412.6 291.3,408.6 292.6,404.5 294.0,400.4 295.4,396.3 296.9,392.2 298.3,388.1 299.7,384.1 300.8,381.0" stroke="#38369d"/>
<path d="M69.3,420.8 67.9,416.8 66.6,412.7 65.2,408.7 63.8,404.7 62.4,400.6 61.0,396.6 59.6,392.6 58.2,388.6 56.8,384.5 55.8,381.5" stroke="#38369d"/>
<path d="M106.0,420.8 104.6,416.8 103.2,412.7 101.8,408.7 100.4,404.6 99.0,400.6 97.6,396.5 96.2,392.5 94.8,388.4 93.4,384.4 91.9,380.3 90.5,376.3 89.0,372.3 87.6,368.2 86.2,364.2 84.7,360.1 83.3,356.1 81.8,352.0 81.1,350.0" stroke="#38369d"/>
<path d="M142.7,420.8 141.3,416.8 139.9,412.8 138.5,408.8 137.1,404.8 135.7,400.8 134.3,396.7 132.9,392.7 131.5,388.7 130.0,384.7 128.6,380.7 127.2,376.7 125.7,372.7 124.3,368.7 122.8,364.7 121.4,360.7 119.9,356.6 118.4,352.6 117.0,348.6 115.5,344.6 114.0,340.6 112.5,336.6" stroke="#38369d"/>
<path d="M216.2,420.8 214.7,416.8 213.3,412.7 211.8,408.7 210.4,404.6 208.9,400.6 207.5,396.5 206.0,392.5 204.5,388.4 203.1,384.4 201.6,380.3 200.1,376.3 198.6,372.2 197.9,370.2" stroke="#38369d"/>
<path d="M196.7,367.0 196.3,366.0 195.9,365.0 195.6,364.0 195.2,363.0 194.8,362.0" stroke="#36339a"/>
<path d="M194.8,362.0 194.4,361.0" stroke="#4046aa"/>
<path d="M194.4,361.0 194.1,360.0 193.7,359.0" stroke="#465cb4"/>
<path d="M193.7,359.0 193.3,358.0" stroke="#4046aa"/>
<path d="M193.3,358.0 191.8,354.0 190.3,350.0 188.8,346.0 188.4,345.0" stroke="#36339a"/>
<path d="M188.4,345.0 188.0,344.0" stroke="#3f42a8"/>
<path d="M188.0,344.0 187.7,343.0" stroke="#4556b2"/>
<path d="M187.7,343.0 187.3,342.0" stroke="#3f42a8"/>
<path d="M187.3,342.0 186.9,341.0 186.5,340.0" stroke="#36339a"/>
<path d="M176.3,313.5 174.7,309.4 173.0,305.2 171.4,301.1 169.8,297.0" stroke="#4661b6"/>
<path d="M252.9,420.8 251.4,416.8 250.0,412.8 248.6,408.8 247.1,404.8 245.7,400.8 244.2,396.8 242.7,392.8 241.3,388.8 239.8,384.8 238.3,380.8 236.8,376.8 235.3,372.8 233.8,368.8 232.3,364.8 230.8,360.8 229.3,356.8 227.8,352.8 226.3,348.8 224.7,344.8 223.2,340.8 221.7,336.8 220.1,332.8 218.6,328.8 217.0,324.8 215.4,320.8 213.8,316.8 212.3,312.8 210.7,308.8 209.1,304.8 207.5,300.8 205.8,296.8 204.2,292.8 202.6,288.8 200.9,284.8 199.3,280.8 197.6,276.8 196.0,272.8 194.3,268.8 192.6,264.8 190.9,260.8 189.2,256.8" stroke="#38369d"/>
<path d="M300.4,352.0 298.8,348.0 297.2,344.0 295.6,339.9 294.0,335.9 292.4,331.9 290.8,327.9 289.2,323.9 287.6,319.9 286.0,315.8 284.4,311.8 282.7,307.8 281.1,303.8 279.4,299.8 277.7,295.7 276.0,291.7 274.3,287.7 273.1,284.7" stroke="#38369d"/>
<path d="M298.6,260.6 296.8,256.6 295.1,252.6 293.3,248.6 292.8,247.6" stroke="#36339a"/>
<path d="M292.8,247.6 292.4,246.6" stroke="#38369d"/>
<path d="M292.4,246.6 291.9,245.6" stroke="#3c3ba3"/>
<path d="M291.9,245.6 291.5,244.6" stroke="#4046aa"/>
<path d="M291.5,244.6 291.0,243.6" stroke="#4661b6"/>
<path d="M291.0,243.6 290.6,242.6" stroke="#486cba"/>
<path d="M290.6,242.6 290.1,241.6" stroke="#4451b0"/>
<path d="M290.1,241.6 289.6,240.6" stroke="#3f42a8"/>
<path d="M289.6,240.6 289.2,239.6" stroke="#3c3ba3"/>
<path d="M289.2,239.6 288.7,238.6" stroke="#414aac"/>
<path d="M288.7,238.6 288.3,237.6 287.8,236.6" stroke="#4556b2"/>
<path d="M287.8,236.6 287.4,235.6" stroke="#3e3ea6"/>
<path d="M287.4,235.6 285.5,231.6 283.7,227.6 281.8,223.6 279.9,219.6 278.0,215.6 276.1,211.6 274.2,207.6 272.3,203.6 270.3,199.6 268.4,195.6 266.4,191.6 264.4,187.6 262.5,183.6" stroke="#36339a"/>
<path d="M262.5,183.6 262.0,182.6 261.5,181.6 261.0,180.6" stroke="#38369d"/>
<path d="M261.0,180.6 260.5,179.6 260.0,178.6" stroke="#3a39a0"/>
<path d="M260.0,178.6 259.5,177.6 259.0,176.6" stroke="#3c3ba3"/>
<path d="M257.2,173.0 256.6,171.9 256.1,170.9 255.5,169.8 255.0,168.7 254.4,167.7 253.9,166.6" stroke="#434dae"/>
<path d="M286.2,161.0 284.0,156.8 281.8,152.6 281.2,151.5" stroke="#38369d"/>
<path d="M294.9,112.0 292.6,108.0 290.4,104.0 288.2,99.9 285.9,95.9 283.7,91.9 281.4,87.8 279.1,83.8 276.7,79.8" stroke="#38369d"/>
<path d="M103.5,420.8 105.0,416.8 106.4,412.7 107.9,408.7 109.3,404.7 110.8,400.6 111.9,397.6" stroke="#36339a"/>
<path d="M111.9,397.6 113.3,393.6 114.8,389.6 116.3,385.5 117.8,381.5 119.3,377.5 120.8,373.4 122.3,369.4 123.8,365.4 125.3,361.3 126.8,357.3 128.3,353.3 129.1,351.3" stroke="#38369d"/>
<path d="M129.1,351.3 130.6,347.2 132.2,343.2 133.7,339.2 135.3,335.1 136.8,331.1 138.0,328.1" stroke="#3a39a0"/>
<path d="M138.0,328.1 138.4,327.1" stroke="#3f42a8"/>
<path d="M138.4,327.1 138.8,326.1" stroke="#414aac"/>
<path d="M138.8,326.1 139.2,325.0" stroke="#4556b2"/>
<path d="M139.2,325.0 139.6,324.0" stroke="#4767b8"/>
<path d="M139.6,324.0 140.0,323.0" stroke="#4e8ccc"/>
<path d="M140.0,323.0 140.4,322.0" stroke="#549ad4"/>
<path d="M140.4,322.0 140.8,321.0" stroke="#5aa8dc"/>
<path d="M140.8,321.0 141.1,320.0" stroke="#6cbee4"/>
<path d="M141.1,320.0 141.5,319.0" stroke="#76c7e6"/>
<path d="M177.8,416.0 176.4,412.0 174.9,408.0 173.5,404.0 172.1,400.0 170.7,396.0 169.6,393.0" stroke="#36339a"/>
<path d="M169.6,393.0 169.2,392.0" stroke="#414aac"/>
<path d="M169.2,392.0 168.9,391.0" stroke="#4767b8"/>
<path d="M168.9,391.0 168.5,390.0" stroke="#4661b6"/>
<path d="M168.5,390.0 168.2,389.0" stroke="#4046aa"/>
<path d="M168.2,389.0 166.7,385.0 165.3,381.0 163.8,377.0 162.4,373.0" stroke="#36339a"/>
<path d="M162.4,373.0 162.0,372.0" stroke="#3e3ea6"/>
<path d="M162.0,372.0 161.6,371.0" stroke="#414aac"/>
<path d="M161.6,371.0 161.3,370.0" stroke="#4556b2"/>
<path d="M161.3,370.0 160.9,369.0" stroke="#486cba"/>
<path d="M160.9,369.0 160.5,368.0" stroke="#4556b2"/>
<path d="M160.5,368.0 160.2,367.0" stroke="#414aac"/>
<path d="M160.2,367.0 159.8,366.0" stroke="#3e3ea6"/>
<path d="M159.8,366.0 158.3,362.0 156.9,358.0 156.1,356.0" stroke="#36339a"/>
<path d="M156.1,356.0 154.6,352.0 153.1,348.0 151.7,344.0 150.1,340.0 149.8,339.0" stroke="#38369d"/>
<path d="M149.8,339.0 148.3,335.0 146.7,331.0 146.0,329.0" stroke="#3a39a0"/>
<path d="M146.0,329.0 145.6,328.0" stroke="#3e3ea6"/>
<path d="M145.6,328.0 145.2,327.0" stroke="#414aac"/>
<path d="M145.2,327.0 144.8,326.0" stroke="#4451b0"/>
<path d="M144.8,326.0 144.5,325.0" stroke="#4661b6"/>
<path d="M144.5,325.0 144.1,324.0" stroke="#486cba"/>
<path d="M144.1,324.0 143.7,323.0" stroke="#4e8ccc"/>
<path d="M143.7,323.0 143.3,322.0" stroke="#549ad4"/>
<path d="M143.3,322.0 142.9,321.0" stroke="#63b3e0"/>
<path d="M142.9,321.0 142.5,320.0" stroke="#6cbee4"/>
<path d="M289.6,420.8 288.1,416.8 286.7,412.8 285.2,408.8 283.8,404.8 282.3,400.8 280.8,396.8 279.3,392.7 277.8,388.7 276.3,384.7 274.9,380.7 273.3,376.7 271.8,372.7 270.3,368.7 268.8,364.7 267.3,360.7 265.7,356.7 264.2,352.7 262.6,348.7 261.1,344.7 259.5,340.6 258.0,336.6 256.4,332.6 254.8,328.6 253.2,324.6 251.6,320.6 250.0,316.6 248.4,312.6 246.8,308.6 245.2,304.6 243.6,300.6 241.9,296.6 240.2,292.5 238.6,288.5 236.9,284.5 235.2,280.5 233.5,276.5 231.8,272.5 230.1,268.5 228.4,264.5 226.7,260.5 225.0,256.5 223.2,252.5 221.5,248.5 219.7,244.5 218.0,240.4 216.2,236.4 214.4,232.4 212.6,228.4 210.8,224.4 209.0,220.4 207.6,217.4" stroke="#38369d"/>
<path d="M205.3,212.4 204.9,211.4 204.4,210.4" stroke="#63b3e0"/>
<path d="M204.4,210.4 203.9,209.4 203.5,208.4" stroke="#6cbee4"/>
<path d="M203.5,208.4 203.0,207.3" stroke="#76c7e6"/>
<path d="M203.0,207.3 202.5,206.3" stroke="#80d0e8"/>
<path d="M202.5,206.3 202.1,205.3" stroke="#86d4e7"/>
<path d="M202.1,205.3 201.6,204.3" stroke="#8dd9e5"/>
<path d="M201.6,204.3 201.1,203.3" stroke="#93dce2"/>
<path d="M201.1,203.3 200.6,202.3" stroke="#96dddb"/>
<path d="M200.6,202.3 200.2,201.3" stroke="#99ddd3"/>
<path d="M200.2,201.3 199.7,200.3" stroke="#a0debf"/>
<path d="M199.7,200.3 199.2,199.3" stroke="#a4deaf"/>
<path d="M199.2,199.3 198.8,198.3" stroke="#addd8d"/>
<path d="M198.8,198.3 198.3,197.2" stroke="#bbdc60"/>
<path d="M198.3,197.2 197.8,196.2" stroke="#d0de2e"/>
<path d="M197.8,196.2 197.3,195.2" stroke="#dee11a"/>
<path d="M197.3,195.2 196.9,194.2" stroke="#eae111"/>
<path d="M196.9,194.2 196.4,193.2" stroke="#f5df0c"/>
<path d="M196.4,193.2 195.9,192.2" stroke="#fade0a"/>
<path d="M195.9,192.2 195.4,191.2" stroke="#f9d40b"/>
<path d="M195.4,191.2 194.9,190.2" stroke="#f7bf0e"/>
<path d="M194.9,190.2 194.5,189.2 194.0,188.2" stroke="#f6b40f"/>
<path d="M194.0,188.2 193.5,187.1 193.0,186.1 192.5,185.1 192.0,184.1" stroke="#f7bf0e"/>
<path d="M192.0,184.1 191.6,183.1 191.1,182.1 190.6,181.1" stroke="#f8c90d"/>
<path d="M190.6,181.1 190.1,180.1" stroke="#f9d40b"/>
<path d="M190.1,180.1 189.6,179.1 189.1,178.1" stroke="#fade0a"/>
<path d="M189.1,178.1 188.6,177.0 188.2,176.0" stroke="#f5df0c"/>
<path d="M188.2,176.0 187.7,175.0 187.2,174.0" stroke="#efe00f"/>
<path d="M187.2,174.0 186.7,173.0 186.2,172.0" stroke="#eae111"/>
<path d="M186.2,172.0 185.7,171.0" stroke="#e4e213"/>
<path d="M185.7,171.0 185.2,170.0" stroke="#dee11a"/>
<path d="M185.2,170.0 184.7,169.0" stroke="#d7e024"/>
<path d="M184.7,169.0 184.2,168.0" stroke="#d0de2e"/>
<path d="M184.2,168.0 183.7,166.9" stroke="#a4deaf"/>
<path d="M183.7,166.9 183.2,165.9" stroke="#6cbee4"/>
<path d="M183.2,165.9 182.7,164.9" stroke="#4556b2"/>
<path d="M182.7,164.9 182.2,163.9" stroke="#434dae"/>
<path d="M182.2,163.9 181.7,162.9" stroke="#414aac"/>
<path d="M181.7,162.9 181.2,161.9" stroke="#434dae"/>
<path d="M181.2,161.9 180.7,160.9" stroke="#465cb4"/>
<path d="M180.7,160.9 180.2,159.9" stroke="#4b7cc3"/>
<path d="M180.2,159.9 179.7,158.9" stroke="#63b3e0"/>
<path d="M179.7,158.9 179.2,157.9" stroke="#86d4e7"/>
<path d="M179.2,157.9 178.7,156.8" stroke="#99ddd3"/>
<path d="M178.7,156.8 178.2,155.8" stroke="#a8dd9f"/>
<path d="M178.2,155.8 177.7,154.8" stroke="#c2dc4a"/>
<path d="M177.7,154.8 177.2,153.8" stroke="#dee11a"/>
<path d="M177.2,153.8 176.7,152.8" stroke="#eae111"/>
<path d="M176.7,152.8 176.2,151.8 175.7,150.8" stroke="#efe00f"/>
<path d="M175.7,150.8 175.2,149.8" stroke="#f5df0c"/>
<path d="M175.2,149.8 174.8,148.8" stroke="#fade0a"/>
<path d="M174.8,148.8 174.3,147.8" stroke="#f9d40b"/>
<path d="M174.3,147.8 173.8,146.7 173.3,145.7" stroke="#f8c90d"/>
<path d="M173.3,145.7 172.8,144.7" stroke="#f7bf0e"/>
<path d="M172.8,144.7 172.3,143.7 171.8,142.7" stroke="#f6b40f"/>
<path d="M152.6,104.7 150.4,100.6 148.2,96.4" stroke="#efe00f"/>
<path d="M195.3,192.5 195.8,191.5" stroke="#f8c90d"/>
<path d="M195.8,191.5 196.3,190.5" stroke="#fade0a"/>
<path d="M196.3,190.5 196.7,189.5" stroke="#efe00f"/>
<path d="M196.7,189.5 197.2,188.5" stroke="#e4e213"/>
<path d="M197.2,188.5 197.7,187.5" stroke="#dee11a"/>
<path d="M197.7,187.5 198.1,186.5" stroke="#d0de2e"/>
<path d="M198.1,186.5 198.6,185.5" stroke="#c2dc4a"/>
<path d="M198.6,185.5 199.1,184.4" stroke="#b4dd76"/>
<path d="M199.1,184.4 199.5,183.4" stroke="#addd8d"/>
<path d="M199.5,183.4 200.0,182.4" stroke="#a8dd9f"/>
<path d="M200.0,182.4 200.5,181.4" stroke="#a0debf"/>
<path d="M200.5,181.4 201.0,180.4" stroke="#9ddecb"/>
<path d="M201.0,180.4 201.4,179.4" stroke="#99ddd3"/>
<path d="M201.4,179.4 201.9,178.4" stroke="#93dce2"/>
<path d="M201.9,178.4 202.4,177.4" stroke="#8dd9e5"/>
<path d="M202.4,177.4 202.9,176.4" stroke="#86d4e7"/>
<path d="M202.9,176.4 203.3,175.4" stroke="#76c7e6"/>
<path d="M203.3,175.4 203.8,174.4" stroke="#6cbee4"/>
<path d="M203.8,174.4 204.3,173.4" stroke="#63b3e0"/>
<path d="M204.3,173.4 204.8,172.4" stroke="#549ad4"/>
<path d="M204.8,172.4 205.2,171.4" stroke="#4b7cc3"/>
<path d="M205.2,171.4 205.7,170.4" stroke="#486cba"/>
<path d="M205.7,170.4 206.2,169.4" stroke="#4661b6"/>
<path d="M206.2,169.4 206.7,168.3" stroke="#4556b2"/>
<path d="M206.7,168.3 207.2,167.3" stroke="#4451b0"/>
<path d="M207.2,167.3 207.7,166.3" stroke="#414aac"/>
<path d="M207.7,166.3 208.1,165.3" stroke="#4046aa"/>
<path d="M208.1,165.3 208.6,164.3" stroke="#3f42a8"/>
<path d="M208.6,164.3 209.1,163.3" stroke="#3e3ea6"/>
<path d="M209.1,163.3 209.6,162.3" stroke="#3c3ba3"/>
<path d="M209.6,162.3 210.1,161.3 210.6,160.3" stroke="#3a39a0"/>
<path d="M210.6,160.3 211.1,159.3 211.6,158.3 212.0,157.3" stroke="#38369d"/>
<path d="M212.0,157.3 212.5,156.3 213.0,155.3 213.5,154.3 214.0,153.3 214.5,152.2" stroke="#36339a"/>
<path d="M214.5,152.2 216.4,148.2 218.3,144.2" stroke="#38369d"/>
<path d="M218.3,144.2 218.7,143.2 219.2,142.2 219.7,141.2 220.2,140.2 220.7,139.2" stroke="#3a39a0"/>
<path d="M220.7,139.2 221.1,138.2" stroke="#3c3ba3"/>
<path d="M221.1,138.2 221.6,137.2" stroke="#3e3ea6"/>
<path d="M221.6,137.2 222.1,136.1" stroke="#4046aa"/>
<path d="M222.1,136.1 222.6,135.1" stroke="#414aac"/>
<path d="M222.6,135.1 223.1,134.1" stroke="#434dae"/>
<path d="M223.1,134.1 223.6,133.1" stroke="#4556b2"/>
<path d="M223.6,133.1 224.1,132.1" stroke="#465cb4"/>
<path d="M224.1,132.1 224.5,131.1" stroke="#4661b6"/>
<path d="M224.5,131.1 225.0,130.1" stroke="#4767b8"/>
<path d="M225.0,130.1 225.5,129.1" stroke="#486cba"/>
<path d="M225.5,129.1 226.0,128.1" stroke="#4e8ccc"/>
<path d="M226.0,128.1 226.5,127.1" stroke="#549ad4"/>
<path d="M226.5,127.1 227.0,126.1" stroke="#5aa8dc"/>
<path d="M227.0,126.1 227.5,125.1" stroke="#63b3e0"/>
<path d="M227.5,125.1 228.0,124.1" stroke="#6cbee4"/>
<path d="M228.0,124.1 228.5,123.1" stroke="#80d0e8"/>
<path d="M228.5,123.1 229.0,122.1" stroke="#86d4e7"/>
<path d="M229.0,122.1 229.5,121.1 230.0,120.0" stroke="#8dd9e5"/>
<path d="M230.0,120.0 230.5,119.0 231.0,118.0 231.5,117.0" stroke="#93dce2"/>
<path d="M231.5,117.0 232.0,116.0 232.5,115.0" stroke="#96dddb"/>
<path d="M232.5,115.0 233.0,114.0 233.5,113.0" stroke="#99ddd3"/>
<path d="M176.1,159.0 176.6,158.0" stroke="#9ddecb"/>
<path d="M176.6,158.0 177.1,157.0 177.6,156.0" stroke="#99ddd3"/>
<path d="M177.6,156.0 178.1,154.9 178.6,153.9 179.1,152.9" stroke="#96dddb"/>
<path d="M179.1,152.9 179.6,151.9 180.1,150.9" stroke="#93dce2"/>
<path d="M180.1,150.9 180.5,149.9 181.0,148.9" stroke="#8dd9e5"/>
<path d="M181.0,148.9 181.5,147.8 182.0,146.8" stroke="#86d4e7"/>
<path d="M182.0,146.8 182.5,145.8 183.0,144.8" stroke="#80d0e8"/>
<path d="M183.0,144.8 183.5,143.8" stroke="#76c7e6"/>
<path d="M183.5,143.8 184.0,142.8" stroke="#6cbee4"/>
<path d="M184.0,142.8 184.5,141.8" stroke="#63b3e0"/>
<path d="M184.5,141.8 185.0,140.7" stroke="#5aa8dc"/>
<path d="M185.0,140.7 185.5,139.7" stroke="#549ad4"/>
<path d="M185.5,139.7 186.0,138.7" stroke="#4e8ccc"/>
<path d="M186.0,138.7 186.5,137.7" stroke="#4b7cc3"/>
<path d="M186.5,137.7 187.0,136.7" stroke="#486cba"/>
<path d="M187.0,136.7 187.5,135.7" stroke="#4767b8"/>
<path d="M187.5,135.7 188.0,134.6" stroke="#4661b6"/>
<path d="M188.0,134.6 188.5,133.6" stroke="#465cb4"/>
<path d="M188.5,133.6 189.0,132.6" stroke="#4556b2"/>
<path d="M189.0,132.6 189.5,131.6" stroke="#4451b0"/>
<path d="M189.5,131.6 190.0,130.6" stroke="#434dae"/>
<path d="M190.0,130.6 190.5,129.6" stroke="#414aac"/>
<path d="M190.5,129.6 191.0,128.6" stroke="#4046aa"/>
<path d="M191.0,128.6 191.5,127.5" stroke="#3f42a8"/>
<path d="M191.5,127.5 192.0,126.5" stroke="#3e3ea6"/>
<path d="M192.0,126.5 192.5,125.5 193.0,124.5" stroke="#3c3ba3"/>
<path d="M199.1,112.4 201.2,108.3 203.3,104.3 205.5,100.2 206.0,99.2" stroke="#4556b2"/>
<path d="M206.0,99.2 206.5,98.2" stroke="#465cb4"/>
<path d="M206.5,98.2 207.1,97.2" stroke="#4661b6"/>
<path d="M207.1,97.2 207.6,96.2" stroke="#486cba"/>
<path d="M207.6,96.2 208.2,95.2" stroke="#4b7cc3"/>
<path d="M208.2,95.2 208.7,94.1" stroke="#4e8ccc"/>
<path d="M208.7,94.1 209.2,93.1" stroke="#5aa8dc"/>
<path d="M209.2,93.1 209.8,92.1" stroke="#63b3e0"/>
<path d="M209.8,92.1 210.3,91.1" stroke="#76c7e6"/>
<path d="M210.3,91.1 210.9,90.1" stroke="#80d0e8"/>
<path d="M210.9,90.1 211.4,89.1" stroke="#8dd9e5"/>
<path d="M211.4,89.1 212.0,88.1" stroke="#96dddb"/>
<path d="M212.0,88.1 212.5,87.0" stroke="#9ddecb"/>
<path d="M212.5,87.0 213.1,86.0" stroke="#a4deaf"/>
<path d="M213.1,86.0 213.6,85.0" stroke="#d7e024"/>
<path d="M213.6,85.0 214.2,84.0" stroke="#efe00f"/>
<path d="M162.4,116.5 162.9,115.5" stroke="#80d0e8"/>
<path d="M162.9,115.5 163.4,114.5" stroke="#6cbee4"/>
<path d="M163.4,114.5 164.0,113.5" stroke="#63b3e0"/>
<path d="M164.0,113.5 164.5,112.5" stroke="#549ad4"/>
<path d="M164.5,112.5 165.0,111.5" stroke="#4e8ccc"/>
<path d="M165.0,111.5 165.5,110.5" stroke="#486cba"/>
<path d="M165.5,110.5 166.1,109.5" stroke="#4767b8"/>
<path d="M166.1,109.5 166.6,108.5" stroke="#465cb4"/>
<path d="M166.6,108.5 167.1,107.4" stroke="#4556b2"/>
<path d="M167.1,107.4 167.6,106.4" stroke="#434dae"/>
<path d="M167.6,106.4 168.2,105.4" stroke="#414aac"/>
<path d="M168.2,105.4 168.7,104.4" stroke="#3f42a8"/>
<path d="M168.7,104.4 169.2,103.4" stroke="#3e3ea6"/>
<path d="M169.2,103.4 169.8,102.4" stroke="#3c3ba3"/>
<path d="M169.8,102.4 171.9,98.4 174.1,94.4 176.3,90.3 178.5,86.3 180.1,83.3" stroke="#3a39a0"/>
<path d="M180.1,83.3 180.7,82.3" stroke="#3c3ba3"/>
<path d="M180.7,82.3 181.2,81.3" stroke="#3e3ea6"/>
<path d="M181.2,81.3 181.8,80.3" stroke="#3f42a8"/>
<path d="M181.8,80.3 182.4,79.3" stroke="#4046aa"/>
<path d="M182.4,79.3 182.9,78.3" stroke="#414aac"/>
<path d="M182.9,78.3 183.5,77.3" stroke="#4451b0"/>
<path d="M183.5,77.3 184.0,76.3" stroke="#4556b2"/>
<path d="M184.0,76.3 184.6,75.2" stroke="#465cb4"/>
<path d="M184.6,75.2 185.2,74.2" stroke="#486cba"/>
<path d="M185.2,74.2 185.7,73.2" stroke="#4e8ccc"/>
<path d="M185.7,73.2 186.3,72.2" stroke="#5aa8dc"/>
<path d="M186.3,72.2 186.9,71.2" stroke="#6cbee4"/>
<path d="M186.9,71.2 187.4,70.2" stroke="#80d0e8"/>
<path d="M187.4,70.2 188.0,69.2" stroke="#93dce2"/>
<path d="M188.0,69.2 188.6,68.2" stroke="#9ddecb"/>
<path d="M188.6,68.2 189.2,67.2" stroke="#a8dd9f"/>
<path d="M192.3,114.5 191.8,113.5 191.2,112.5 190.7,111.5 190.2,110.5 189.7,109.5" stroke="#80d0e8"/>
<path d="M189.7,109.5 189.1,108.5" stroke="#76c7e6"/>
<path d="M189.1,108.5 188.6,107.5" stroke="#6cbee4"/>
<path d="M188.6,107.5 188.1,106.5" stroke="#5aa8dc"/>
<path d="M188.1,106.5 187.5,105.5" stroke="#549ad4"/>
<path d="M187.5,105.5 187.0,104.5" stroke="#4e8ccc"/>
<path d="M187.0,104.5 186.5,103.5" stroke="#486cba"/>
<path d="M186.5,103.5 186.0,102.5" stroke="#4767b8"/>
<path d="M186.0,102.5 185.4,101.5" stroke="#465cb4"/>
<path d="M185.4,101.5 184.9,100.5" stroke="#4556b2"/>
<path d="M184.9,100.5 184.3,99.5" stroke="#4451b0"/>
<path d="M184.3,99.5 183.8,98.5" stroke="#434dae"/>
<path d="M183.8,98.5 183.3,97.5" stroke="#4046aa"/>
<path d="M183.3,97.5 182.7,96.5" stroke="#3f42a8"/>
<path d="M182.7,96.5 182.2,95.5" stroke="#3e3ea6"/>
<path d="M182.2,95.5 181.6,94.5" stroke="#3c3ba3"/>
<path d="M181.6,94.5 181.1,93.5 180.6,92.5 180.0,91.5 179.5,90.5" stroke="#3a39a0"/>
<path d="M179.5,90.5 178.9,89.5 178.4,88.5 177.8,87.5 177.3,86.5 176.7,85.5 176.2,84.5 175.6,83.5" stroke="#38369d"/>
<path d="M175.6,83.5 175.1,82.5 174.5,81.5 174.0,80.5" stroke="#36339a"/>
<path d="M272.1,282.4 270.4,278.4 268.7,274.4 266.9,270.4 265.2,266.4 263.5,262.4 261.7,258.4 260.0,254.4 258.2,250.4 256.4,246.4 254.6,242.4 252.9,238.4 251.0,234.4 249.2,230.4 247.4,226.4 245.6,222.4 243.7,218.4 241.8,214.4 240.0,210.4 238.1,206.4 236.2,202.3 234.3,198.3 232.3,194.3 230.4,190.3 228.5,186.3 226.5,182.3 224.5,178.3 222.6,174.3 220.6,170.3 218.6,166.3 216.6,162.3 214.5,158.3 212.5,154.3 210.5,150.3 208.6,146.3 206.6,142.3 204.5,138.3 202.5,134.3 200.5,130.3 198.4,126.3" stroke="#38369d"/>
<path d="M245.7,150.5 245.2,149.5 244.6,148.5 244.1,147.5 243.6,146.4 243.1,145.4 242.6,144.4" stroke="#d7e024"/>
<path d="M242.6,144.4 242.1,143.4 241.5,142.4 241.0,141.4 240.5,140.4 240.0,139.3" stroke="#dee11a"/>
<path d="M240.0,139.3 239.5,138.3 238.9,137.3 238.4,136.3 237.9,135.3" stroke="#e4e213"/>
<path d="M237.9,135.3 237.4,134.3 236.8,133.3" stroke="#dee11a"/>
<path d="M236.8,133.3 236.3,132.2" stroke="#d7e024"/>
<path d="M236.3,132.2 235.8,131.2 235.2,130.2" stroke="#d0de2e"/>
<path d="M235.2,130.2 234.7,129.2 234.2,128.2" stroke="#c9dd38"/>
<path d="M234.2,128.2 233.7,127.2" stroke="#c2dc4a"/>
<path d="M233.7,127.2 233.1,126.2" stroke="#bbdc60"/>
<path d="M233.1,126.2 232.6,125.1" stroke="#b4dd76"/>
<path d="M232.6,125.1 232.1,124.1" stroke="#addd8d"/>
<path d="M232.1,124.1 231.5,123.1" stroke="#a4deaf"/>
<path d="M231.5,123.1 231.0,122.1" stroke="#a0debf"/>
<path d="M231.0,122.1 230.5,121.1" stroke="#99ddd3"/>
<path d="M230.5,121.1 229.9,120.1" stroke="#96dddb"/>
<path d="M229.9,120.1 229.4,119.1" stroke="#8dd9e5"/>
<path d="M229.4,119.1 228.8,118.0" stroke="#80d0e8"/>
<path d="M228.8,118.0 228.3,117.0" stroke="#63b3e0"/>
<path d="M228.3,117.0 227.8,116.0" stroke="#549ad4"/>
<path d="M227.8,116.0 227.2,115.0" stroke="#486cba"/>
<path d="M227.2,115.0 226.7,114.0" stroke="#4767b8"/>
<path d="M226.7,114.0 226.1,113.0" stroke="#4661b6"/>
<path d="M226.1,113.0 225.6,112.0" stroke="#4556b2"/>
<path d="M225.6,112.0 225.0,110.9" stroke="#4451b0"/>
<path d="M225.0,110.9 224.5,109.9 224.0,108.9 223.4,107.9" stroke="#434dae"/>
<path d="M223.4,107.9 222.9,106.9 222.3,105.9 221.8,104.9 221.2,103.8 220.7,102.8" stroke="#4451b0"/>
<path d="M220.7,102.8 220.1,101.8 219.6,100.8 219.0,99.8" stroke="#4556b2"/>
<path d="M219.0,99.8 218.5,98.8" stroke="#465cb4"/>
<path d="M218.5,98.8 217.9,97.8" stroke="#4767b8"/>
<path d="M217.9,97.8 217.4,96.7" stroke="#486cba"/>
<path d="M217.4,96.7 216.8,95.7" stroke="#4b7cc3"/>
<path d="M216.8,95.7 216.3,94.7" stroke="#549ad4"/>
<path d="M216.3,94.7 215.7,93.7" stroke="#63b3e0"/>
<path d="M215.7,93.7 215.1,92.7" stroke="#76c7e6"/>
<path d="M215.1,92.7 214.6,91.7" stroke="#86d4e7"/>
<path d="M214.6,91.7 214.0,90.7" stroke="#93dce2"/>
<path d="M214.0,90.7 213.5,89.6" stroke="#99ddd3"/>
<path d="M213.5,89.6 212.9,88.6" stroke="#a4deaf"/>
<path d="M212.9,88.6 212.3,87.6" stroke="#addd8d"/>
<path d="M212.3,87.6 211.8,86.6" stroke="#bbdc60"/>
<path d="M186.1,298.0 187.7,294.0 189.3,290.0 190.9,286.0 192.5,282.0 194.1,277.9 195.7,273.9 197.4,269.9 199.0,265.9 199.9,263.9" stroke="#36339a"/>
<path d="M199.9,263.9 201.5,259.9 203.2,255.9 204.9,251.9 206.6,247.9 208.3,243.8 210.0,239.8 211.7,235.8 213.4,231.8 215.1,227.8 216.9,223.8 218.6,219.8 220.4,215.8 222.1,211.8 223.9,207.7 225.7,203.7 227.5,199.7 228.4,197.7" stroke="#38369d"/>
<path d="M228.4,197.7 230.2,193.7 232.0,189.7 233.8,185.7 235.7,181.7 237.5,177.7 239.4,173.6 241.3,169.6 243.2,165.6 243.7,164.6" stroke="#3a39a0"/>
<path d="M243.7,164.6 244.1,163.6" stroke="#3c3ba3"/>
<path d="M244.1,163.6 244.6,162.6" stroke="#3e3ea6"/>
<path d="M244.6,162.6 245.1,161.6" stroke="#4046aa"/>
<path d="M245.1,161.6 245.6,160.6" stroke="#414aac"/>
<path d="M245.6,160.6 246.0,159.6" stroke="#4451b0"/>
</g>
<g clip-path="url(#cfc)" fill="#8ebd7d" stroke="#000" stroke-width="1.40" stroke-linejoin="round">
<path fill-rule="evenodd" d="M20 45H335V440H20Z M30.0,371.6 40.2,371.6 47.2,370.3 49.4,368.1 47.8,365.9 45.3,363.3 43.8,361.0 45.0,358.9 47.2,356.9 51.0,355.0 55.5,353.4 60.6,352.9 64.4,351.9 66.9,349.6 70.8,350.3 75.9,348.7 80.3,346.1 83.5,343.6 87.3,342.3 89.6,339.1 88.6,334.0 89.5,331.5 91.4,333.4 92.7,336.6 94.3,338.2 98.2,336.6 102.6,335.9 107.7,335.5 110.0,336.4 114.5,333.2 117.6,334.5 120.8,332.0 125.3,330.1 129.8,329.4 130.4,325.6 134.8,323.1 139.3,319.2 144.4,316.1 148.2,312.2 147.6,307.8 150.8,306.5 153.9,308.1 157.1,304.6 161.0,299.5 164.8,294.4 167.3,290.6 166.7,286.1 168.6,281.7 166.7,277.2 170.5,275.3 175.0,272.7 178.2,268.3 180.7,265.1 182.6,260.0 183.5,258.0 185.4,255.7 187.3,251.9 189.2,253.8 192.4,251.9 192.4,246.8 193.7,240.4 195.6,236.0 192.4,234.1 195.6,232.8 196.9,227.7 191.8,225.8 189.2,223.2 186.1,222.0 182.2,223.2 177.8,225.8 172.0,224.5 174.6,222.6 179.0,220.7 183.5,218.2 188.6,215.6 194.3,213.7 195.0,211.2 192.4,206.7 189.2,203.5 192.4,202.2 195.6,200.3 194.3,196.5 190.5,193.3 186.1,190.1 182.9,186.9 184.1,181.2 181.0,176.8 179.0,171.0 177.8,165.9 173.9,162.1 169.5,158.9 164.4,156.4 161.6,153.8 162.5,152.4 165.7,148.0 169.5,142.9 173.3,138.4 173.9,134.6 175.9,135.9 178.4,135.2 178.4,132.7 181.0,130.2 186.1,128.2 191.2,125.7 196.2,123.8 200.7,124.4 202.6,120.6 203.2,116.8 196.2,116.8 191.2,115.5 187.3,113.0 183.5,111.0 179.0,111.7 175.2,114.2 170.8,117.4 165.7,120.0 161.2,120.0 159.3,116.8 159.9,111.0 157.4,107.2 152.9,106.0 147.8,104.7 143.4,101.5 142.1,97.0 141.5,91.9 143.4,88.8 147.8,89.4 151.7,91.9 156.8,88.8 161.8,85.6 163.8,81.8 168.2,78.6 174.6,76.7 179.0,72.8 183.5,67.7 188.0,65.8 196.2,67.7 199.8,72.2 196.2,76.7 191.2,82.4 187.3,85.6 193.1,86.8 190.5,90.7 186.1,94.5 189.9,93.2 196.2,88.8 202.6,84.9 211.5,81.8 216.4,80.5 223.4,79.2 225.9,81.8 229.1,83.7 233.6,83.0 237.4,86.8 234.8,91.9 234.2,95.8 238.0,98.3 232.9,101.5 231.0,104.0 233.6,107.2 238.0,111.0 241.8,109.1 246.3,111.0 250.1,109.8 252.0,113.6 254.6,117.4 255.9,122.5 252.0,124.4 246.9,127.0 251.4,128.9 252.7,134.0 254.6,139.1 253.3,144.2 251.4,149.3 252.0,155.6 253.1,162.0 258.4,159.6 264.8,155.8 270.5,153.2 273.7,152.6 276.2,153.8 281.3,151.6 286.4,149.3 289.6,142.9 290.2,137.8 288.3,134.0 289.0,127.6 288.3,121.2 285.2,114.9 281.3,108.5 276.2,102.1 272.4,95.8 266.1,91.3 262.2,88.8 264.1,83.0 268.6,78.6 273.7,77.3 278.1,74.1 281.3,70.9 286.4,67.1 291.5,64.2 294.1,62.6 320.0,55.0 320.0,430.0 30.0,430.0Z"/>
<path d="M191.5,296.5 193.8,297.7 195.7,299.3 197.7,300.6 196.6,301.9 195.3,302.5 196.0,304.1 196.8,306.0 196.4,308.2 195.3,310.5 193.8,313.0 193.1,315.6 193.2,318.1 192.5,321.3 191.5,324.5 190.6,328.3 189.3,331.5 188.0,334.0 190.9,327.5 188.3,333.2 185.2,338.3 183.2,342.8 182.6,346.6 181.1,346.0 180.7,342.2 177.5,337.7 174.3,332.6 173.7,329.6 173.2,325.8 173.5,322.6 174.7,318.8 176.2,314.9 178.2,311.1 180.4,307.3 182.9,303.5 185.2,300.6 187.4,298.7 189.9,296.8Z"/>
<path d="M177.6,429.2 177.6,411.3 178.8,403.7 180.8,398.0 183.9,395.7 188.4,397.1 193.5,399.2 198.0,399.9 201.8,398.0 202.7,402.4 200.5,406.2 200.9,412.6 203.7,415.2 205.0,420.2 205.0,429.2Z"/>
<path d="M37.6,376.7 47.8,375.7 52.9,375.4 56.1,379.2 53.6,383.1 51.0,387.5 49.1,393.2 46.6,395.8 37.6,398.3Z"/>
<path d="M291.5,176.8 301.7,175.9 301.7,185.9 294.1,185.0 292.8,180.6Z"/>
<path d="M270.3,284.0 272.5,279.0 275.5,275.5 278.6,273.6 279.2,275.0 276.5,277.0 274.0,280.5 272.3,284.8Z"/>
<ellipse cx="268.0" cy="156.8" rx="2.7" ry="1.4" transform="rotate(-20 268.0 156.8)"/>
<ellipse cx="289.0" cy="162.1" rx="1.5" ry="3.2" transform="rotate(20 289.0 162.1)"/>
<ellipse cx="253.1" cy="177.0" rx="4.5" ry="1.8" transform="rotate(-15 253.1 177.0)"/>
<ellipse cx="282.0" cy="187.2" rx="1.6" ry="2.2" transform="rotate(30 282.0 187.2)"/>
<ellipse cx="291.5" cy="252.1" rx="3.2" ry="1.6" transform="rotate(-40 291.5 252.1)"/>
<ellipse cx="221.5" cy="311.2" rx="1.4" ry="1.1" transform="rotate(0 221.5 311.2)"/>
<ellipse cx="168.2" cy="295.0" rx="1.4" ry="1.3" transform="rotate(0 168.2 295.0)"/>
<ellipse cx="97.0" cy="339.3" rx="2.8" ry="1.3" transform="rotate(0 97.0 339.3)"/>
</g>
<path d="M51.3,63.4 50.4,93.1 49.5,122.8 48.4,152.6 47.5,182.3 46.6,212.0 45.8,241.7 45.1,271.4 44.4,301.1 43.9,330.9 43.4,360.6 43.0,390.3 42.6,420.0 301.6,420.0 301.2,390.3 300.8,360.6 300.3,330.9 299.8,301.1 299.1,271.4 298.4,241.7 297.6,212.0 296.7,182.3 295.8,152.6 294.7,122.8 293.8,93.1 292.9,63.4Z" fill="none" stroke="#1c1c1c" stroke-width="1.5"/>
<g clip-path="url(#cbc)">
<g fill="none" stroke-width="4.3" stroke-linecap="round" stroke-linejoin="round">
<path d="M66.8,420.8 68.3,416.8 69.7,412.7 71.2,408.7 72.7,404.6 74.2,400.6 75.6,396.5 77.1,392.5 78.6,388.5 80.1,384.4 81.6,380.4 83.1,376.3 84.7,372.3 86.2,368.2 87.7,364.2 89.3,360.2 90.8,356.1 92.4,352.1 93.9,348.0 95.1,345.0" stroke="#38369d"/>
<path d="M140.2,420.8 141.7,416.8 143.1,412.7 144.5,408.7 146.0,404.7 147.4,400.6 148.9,396.6 150.3,392.5 151.8,388.5 153.2,384.5 154.7,380.4 156.2,376.4 157.7,372.4" stroke="#36339a"/>
<path d="M157.7,372.4 158.0,371.4" stroke="#3a39a0"/>
<path d="M158.0,371.4 158.4,370.4" stroke="#4046aa"/>
<path d="M158.4,370.4 158.8,369.3" stroke="#4451b0"/>
<path d="M158.8,369.3 159.2,368.3" stroke="#465cb4"/>
<path d="M159.2,368.3 159.5,367.3" stroke="#434dae"/>
<path d="M159.5,367.3 159.9,366.3" stroke="#3f42a8"/>
<path d="M159.9,366.3 160.3,365.3" stroke="#38369d"/>
<path d="M160.3,365.3 161.8,361.3 163.3,357.2 164.8,353.2 166.3,349.2 167.8,345.1 169.4,341.1 170.9,337.1 172.4,333.0 173.2,331.0" stroke="#36339a"/>
<path d="M275.2,99.0 277.3,94.9 279.4,90.8 281.6,86.8 283.7,82.7 285.9,78.6 288.0,74.5 290.2,70.4 291.3,68.4" stroke="#38369d"/>
<path d="M190.0,384.0 191.4,380.0 192.9,376.0 194.3,372.0 195.8,368.0 197.3,364.0 198.7,360.0 200.2,356.0 201.7,352.0 203.2,348.0 204.6,344.0 206.1,340.0 207.6,336.0 209.1,332.0 210.7,328.0 212.2,324.0 213.7,320.0 215.2,316.0 216.8,312.0 218.3,308.0 219.9,304.0 221.5,300.0 223.0,296.0 224.6,292.0 226.2,288.0 227.7,284.0 229.3,280.0 230.9,276.0 232.5,272.0 234.2,268.0 235.8,264.0 237.4,260.0 239.0,256.0 240.7,252.0 242.3,248.0 244.0,244.0 245.7,240.0 247.4,236.0 249.1,232.0 250.8,228.0 252.5,224.0 254.2,220.0 255.9,216.0 257.6,212.0 259.3,208.0 261.1,204.0 262.8,200.0 264.6,196.0 266.4,192.0 268.2,188.0 269.9,184.0 271.8,180.0 273.6,176.0 275.4,172.0 277.2,168.0 279.1,164.0 281.0,160.0 282.9,156.0 283.8,154.0" stroke="#38369d"/>
<path d="M291.0,138.0 291.5,136.9 292.1,135.8 292.6,134.7 293.1,133.5 293.6,132.4 294.1,131.3 294.6,130.2" stroke="#38369d"/>
<path d="M213.7,420.8 215.1,416.8 216.5,412.8 217.9,408.8 219.3,404.7 220.7,400.7 222.1,396.7 223.5,392.7 224.9,388.7 226.3,384.7 227.8,380.6 229.2,376.6 230.6,372.6 232.1,368.6 233.5,364.6 235.0,360.6 236.4,356.5 237.9,352.5 239.4,348.5 240.9,344.5 242.3,340.5 243.8,336.5 245.3,332.4 246.8,328.4 248.3,324.4 249.8,320.4 251.4,316.4 252.9,312.4 254.4,308.3 256.0,304.3 257.5,300.3 259.1,296.3 260.6,292.3 262.2,288.3 263.7,284.2 265.3,280.2 266.9,276.2 268.5,272.2 270.1,268.2 271.7,264.2 272.9,261.1" stroke="#36339a"/>
<path d="M272.9,261.1 273.3,260.1" stroke="#3a39a0"/>
<path d="M273.3,260.1 273.7,259.1" stroke="#3e3ea6"/>
<path d="M273.7,259.1 274.1,258.1" stroke="#4046aa"/>
<path d="M274.1,258.1 274.5,257.1" stroke="#434dae"/>
<path d="M274.5,257.1 274.9,256.1" stroke="#4556b2"/>
<path d="M274.9,256.1 275.3,255.1" stroke="#4661b6"/>
<path d="M275.3,255.1 275.7,254.1" stroke="#486cba"/>
<path d="M275.7,254.1 276.1,253.1" stroke="#434dae"/>
<path d="M276.1,253.1 276.5,252.1" stroke="#38369d"/>
<path d="M276.5,252.1 278.2,248.1 279.8,244.1 281.5,240.1 283.1,236.0 284.8,232.0 286.5,228.0 288.1,224.0 289.0,222.0" stroke="#36339a"/>
<path d="M289.0,222.0 289.4,221.0" stroke="#3c3ba3"/>
<path d="M289.4,221.0 289.8,220.0" stroke="#414aac"/>
<path d="M289.8,220.0 290.2,219.0" stroke="#4556b2"/>
<path d="M290.2,219.0 290.7,218.0" stroke="#434dae"/>
<path d="M290.7,218.0 291.1,217.0" stroke="#4046aa"/>
<path d="M291.1,217.0 291.5,216.0" stroke="#3e3ea6"/>
<path d="M291.5,216.0 291.9,215.0" stroke="#4451b0"/>
<path d="M291.9,215.0 292.4,213.9" stroke="#486cba"/>
<path d="M292.4,213.9 292.8,212.9" stroke="#5aa8dc"/>
<path d="M292.8,212.9 293.2,211.9" stroke="#486cba"/>
<path d="M293.2,211.9 293.6,210.9" stroke="#4556b2"/>
<path d="M293.6,210.9 294.1,209.9" stroke="#4046aa"/>
<path d="M294.1,209.9 294.5,208.9" stroke="#4556b2"/>
<path d="M294.5,208.9 294.9,207.9" stroke="#486cba"/>
<path d="M294.9,207.9 295.3,206.9" stroke="#5aa8dc"/>
<path d="M295.3,206.9 295.8,205.9" stroke="#4767b8"/>
<path d="M295.8,205.9 296.2,204.9" stroke="#434dae"/>
<path d="M296.2,204.9 296.6,203.9" stroke="#3e3ea6"/>
<path d="M296.6,203.9 297.1,202.9 297.5,201.9" stroke="#3c3ba3"/>
<path d="M250.4,420.8 251.8,416.8 253.1,412.8 254.5,408.7 255.9,404.7 257.3,400.7 258.7,396.7 260.1,392.6 261.5,388.6 262.9,384.6 264.3,380.6 265.8,376.5 267.2,372.5 268.6,368.5 270.1,364.5 271.5,360.4 272.9,356.4 274.4,352.4 275.8,348.4 277.3,344.3 278.8,340.3 280.2,336.3 281.7,332.3 283.2,328.3 284.7,324.2 286.2,320.2 287.7,316.2 289.2,312.2 290.7,308.1 292.3,304.1 293.8,300.1 295.3,296.1 296.8,292.0 298.4,288.0 299.5,285.0" stroke="#38369d"/>
<path d="M287.1,420.8 288.5,416.7 289.9,412.6 291.3,408.6 292.6,404.5 294.0,400.4 295.4,396.3 296.9,392.2 298.3,388.1 299.7,384.1 300.8,381.0" stroke="#38369d"/>
<path d="M69.3,420.8 67.9,416.8 66.6,412.7 65.2,408.7 63.8,404.7 62.4,400.6 61.0,396.6 59.6,392.6 58.2,388.6 56.8,384.5 55.8,381.5" stroke="#38369d"/>
<path d="M106.0,420.8 104.6,416.8 103.2,412.7 101.8,408.7 100.4,404.6 99.0,400.6 97.6,396.5 96.2,392.5 94.8,388.4 93.4,384.4 91.9,380.3 90.5,376.3 89.0,372.3 87.6,368.2 86.2,364.2 84.7,360.1 83.3,356.1 81.8,352.0 81.1,350.0" stroke="#38369d"/>
<path d="M142.7,420.8 141.3,416.8 139.9,412.8 138.5,408.8 137.1,404.8 135.7,400.8 134.3,396.7 132.9,392.7 131.5,388.7 130.0,384.7 128.6,380.7 127.2,376.7 125.7,372.7 124.3,368.7 122.8,364.7 121.4,360.7 119.9,356.6 118.4,352.6 117.0,348.6 115.5,344.6 114.0,340.6 112.5,336.6" stroke="#38369d"/>
<path d="M216.2,420.8 214.7,416.8 213.3,412.7 211.8,408.7 210.4,404.6 208.9,400.6 207.5,396.5 206.0,392.5 204.5,388.4 203.1,384.4 201.6,380.3 200.1,376.3 198.6,372.2 197.9,370.2" stroke="#38369d"/>
<path d="M196.7,367.0 196.3,366.0 195.9,365.0 195.6,364.0 195.2,363.0 194.8,362.0" stroke="#36339a"/>
<path d="M194.8,362.0 194.4,361.0" stroke="#4046aa"/>
<path d="M194.4,361.0 194.1,360.0 193.7,359.0" stroke="#465cb4"/>
<path d="M193.7,359.0 193.3,358.0" stroke="#4046aa"/>
<path d="M193.3,358.0 191.8,354.0 190.3,350.0 188.8,346.0 188.4,345.0" stroke="#36339a"/>
<path d="M188.4,345.0 188.0,344.0" stroke="#3f42a8"/>
<path d="M188.0,344.0 187.7,343.0" stroke="#4556b2"/>
<path d="M187.7,343.0 187.3,342.0" stroke="#3f42a8"/>
<path d="M187.3,342.0 186.9,341.0 186.5,340.0" stroke="#36339a"/>
<path d="M176.3,313.5 174.7,309.4 173.0,305.2 171.4,301.1 169.8,297.0" stroke="#4661b6"/>
<path d="M252.9,420.8 251.4,416.8 250.0,412.8 248.6,408.8 247.1,404.8 245.7,400.8 244.2,396.8 242.7,392.8 241.3,388.8 239.8,384.8 238.3,380.8 236.8,376.8 235.3,372.8 233.8,368.8 232.3,364.8 230.8,360.8 229.3,356.8 227.8,352.8 226.3,348.8 224.7,344.8 223.2,340.8 221.7,336.8 220.1,332.8 218.6,328.8 217.0,324.8 215.4,320.8 213.8,316.8 212.3,312.8 210.7,308.8 209.1,304.8 207.5,300.8 205.8,296.8 204.2,292.8 202.6,288.8 200.9,284.8 199.3,280.8 197.6,276.8 196.0,272.8 194.3,268.8 192.6,264.8 190.9,260.8 189.2,256.8" stroke="#38369d"/>
<path d="M300.4,352.0 298.8,348.0 297.2,344.0 295.6,339.9 294.0,335.9 292.4,331.9 290.8,327.9 289.2,323.9 287.6,319.9 286.0,315.8 284.4,311.8 282.7,307.8 281.1,303.8 279.4,299.8 277.7,295.7 276.0,291.7 274.3,287.7 273.1,284.7" stroke="#38369d"/>
<path d="M298.6,260.6 296.8,256.6 295.1,252.6 293.3,248.6 292.8,247.6" stroke="#36339a"/>
<path d="M292.8,247.6 292.4,246.6" stroke="#38369d"/>
<path d="M292.4,246.6 291.9,245.6" stroke="#3c3ba3"/>
<path d="M291.9,245.6 291.5,244.6" stroke="#4046aa"/>
<path d="M291.5,244.6 291.0,243.6" stroke="#4661b6"/>
<path d="M291.0,243.6 290.6,242.6" stroke="#486cba"/>
<path d="M290.6,242.6 290.1,241.6" stroke="#4451b0"/>
<path d="M290.1,241.6 289.6,240.6" stroke="#3f42a8"/>
<path d="M289.6,240.6 289.2,239.6" stroke="#3c3ba3"/>
<path d="M289.2,239.6 288.7,238.6" stroke="#414aac"/>
<path d="M288.7,238.6 288.3,237.6 287.8,236.6" stroke="#4556b2"/>
<path d="M287.8,236.6 287.4,235.6" stroke="#3e3ea6"/>
<path d="M287.4,235.6 285.5,231.6 283.7,227.6 281.8,223.6 279.9,219.6 278.0,215.6 276.1,211.6 274.2,207.6 272.3,203.6 270.3,199.6 268.4,195.6 266.4,191.6 264.4,187.6 262.5,183.6" stroke="#36339a"/>
<path d="M262.5,183.6 262.0,182.6 261.5,181.6 261.0,180.6" stroke="#38369d"/>
<path d="M261.0,180.6 260.5,179.6 260.0,178.6" stroke="#3a39a0"/>
<path d="M260.0,178.6 259.5,177.6 259.0,176.6" stroke="#3c3ba3"/>
<path d="M257.2,173.0 256.6,171.9 256.1,170.9 255.5,169.8 255.0,168.7 254.4,167.7 253.9,166.6" stroke="#434dae"/>
<path d="M286.2,161.0 284.0,156.8 281.8,152.6 281.2,151.5" stroke="#38369d"/>
<path d="M294.9,112.0 292.6,108.0 290.4,104.0 288.2,99.9 285.9,95.9 283.7,91.9 281.4,87.8 279.1,83.8 276.7,79.8" stroke="#38369d"/>
<path d="M103.5,420.8 105.0,416.8 106.4,412.7 107.9,408.7 109.3,404.7 110.8,400.6 111.9,397.6" stroke="#36339a"/>
<path d="M111.9,397.6 113.3,393.6 114.8,389.6 116.3,385.5 117.8,381.5 119.3,377.5 120.8,373.4 122.3,369.4 123.8,365.4 125.3,361.3 126.8,357.3 128.3,353.3 129.1,351.3" stroke="#38369d"/>
<path d="M129.1,351.3 130.6,347.2 132.2,343.2 133.7,339.2 135.3,335.1 136.8,331.1 138.0,328.1" stroke="#3a39a0"/>
<path d="M138.0,328.1 138.4,327.1" stroke="#3f42a8"/>
<path d="M138.4,327.1 138.8,326.1" stroke="#414aac"/>
<path d="M138.8,326.1 139.2,325.0" stroke="#4556b2"/>
<path d="M139.2,325.0 139.6,324.0" stroke="#4767b8"/>
<path d="M139.6,324.0 140.0,323.0" stroke="#4e8ccc"/>
<path d="M140.0,323.0 140.4,322.0" stroke="#549ad4"/>
<path d="M140.4,322.0 140.8,321.0" stroke="#5aa8dc"/>
<path d="M140.8,321.0 141.1,320.0" stroke="#6cbee4"/>
<path d="M141.1,320.0 141.5,319.0" stroke="#76c7e6"/>
<path d="M177.8,416.0 176.4,412.0 174.9,408.0 173.5,404.0 172.1,400.0 170.7,396.0 169.6,393.0" stroke="#36339a"/>
<path d="M169.6,393.0 169.2,392.0" stroke="#414aac"/>
<path d="M169.2,392.0 168.9,391.0" stroke="#4767b8"/>
<path d="M168.9,391.0 168.5,390.0" stroke="#4661b6"/>
<path d="M168.5,390.0 168.2,389.0" stroke="#4046aa"/>
<path d="M168.2,389.0 166.7,385.0 165.3,381.0 163.8,377.0 162.4,373.0" stroke="#36339a"/>
<path d="M162.4,373.0 162.0,372.0" stroke="#3e3ea6"/>
<path d="M162.0,372.0 161.6,371.0" stroke="#414aac"/>
<path d="M161.6,371.0 161.3,370.0" stroke="#4556b2"/>
<path d="M161.3,370.0 160.9,369.0" stroke="#486cba"/>
<path d="M160.9,369.0 160.5,368.0" stroke="#4556b2"/>
<path d="M160.5,368.0 160.2,367.0" stroke="#414aac"/>
<path d="M160.2,367.0 159.8,366.0" stroke="#3e3ea6"/>
<path d="M159.8,366.0 158.3,362.0 156.9,358.0 156.1,356.0" stroke="#36339a"/>
<path d="M156.1,356.0 154.6,352.0 153.1,348.0 151.7,344.0 150.1,340.0 149.8,339.0" stroke="#38369d"/>
<path d="M149.8,339.0 148.3,335.0 146.7,331.0 146.0,329.0" stroke="#3a39a0"/>
<path d="M146.0,329.0 145.6,328.0" stroke="#3e3ea6"/>
<path d="M145.6,328.0 145.2,327.0" stroke="#414aac"/>
<path d="M145.2,327.0 144.8,326.0" stroke="#4451b0"/>
<path d="M144.8,326.0 144.5,325.0" stroke="#4661b6"/>
<path d="M144.5,325.0 144.1,324.0" stroke="#486cba"/>
<path d="M144.1,324.0 143.7,323.0" stroke="#4e8ccc"/>
<path d="M143.7,323.0 143.3,322.0" stroke="#549ad4"/>
<path d="M143.3,322.0 142.9,321.0" stroke="#63b3e0"/>
<path d="M142.9,321.0 142.5,320.0" stroke="#6cbee4"/>
<path d="M289.6,420.8 288.1,416.8 286.7,412.8 285.2,408.8 283.8,404.8 282.3,400.8 280.8,396.8 279.3,392.7 277.8,388.7 276.3,384.7 274.9,380.7 273.3,376.7 271.8,372.7 270.3,368.7 268.8,364.7 267.3,360.7 265.7,356.7 264.2,352.7 262.6,348.7 261.1,344.7 259.5,340.6 258.0,336.6 256.4,332.6 254.8,328.6 253.2,324.6 251.6,320.6 250.0,316.6 248.4,312.6 246.8,308.6 245.2,304.6 243.6,300.6 241.9,296.6 240.2,292.5 238.6,288.5 236.9,284.5 235.2,280.5 233.5,276.5 231.8,272.5 230.1,268.5 228.4,264.5 226.7,260.5 225.0,256.5 223.2,252.5 221.5,248.5 219.7,244.5 218.0,240.4 216.2,236.4 214.4,232.4 212.6,228.4 210.8,224.4 209.0,220.4 207.6,217.4" stroke="#38369d"/>
<path d="M205.3,212.4 204.9,211.4 204.4,210.4" stroke="#63b3e0"/>
<path d="M204.4,210.4 203.9,209.4 203.5,208.4" stroke="#6cbee4"/>
<path d="M203.5,208.4 203.0,207.3" stroke="#76c7e6"/>
<path d="M203.0,207.3 202.5,206.3" stroke="#80d0e8"/>
<path d="M202.5,206.3 202.1,205.3" stroke="#86d4e7"/>
<path d="M202.1,205.3 201.6,204.3" stroke="#8dd9e5"/>
<path d="M201.6,204.3 201.1,203.3" stroke="#93dce2"/>
<path d="M201.1,203.3 200.6,202.3" stroke="#96dddb"/>
<path d="M200.6,202.3 200.2,201.3" stroke="#99ddd3"/>
<path d="M200.2,201.3 199.7,200.3" stroke="#a0debf"/>
<path d="M199.7,200.3 199.2,199.3" stroke="#a4deaf"/>
<path d="M199.2,199.3 198.8,198.3" stroke="#addd8d"/>
<path d="M198.8,198.3 198.3,197.2" stroke="#bbdc60"/>
<path d="M198.3,197.2 197.8,196.2" stroke="#d0de2e"/>
<path d="M197.8,196.2 197.3,195.2" stroke="#dee11a"/>
<path d="M197.3,195.2 196.9,194.2" stroke="#eae111"/>
<path d="M196.9,194.2 196.4,193.2" stroke="#f5df0c"/>
<path d="M196.4,193.2 195.9,192.2" stroke="#fade0a"/>
<path d="M195.9,192.2 195.4,191.2" stroke="#f9d40b"/>
<path d="M195.4,191.2 194.9,190.2" stroke="#f7bf0e"/>
<path d="M194.9,190.2 194.5,189.2 194.0,188.2" stroke="#f6b40f"/>
<path d="M194.0,188.2 193.5,187.1 193.0,186.1 192.5,185.1 192.0,184.1" stroke="#f7bf0e"/>
<path d="M192.0,184.1 191.6,183.1 191.1,182.1 190.6,181.1" stroke="#f8c90d"/>
<path d="M190.6,181.1 190.1,180.1" stroke="#f9d40b"/>
<path d="M190.1,180.1 189.6,179.1 189.1,178.1" stroke="#fade0a"/>
<path d="M189.1,178.1 188.6,177.0 188.2,176.0" stroke="#f5df0c"/>
<path d="M188.2,176.0 187.7,175.0 187.2,174.0" stroke="#efe00f"/>
<path d="M187.2,174.0 186.7,173.0 186.2,172.0" stroke="#eae111"/>
<path d="M186.2,172.0 185.7,171.0" stroke="#e4e213"/>
<path d="M185.7,171.0 185.2,170.0" stroke="#dee11a"/>
<path d="M185.2,170.0 184.7,169.0" stroke="#d7e024"/>
<path d="M184.7,169.0 184.2,168.0" stroke="#d0de2e"/>
<path d="M184.2,168.0 183.7,166.9" stroke="#a4deaf"/>
<path d="M183.7,166.9 183.2,165.9" stroke="#6cbee4"/>
<path d="M183.2,165.9 182.7,164.9" stroke="#4556b2"/>
<path d="M182.7,164.9 182.2,163.9" stroke="#434dae"/>
<path d="M182.2,163.9 181.7,162.9" stroke="#414aac"/>
<path d="M181.7,162.9 181.2,161.9" stroke="#434dae"/>
<path d="M181.2,161.9 180.7,160.9" stroke="#465cb4"/>
<path d="M180.7,160.9 180.2,159.9" stroke="#4b7cc3"/>
<path d="M180.2,159.9 179.7,158.9" stroke="#63b3e0"/>
<path d="M179.7,158.9 179.2,157.9" stroke="#86d4e7"/>
<path d="M179.2,157.9 178.7,156.8" stroke="#99ddd3"/>
<path d="M178.7,156.8 178.2,155.8" stroke="#a8dd9f"/>
<path d="M178.2,155.8 177.7,154.8" stroke="#c2dc4a"/>
<path d="M177.7,154.8 177.2,153.8" stroke="#dee11a"/>
<path d="M177.2,153.8 176.7,152.8" stroke="#eae111"/>
<path d="M176.7,152.8 176.2,151.8 175.7,150.8" stroke="#efe00f"/>
<path d="M175.7,150.8 175.2,149.8" stroke="#f5df0c"/>
<path d="M175.2,149.8 174.8,148.8" stroke="#fade0a"/>
<path d="M174.8,148.8 174.3,147.8" stroke="#f9d40b"/>
<path d="M174.3,147.8 173.8,146.7 173.3,145.7" stroke="#f8c90d"/>
<path d="M173.3,145.7 172.8,144.7" stroke="#f7bf0e"/>
<path d="M172.8,144.7 172.3,143.7 171.8,142.7" stroke="#f6b40f"/>
<path d="M152.6,104.7 150.4,100.6 148.2,96.4" stroke="#efe00f"/>
<path d="M195.3,192.5 195.8,191.5" stroke="#f8c90d"/>
<path d="M195.8,191.5 196.3,190.5" stroke="#fade0a"/>
<path d="M196.3,190.5 196.7,189.5" stroke="#efe00f"/>
<path d="M196.7,189.5 197.2,188.5" stroke="#e4e213"/>
<path d="M197.2,188.5 197.7,187.5" stroke="#dee11a"/>
<path d="M197.7,187.5 198.1,186.5" stroke="#d0de2e"/>
<path d="M198.1,186.5 198.6,185.5" stroke="#c2dc4a"/>
<path d="M198.6,185.5 199.1,184.4" stroke="#b4dd76"/>
<path d="M199.1,184.4 199.5,183.4" stroke="#addd8d"/>
<path d="M199.5,183.4 200.0,182.4" stroke="#a8dd9f"/>
<path d="M200.0,182.4 200.5,181.4" stroke="#a0debf"/>
<path d="M200.5,181.4 201.0,180.4" stroke="#9ddecb"/>
<path d="M201.0,180.4 201.4,179.4" stroke="#99ddd3"/>
<path d="M201.4,179.4 201.9,178.4" stroke="#93dce2"/>
<path d="M201.9,178.4 202.4,177.4" stroke="#8dd9e5"/>
<path d="M202.4,177.4 202.9,176.4" stroke="#86d4e7"/>
<path d="M202.9,176.4 203.3,175.4" stroke="#76c7e6"/>
<path d="M203.3,175.4 203.8,174.4" stroke="#6cbee4"/>
<path d="M203.8,174.4 204.3,173.4" stroke="#63b3e0"/>
<path d="M204.3,173.4 204.8,172.4" stroke="#549ad4"/>
<path d="M204.8,172.4 205.2,171.4" stroke="#4b7cc3"/>
<path d="M205.2,171.4 205.7,170.4" stroke="#486cba"/>
<path d="M205.7,170.4 206.2,169.4" stroke="#4661b6"/>
<path d="M206.2,169.4 206.7,168.3" stroke="#4556b2"/>
<path d="M206.7,168.3 207.2,167.3" stroke="#4451b0"/>
<path d="M207.2,167.3 207.7,166.3" stroke="#414aac"/>
<path d="M207.7,166.3 208.1,165.3" stroke="#4046aa"/>
<path d="M208.1,165.3 208.6,164.3" stroke="#3f42a8"/>
<path d="M208.6,164.3 209.1,163.3" stroke="#3e3ea6"/>
<path d="M209.1,163.3 209.6,162.3" stroke="#3c3ba3"/>
<path d="M209.6,162.3 210.1,161.3 210.6,160.3" stroke="#3a39a0"/>
<path d="M210.6,160.3 211.1,159.3 211.6,158.3 212.0,157.3" stroke="#38369d"/>
<path d="M212.0,157.3 212.5,156.3 213.0,155.3 213.5,154.3 214.0,153.3 214.5,152.2" stroke="#36339a"/>
<path d="M214.5,152.2 216.4,148.2 218.3,144.2" stroke="#38369d"/>
<path d="M218.3,144.2 218.7,143.2 219.2,142.2 219.7,141.2 220.2,140.2 220.7,139.2" stroke="#3a39a0"/>
<path d="M220.7,139.2 221.1,138.2" stroke="#3c3ba3"/>
<path d="M221.1,138.2 221.6,137.2" stroke="#3e3ea6"/>
<path d="M221.6,137.2 222.1,136.1" stroke="#4046aa"/>
<path d="M222.1,136.1 222.6,135.1" stroke="#414aac"/>
<path d="M222.6,135.1 223.1,134.1" stroke="#434dae"/>
<path d="M223.1,134.1 223.6,133.1" stroke="#4556b2"/>
<path d="M223.6,133.1 224.1,132.1" stroke="#465cb4"/>
<path d="M224.1,132.1 224.5,131.1" stroke="#4661b6"/>
<path d="M224.5,131.1 225.0,130.1" stroke="#4767b8"/>
<path d="M225.0,130.1 225.5,129.1" stroke="#486cba"/>
<path d="M225.5,129.1 226.0,128.1" stroke="#4e8ccc"/>
<path d="M226.0,128.1 226.5,127.1" stroke="#549ad4"/>
<path d="M226.5,127.1 227.0,126.1" stroke="#5aa8dc"/>
<path d="M227.0,126.1 227.5,125.1" stroke="#63b3e0"/>
<path d="M227.5,125.1 228.0,124.1" stroke="#6cbee4"/>
<path d="M228.0,124.1 228.5,123.1" stroke="#80d0e8"/>
<path d="M228.5,123.1 229.0,122.1" stroke="#86d4e7"/>
<path d="M229.0,122.1 229.5,121.1 230.0,120.0" stroke="#8dd9e5"/>
<path d="M230.0,120.0 230.5,119.0 231.0,118.0 231.5,117.0" stroke="#93dce2"/>
<path d="M231.5,117.0 232.0,116.0 232.5,115.0" stroke="#96dddb"/>
<path d="M232.5,115.0 233.0,114.0 233.5,113.0" stroke="#99ddd3"/>
<path d="M176.1,159.0 176.6,158.0" stroke="#9ddecb"/>
<path d="M176.6,158.0 177.1,157.0 177.6,156.0" stroke="#99ddd3"/>
<path d="M177.6,156.0 178.1,154.9 178.6,153.9 179.1,152.9" stroke="#96dddb"/>
<path d="M179.1,152.9 179.6,151.9 180.1,150.9" stroke="#93dce2"/>
<path d="M180.1,150.9 180.5,149.9 181.0,148.9" stroke="#8dd9e5"/>
<path d="M181.0,148.9 181.5,147.8 182.0,146.8" stroke="#86d4e7"/>
<path d="M182.0,146.8 182.5,145.8 183.0,144.8" stroke="#80d0e8"/>
<path d="M183.0,144.8 183.5,143.8" stroke="#76c7e6"/>
<path d="M183.5,143.8 184.0,142.8" stroke="#6cbee4"/>
<path d="M184.0,142.8 184.5,141.8" stroke="#63b3e0"/>
<path d="M184.5,141.8 185.0,140.7" stroke="#5aa8dc"/>
<path d="M185.0,140.7 185.5,139.7" stroke="#549ad4"/>
<path d="M185.5,139.7 186.0,138.7" stroke="#4e8ccc"/>
<path d="M186.0,138.7 186.5,137.7" stroke="#4b7cc3"/>
<path d="M186.5,137.7 187.0,136.7" stroke="#486cba"/>
<path d="M187.0,136.7 187.5,135.7" stroke="#4767b8"/>
<path d="M187.5,135.7 188.0,134.6" stroke="#4661b6"/>
<path d="M188.0,134.6 188.5,133.6" stroke="#465cb4"/>
<path d="M188.5,133.6 189.0,132.6" stroke="#4556b2"/>
<path d="M189.0,132.6 189.5,131.6" stroke="#4451b0"/>
<path d="M189.5,131.6 190.0,130.6" stroke="#434dae"/>
<path d="M190.0,130.6 190.5,129.6" stroke="#414aac"/>
<path d="M190.5,129.6 191.0,128.6" stroke="#4046aa"/>
<path d="M191.0,128.6 191.5,127.5" stroke="#3f42a8"/>
<path d="M191.5,127.5 192.0,126.5" stroke="#3e3ea6"/>
<path d="M192.0,126.5 192.5,125.5 193.0,124.5" stroke="#3c3ba3"/>
<path d="M199.1,112.4 201.2,108.3 203.3,104.3 205.5,100.2 206.0,99.2" stroke="#4556b2"/>
<path d="M206.0,99.2 206.5,98.2" stroke="#465cb4"/>
<path d="M206.5,98.2 207.1,97.2" stroke="#4661b6"/>
<path d="M207.1,97.2 207.6,96.2" stroke="#486cba"/>
<path d="M207.6,96.2 208.2,95.2" stroke="#4b7cc3"/>
<path d="M208.2,95.2 208.7,94.1" stroke="#4e8ccc"/>
<path d="M208.7,94.1 209.2,93.1" stroke="#5aa8dc"/>
<path d="M209.2,93.1 209.8,92.1" stroke="#63b3e0"/>
<path d="M209.8,92.1 210.3,91.1" stroke="#76c7e6"/>
<path d="M210.3,91.1 210.9,90.1" stroke="#80d0e8"/>
<path d="M210.9,90.1 211.4,89.1" stroke="#8dd9e5"/>
<path d="M211.4,89.1 212.0,88.1" stroke="#96dddb"/>
<path d="M212.0,88.1 212.5,87.0" stroke="#9ddecb"/>
<path d="M212.5,87.0 213.1,86.0" stroke="#a4deaf"/>
<path d="M213.1,86.0 213.6,85.0" stroke="#d7e024"/>
<path d="M213.6,85.0 214.2,84.0" stroke="#efe00f"/>
<path d="M162.4,116.5 162.9,115.5" stroke="#80d0e8"/>
<path d="M162.9,115.5 163.4,114.5" stroke="#6cbee4"/>
<path d="M163.4,114.5 164.0,113.5" stroke="#63b3e0"/>
<path d="M164.0,113.5 164.5,112.5" stroke="#549ad4"/>
<path d="M164.5,112.5 165.0,111.5" stroke="#4e8ccc"/>
<path d="M165.0,111.5 165.5,110.5" stroke="#486cba"/>
<path d="M165.5,110.5 166.1,109.5" stroke="#4767b8"/>
<path d="M166.1,109.5 166.6,108.5" stroke="#465cb4"/>
<path d="M166.6,108.5 167.1,107.4" stroke="#4556b2"/>
<path d="M167.1,107.4 167.6,106.4" stroke="#434dae"/>
<path d="M167.6,106.4 168.2,105.4" stroke="#414aac"/>
<path d="M168.2,105.4 168.7,104.4" stroke="#3f42a8"/>
<path d="M168.7,104.4 169.2,103.4" stroke="#3e3ea6"/>
<path d="M169.2,103.4 169.8,102.4" stroke="#3c3ba3"/>
<path d="M169.8,102.4 171.9,98.4 174.1,94.4 176.3,90.3 178.5,86.3 180.1,83.3" stroke="#3a39a0"/>
<path d="M180.1,83.3 180.7,82.3" stroke="#3c3ba3"/>
<path d="M180.7,82.3 181.2,81.3" stroke="#3e3ea6"/>
<path d="M181.2,81.3 181.8,80.3" stroke="#3f42a8"/>
<path d="M181.8,80.3 182.4,79.3" stroke="#4046aa"/>
<path d="M182.4,79.3 182.9,78.3" stroke="#414aac"/>
<path d="M182.9,78.3 183.5,77.3" stroke="#4451b0"/>
<path d="M183.5,77.3 184.0,76.3" stroke="#4556b2"/>
<path d="M184.0,76.3 184.6,75.2" stroke="#465cb4"/>
<path d="M184.6,75.2 185.2,74.2" stroke="#486cba"/>
<path d="M185.2,74.2 185.7,73.2" stroke="#4e8ccc"/>
<path d="M185.7,73.2 186.3,72.2" stroke="#5aa8dc"/>
<path d="M186.3,72.2 186.9,71.2" stroke="#6cbee4"/>
<path d="M186.9,71.2 187.4,70.2" stroke="#80d0e8"/>
<path d="M187.4,70.2 188.0,69.2" stroke="#93dce2"/>
<path d="M188.0,69.2 188.6,68.2" stroke="#9ddecb"/>
<path d="M188.6,68.2 189.2,67.2" stroke="#a8dd9f"/>
<path d="M192.3,114.5 191.8,113.5 191.2,112.5 190.7,111.5 190.2,110.5 189.7,109.5" stroke="#80d0e8"/>
<path d="M189.7,109.5 189.1,108.5" stroke="#76c7e6"/>
<path d="M189.1,108.5 188.6,107.5" stroke="#6cbee4"/>
<path d="M188.6,107.5 188.1,106.5" stroke="#5aa8dc"/>
<path d="M188.1,106.5 187.5,105.5" stroke="#549ad4"/>
<path d="M187.5,105.5 187.0,104.5" stroke="#4e8ccc"/>
<path d="M187.0,104.5 186.5,103.5" stroke="#486cba"/>
<path d="M186.5,103.5 186.0,102.5" stroke="#4767b8"/>
<path d="M186.0,102.5 185.4,101.5" stroke="#465cb4"/>
<path d="M185.4,101.5 184.9,100.5" stroke="#4556b2"/>
<path d="M184.9,100.5 184.3,99.5" stroke="#4451b0"/>
<path d="M184.3,99.5 183.8,98.5" stroke="#434dae"/>
<path d="M183.8,98.5 183.3,97.5" stroke="#4046aa"/>
<path d="M183.3,97.5 182.7,96.5" stroke="#3f42a8"/>
<path d="M182.7,96.5 182.2,95.5" stroke="#3e3ea6"/>
<path d="M182.2,95.5 181.6,94.5" stroke="#3c3ba3"/>
<path d="M181.6,94.5 181.1,93.5 180.6,92.5 180.0,91.5 179.5,90.5" stroke="#3a39a0"/>
<path d="M179.5,90.5 178.9,89.5 178.4,88.5 177.8,87.5 177.3,86.5 176.7,85.5 176.2,84.5 175.6,83.5" stroke="#38369d"/>
<path d="M175.6,83.5 175.1,82.5 174.5,81.5 174.0,80.5" stroke="#36339a"/>
<path d="M272.1,282.4 270.4,278.4 268.7,274.4 266.9,270.4 265.2,266.4 263.5,262.4 261.7,258.4 260.0,254.4 258.2,250.4 256.4,246.4 254.6,242.4 252.9,238.4 251.0,234.4 249.2,230.4 247.4,226.4 245.6,222.4 243.7,218.4 241.8,214.4 240.0,210.4 238.1,206.4 236.2,202.3 234.3,198.3 232.3,194.3 230.4,190.3 228.5,186.3 226.5,182.3 224.5,178.3 222.6,174.3 220.6,170.3 218.6,166.3 216.6,162.3 214.5,158.3 212.5,154.3 210.5,150.3 208.6,146.3 206.6,142.3 204.5,138.3 202.5,134.3 200.5,130.3 198.4,126.3" stroke="#38369d"/>
<path d="M245.7,150.5 245.2,149.5 244.6,148.5 244.1,147.5 243.6,146.4 243.1,145.4 242.6,144.4" stroke="#d7e024"/>
<path d="M242.6,144.4 242.1,143.4 241.5,142.4 241.0,141.4 240.5,140.4 240.0,139.3" stroke="#dee11a"/>
<path d="M240.0,139.3 239.5,138.3 238.9,137.3 238.4,136.3 237.9,135.3" stroke="#e4e213"/>
<path d="M237.9,135.3 237.4,134.3 236.8,133.3" stroke="#dee11a"/>
<path d="M236.8,133.3 236.3,132.2" stroke="#d7e024"/>
<path d="M236.3,132.2 235.8,131.2 235.2,130.2" stroke="#d0de2e"/>
<path d="M235.2,130.2 234.7,129.2 234.2,128.2" stroke="#c9dd38"/>
<path d="M234.2,128.2 233.7,127.2" stroke="#c2dc4a"/>
<path d="M233.7,127.2 233.1,126.2" stroke="#bbdc60"/>
<path d="M233.1,126.2 232.6,125.1" stroke="#b4dd76"/>
<path d="M232.6,125.1 232.1,124.1" stroke="#addd8d"/>
<path d="M232.1,124.1 231.5,123.1" stroke="#a4deaf"/>
<path d="M231.5,123.1 231.0,122.1" stroke="#a0debf"/>
<path d="M231.0,122.1 230.5,121.1" stroke="#99ddd3"/>
<path d="M230.5,121.1 229.9,120.1" stroke="#96dddb"/>
<path d="M229.9,120.1 229.4,119.1" stroke="#8dd9e5"/>
<path d="M229.4,119.1 228.8,118.0" stroke="#80d0e8"/>
<path d="M228.8,118.0 228.3,117.0" stroke="#63b3e0"/>
<path d="M228.3,117.0 227.8,116.0" stroke="#549ad4"/>
<path d="M227.8,116.0 227.2,115.0" stroke="#486cba"/>
<path d="M227.2,115.0 226.7,114.0" stroke="#4767b8"/>
<path d="M226.7,114.0 226.1,113.0" stroke="#4661b6"/>
<path d="M226.1,113.0 225.6,112.0" stroke="#4556b2"/>
<path d="M225.6,112.0 225.0,110.9" stroke="#4451b0"/>
<path d="M225.0,110.9 224.5,109.9 224.0,108.9 223.4,107.9" stroke="#434dae"/>
<path d="M223.4,107.9 222.9,106.9 222.3,105.9 221.8,104.9 221.2,103.8 220.7,102.8" stroke="#4451b0"/>
<path d="M220.7,102.8 220.1,101.8 219.6,100.8 219.0,99.8" stroke="#4556b2"/>
<path d="M219.0,99.8 218.5,98.8" stroke="#465cb4"/>
<path d="M218.5,98.8 217.9,97.8" stroke="#4767b8"/>
<path d="M217.9,97.8 217.4,96.7" stroke="#486cba"/>
<path d="M217.4,96.7 216.8,95.7" stroke="#4b7cc3"/>
<path d="M216.8,95.7 216.3,94.7" stroke="#549ad4"/>
<path d="M216.3,94.7 215.7,93.7" stroke="#63b3e0"/>
<path d="M215.7,93.7 215.1,92.7" stroke="#76c7e6"/>
<path d="M215.1,92.7 214.6,91.7" stroke="#86d4e7"/>
<path d="M214.6,91.7 214.0,90.7" stroke="#93dce2"/>
<path d="M214.0,90.7 213.5,89.6" stroke="#99ddd3"/>
<path d="M213.5,89.6 212.9,88.6" stroke="#a4deaf"/>
<path d="M212.9,88.6 212.3,87.6" stroke="#addd8d"/>
<path d="M212.3,87.6 211.8,86.6" stroke="#bbdc60"/>
<path d="M186.1,298.0 187.7,294.0 189.3,290.0 190.9,286.0 192.5,282.0 194.1,277.9 195.7,273.9 197.4,269.9 199.0,265.9 199.9,263.9" stroke="#36339a"/>
<path d="M199.9,263.9 201.5,259.9 203.2,255.9 204.9,251.9 206.6,247.9 208.3,243.8 210.0,239.8 211.7,235.8 213.4,231.8 215.1,227.8 216.9,223.8 218.6,219.8 220.4,215.8 222.1,211.8 223.9,207.7 225.7,203.7 227.5,199.7 228.4,197.7" stroke="#38369d"/>
<path d="M228.4,197.7 230.2,193.7 232.0,189.7 233.8,185.7 235.7,181.7 237.5,177.7 239.4,173.6 241.3,169.6 243.2,165.6 243.7,164.6" stroke="#3a39a0"/>
<path d="M243.7,164.6 244.1,163.6" stroke="#3c3ba3"/>
<path d="M244.1,163.6 244.6,162.6" stroke="#3e3ea6"/>
<path d="M244.6,162.6 245.1,161.6" stroke="#4046aa"/>
<path d="M245.1,161.6 245.6,160.6" stroke="#414aac"/>
<path d="M245.6,160.6 246.0,159.6" stroke="#4451b0"/>
</g>
</g>
<g font-size="16" fill="#000" stroke="#000" stroke-width="0.35">
<text y="60.5"><tspan x="27.7">110</tspan><tspan x="55.5" dy="-12.3" font-size="8.5">o</tspan><tspan x="64.4" dy="12.3">E</tspan></text>
<text y="60.5"><tspan x="148.5">120</tspan><tspan x="176.3" dy="-12.3" font-size="8.5">o</tspan><tspan x="185.2" dy="12.3">E</tspan></text>
<text y="60.5"><tspan x="269.3">130</tspan><tspan x="297.1" dy="-12.3" font-size="8.5">o</tspan><tspan x="306.0" dy="12.3">E</tspan></text>
<text y="86.8"><tspan x="7.5">40</tspan><tspan x="25.7" dy="-11.7" font-size="8.5">o</tspan><tspan x="35.3" dy="11.7">N</tspan></text>
<text y="161.1"><tspan x="5.1">35</tspan><tspan x="23.3" dy="-11.7" font-size="8.5">o</tspan><tspan x="32.9" dy="11.7">N</tspan></text>
<text y="235.3"><tspan x="2.8">30</tspan><tspan x="21.0" dy="-11.7" font-size="8.5">o</tspan><tspan x="30.6" dy="11.7">N</tspan></text>
<text y="309.6"><tspan x="1.1">25</tspan><tspan x="19.3" dy="-11.7" font-size="8.5">o</tspan><tspan x="28.9" dy="11.7">N</tspan></text>
<text y="383.8"><tspan x="-0.1">20</tspan><tspan x="18.1" dy="-11.7" font-size="8.5">o</tspan><tspan x="27.7" dy="11.7">N</tspan></text>
</g>
</g>
<g transform="translate(361.4 442.1)">
<clipPath id="cfd"><path d="M51.3,63.4 50.4,93.1 49.5,122.8 48.4,152.6 47.5,182.3 46.6,212.0 45.8,241.7 45.1,271.4 44.4,301.1 43.9,330.9 43.4,360.6 43.0,390.3 42.6,420.0 301.6,420.0 301.2,390.3 300.8,360.6 300.3,330.9 299.8,301.1 299.1,271.4 298.4,241.7 297.6,212.0 296.7,182.3 295.8,152.6 294.7,122.8 293.8,93.1 292.9,63.4Z"/></clipPath>
<clipPath id="cbd"><path clip-rule="evenodd" d="M20 45H335V440H20Z M52.2,64.3 51.3,93.1 50.4,122.8 49.3,152.6 48.4,182.3 47.5,212.0 46.7,241.7 46.0,271.4 45.3,301.1 44.8,330.9 44.3,360.6 43.9,390.3 43.5,419.1 300.7,419.1 300.3,390.3 299.9,360.6 299.4,330.9 298.9,301.1 298.2,271.4 297.5,241.7 296.7,212.0 295.8,182.3 294.9,152.6 293.8,122.8 292.9,93.1 292.0,64.3Z"/></clipPath>
<g fill="currentColor" fill-opacity=".3" stroke="currentColor" stroke-width="1.2">
<circle cx="180.7" cy="82.3" r="1.65" color="#f39411"/>
<circle cx="181.3" cy="81.3" r="1.65" color="#f39411"/>
<circle cx="181.8" cy="80.2" r="1.65" color="#eb6116"/>
<circle cx="182.4" cy="79.2" r="1.65" color="#ea5817"/>
<circle cx="183.0" cy="78.2" r="1.65" color="#e64719"/>
<circle cx="183.5" cy="77.2" r="1.65" color="#e84e18"/>
<circle cx="163.6" cy="114.1" r="1.65" color="#f5aa10"/>
<circle cx="164.1" cy="113.1" r="1.65" color="#e4e213"/>
<circle cx="164.7" cy="112.1" r="1.65" color="#dee11a"/>
<circle cx="165.2" cy="111.1" r="1.65" color="#d0de2e"/>
<circle cx="165.7" cy="110.1" r="1.65" color="#c2dc4a"/>
<circle cx="166.2" cy="109.1" r="1.65" color="#96dddb"/>
<circle cx="166.8" cy="108.1" r="1.65" color="#96dddb"/>
<circle cx="167.3" cy="107.1" r="1.65" color="#76c7e6"/>
<circle cx="173.5" cy="79.7" r="1.65" color="#bbdc60"/>
<circle cx="174.0" cy="80.6" r="1.65" color="#d0de2e"/>
<circle cx="174.5" cy="81.4" r="1.65" color="#addd8d"/>
<circle cx="174.9" cy="82.3" r="1.65" color="#c2dc4a"/>
<circle cx="183.0" cy="96.9" r="1.65" color="#4b7cc3"/>
<circle cx="183.5" cy="97.9" r="1.65" color="#8dd9e5"/>
<circle cx="184.0" cy="98.9" r="1.65" color="#80d0e8"/>
<circle cx="184.6" cy="99.9" r="1.65" color="#9ddecb"/>
<circle cx="185.1" cy="100.9" r="1.65" color="#a0debf"/>
<circle cx="185.6" cy="101.9" r="1.65" color="#addd8d"/>
<circle cx="186.1" cy="102.9" r="1.65" color="#a0debf"/>
<circle cx="186.7" cy="103.8" r="1.65" color="#a4deaf"/>
<circle cx="187.2" cy="104.8" r="1.65" color="#c9dd38"/>
<circle cx="187.7" cy="105.8" r="1.65" color="#c2dc4a"/>
<circle cx="188.2" cy="106.8" r="1.65" color="#f5df0c"/>
<circle cx="188.8" cy="107.8" r="1.65" color="#f9d40b"/>
<circle cx="189.3" cy="108.8" r="1.65" color="#f5aa10"/>
<circle cx="189.8" cy="109.8" r="1.65" color="#eb6116"/>
<circle cx="190.3" cy="110.8" r="1.65" color="#ef7413"/>
<circle cx="190.9" cy="111.8" r="1.65" color="#f28912"/>
<circle cx="191.4" cy="112.8" r="1.65" color="#ef7413"/>
<circle cx="191.9" cy="113.8" r="1.65" color="#e84e18"/>
<circle cx="198.6" cy="113.5" r="1.65" color="#bbdc60"/>
<circle cx="199.1" cy="112.5" r="1.65" color="#c2dc4a"/>
<circle cx="199.7" cy="111.4" r="1.65" color="#addd8d"/>
<circle cx="200.2" cy="110.4" r="1.65" color="#bbdc60"/>
<circle cx="200.7" cy="109.3" r="1.65" color="#a8dd9f"/>
<circle cx="201.3" cy="108.3" r="1.65" color="#bbdc60"/>
<circle cx="201.8" cy="107.3" r="1.65" color="#d0de2e"/>
<circle cx="202.3" cy="106.2" r="1.65" color="#bbdc60"/>
<circle cx="202.9" cy="105.2" r="1.65" color="#d0de2e"/>
<circle cx="203.4" cy="104.2" r="1.65" color="#dee11a"/>
<circle cx="204.0" cy="103.1" r="1.65" color="#efe00f"/>
<circle cx="204.5" cy="102.1" r="1.65" color="#e4e213"/>
<circle cx="205.0" cy="101.1" r="1.65" color="#fade0a"/>
<circle cx="205.6" cy="100.0" r="1.65" color="#f8c90d"/>
<circle cx="206.1" cy="99.0" r="1.65" color="#f39411"/>
<circle cx="206.7" cy="98.0" r="1.65" color="#f5aa10"/>
<circle cx="207.2" cy="96.9" r="1.65" color="#ef7413"/>
<circle cx="207.8" cy="95.9" r="1.65" color="#f39411"/>
<circle cx="208.3" cy="94.9" r="1.65" color="#f28912"/>
<circle cx="208.9" cy="93.8" r="1.65" color="#f6b40f"/>
<circle cx="209.4" cy="92.8" r="1.65" color="#f28912"/>
<circle cx="210.0" cy="91.8" r="1.65" color="#f6b40f"/>
<circle cx="210.5" cy="90.8" r="1.65" color="#f07e12"/>
<circle cx="211.1" cy="89.7" r="1.65" color="#f07e12"/>
<circle cx="211.6" cy="88.7" r="1.65" color="#e64719"/>
<circle cx="212.2" cy="87.7" r="1.65" color="#ea5817"/>
<circle cx="212.7" cy="86.6" r="1.65" color="#f07e12"/>
<circle cx="213.3" cy="85.6" r="1.65" color="#f39411"/>
<circle cx="213.8" cy="84.6" r="1.65" color="#f49f11"/>
<circle cx="214.4" cy="83.6" r="1.65" color="#f7bf0e"/>
<circle cx="212.9" cy="88.7" r="1.65" color="#f5aa10"/>
<circle cx="213.5" cy="89.7" r="1.65" color="#f8c90d"/>
<circle cx="214.0" cy="90.7" r="1.65" color="#f39411"/>
<circle cx="214.6" cy="91.7" r="1.65" color="#f5aa10"/>
<circle cx="215.2" cy="92.7" r="1.65" color="#ef7413"/>
<circle cx="215.7" cy="93.8" r="1.65" color="#ef7413"/>
<circle cx="216.3" cy="94.8" r="1.65" color="#f49f11"/>
<circle cx="216.9" cy="95.8" r="1.65" color="#f5aa10"/>
<circle cx="217.4" cy="96.8" r="1.65" color="#fade0a"/>
<circle cx="218.0" cy="97.9" r="1.65" color="#f8c90d"/>
<circle cx="218.5" cy="98.9" r="1.65" color="#efe00f"/>
<circle cx="219.1" cy="99.9" r="1.65" color="#fade0a"/>
<circle cx="219.7" cy="100.9" r="1.65" color="#dee11a"/>
<circle cx="220.2" cy="102.0" r="1.65" color="#d7e024"/>
<circle cx="220.8" cy="103.0" r="1.65" color="#a4deaf"/>
<circle cx="221.3" cy="104.0" r="1.65" color="#96dddb"/>
<circle cx="221.9" cy="105.0" r="1.65" color="#99ddd3"/>
<circle cx="222.4" cy="106.1" r="1.65" color="#86d4e7"/>
<circle cx="223.0" cy="107.1" r="1.65" color="#6cbee4"/>
<circle cx="223.5" cy="108.1" r="1.65" color="#63b3e0"/>
<circle cx="224.1" cy="109.1" r="1.65" color="#4b7cc3"/>
<circle cx="224.6" cy="110.2" r="1.65" color="#549ad4"/>
<circle cx="225.2" cy="111.2" r="1.65" color="#486cba"/>
<circle cx="225.7" cy="112.2" r="1.65" color="#549ad4"/>
<circle cx="183.4" cy="144.1" r="1.65" color="#549ad4"/>
<circle cx="185.5" cy="139.6" r="1.65" color="#434dae"/>
<circle cx="186.0" cy="138.6" r="1.65" color="#465cb4"/>
<circle cx="186.6" cy="137.5" r="1.65" color="#5aa8dc"/>
<circle cx="187.1" cy="136.5" r="1.65" color="#4661b6"/>
<circle cx="187.6" cy="135.4" r="1.65" color="#4451b0"/>
<circle cx="188.1" cy="134.4" r="1.65" color="#4b7cc3"/>
<circle cx="188.6" cy="133.4" r="1.65" color="#5aa8dc"/>
<circle cx="189.1" cy="132.3" r="1.65" color="#80d0e8"/>
<circle cx="189.6" cy="131.3" r="1.65" color="#80d0e8"/>
<circle cx="190.2" cy="130.2" r="1.65" color="#76c7e6"/>
<circle cx="190.7" cy="129.2" r="1.65" color="#86d4e7"/>
<circle cx="191.2" cy="128.1" r="1.65" color="#86d4e7"/>
<circle cx="199.0" cy="127.5" r="1.65" color="#93dce2"/>
<circle cx="199.6" cy="128.5" r="1.65" color="#86d4e7"/>
<circle cx="200.1" cy="129.6" r="1.65" color="#5aa8dc"/>
<circle cx="200.6" cy="130.6" r="1.65" color="#4451b0"/>
<circle cx="201.1" cy="131.6" r="1.65" color="#4e8ccc"/>
<circle cx="201.7" cy="132.6" r="1.65" color="#486cba"/>
<circle cx="202.2" cy="133.7" r="1.65" color="#4e8ccc"/>
<circle cx="202.7" cy="134.7" r="1.65" color="#4556b2"/>
<circle cx="203.2" cy="135.7" r="1.65" color="#4046aa"/>
<circle cx="203.7" cy="136.7" r="1.65" color="#4767b8"/>
<circle cx="204.3" cy="137.8" r="1.65" color="#414aac"/>
<circle cx="204.8" cy="138.8" r="1.65" color="#486cba"/>
<circle cx="205.3" cy="139.8" r="1.65" color="#486cba"/>
<circle cx="205.8" cy="140.8" r="1.65" color="#4451b0"/>
<circle cx="206.3" cy="141.9" r="1.65" color="#549ad4"/>
<circle cx="206.8" cy="142.9" r="1.65" color="#434dae"/>
<circle cx="207.4" cy="143.9" r="1.65" color="#5aa8dc"/>
<circle cx="207.9" cy="145.0" r="1.65" color="#486cba"/>
<circle cx="208.4" cy="146.0" r="1.65" color="#5aa8dc"/>
<circle cx="217.4" cy="146.0" r="1.65" color="#4767b8"/>
<circle cx="217.9" cy="145.0" r="1.65" color="#4e8ccc"/>
<circle cx="218.4" cy="143.9" r="1.65" color="#4b7cc3"/>
<circle cx="218.9" cy="142.9" r="1.65" color="#3c3ba3"/>
<circle cx="219.4" cy="141.9" r="1.65" color="#3a39a0"/>
<circle cx="219.8" cy="140.9" r="1.65" color="#4556b2"/>
<circle cx="220.3" cy="139.9" r="1.65" color="#3e3ea6"/>
<circle cx="220.8" cy="138.8" r="1.65" color="#4767b8"/>
<circle cx="221.3" cy="137.8" r="1.65" color="#4767b8"/>
<circle cx="221.8" cy="136.8" r="1.65" color="#4e8ccc"/>
<circle cx="222.3" cy="135.8" r="1.65" color="#4661b6"/>
<circle cx="222.8" cy="134.8" r="1.65" color="#465cb4"/>
<circle cx="223.3" cy="133.7" r="1.65" color="#63b3e0"/>
<circle cx="223.8" cy="132.7" r="1.65" color="#4e8ccc"/>
<circle cx="224.3" cy="131.7" r="1.65" color="#4046aa"/>
<circle cx="224.8" cy="130.7" r="1.65" color="#414aac"/>
<circle cx="234.8" cy="129.4" r="1.65" color="#d0de2e"/>
<circle cx="235.4" cy="130.4" r="1.65" color="#d7e024"/>
<circle cx="235.9" cy="131.5" r="1.65" color="#efe00f"/>
<circle cx="236.4" cy="132.5" r="1.65" color="#f6b40f"/>
<circle cx="237.0" cy="133.5" r="1.65" color="#f6b40f"/>
<circle cx="237.5" cy="134.5" r="1.65" color="#ed6b14"/>
<circle cx="238.0" cy="135.5" r="1.65" color="#ed6b14"/>
<circle cx="238.5" cy="136.5" r="1.65" color="#ed6b14"/>
<circle cx="239.1" cy="137.6" r="1.65" color="#f07e12"/>
<circle cx="239.6" cy="138.6" r="1.65" color="#eb6116"/>
<circle cx="240.1" cy="139.6" r="1.65" color="#e33f1b"/>
<circle cx="240.6" cy="140.6" r="1.65" color="#db2a1e"/>
<circle cx="241.2" cy="141.6" r="1.65" color="#ea5817"/>
<circle cx="241.7" cy="142.7" r="1.65" color="#e64719"/>
<circle cx="242.2" cy="143.7" r="1.65" color="#cf261f"/>
<circle cx="242.7" cy="144.7" r="1.65" color="#c92420"/>
<circle cx="243.2" cy="145.7" r="1.65" color="#e0371c"/>
<circle cx="243.8" cy="146.7" r="1.65" color="#c22220"/>
<circle cx="244.3" cy="147.8" r="1.65" color="#c22220"/>
<circle cx="244.8" cy="148.8" r="1.65" color="#c22220"/>
<circle cx="245.3" cy="149.8" r="1.65" color="#cf261f"/>
<circle cx="284.3" cy="81.7" r="1.65" color="#3f42a8"/>
<circle cx="285.6" cy="79.1" r="1.65" color="#3e3ea6"/>
<circle cx="275.5" cy="98.5" r="1.65" color="#6cbee4"/>
<circle cx="289.8" cy="102.9" r="1.65" color="#4b7cc3"/>
<circle cx="292.2" cy="107.1" r="1.65" color="#4b7cc3"/>
<circle cx="282.6" cy="154.3" r="1.65" color="#99ddd3"/>
<circle cx="283.2" cy="155.3" r="1.65" color="#99ddd3"/>
<circle cx="283.7" cy="156.3" r="1.65" color="#99ddd3"/>
<circle cx="284.2" cy="157.3" r="1.65" color="#96dddb"/>
<circle cx="284.8" cy="158.3" r="1.65" color="#76c7e6"/>
<circle cx="285.3" cy="159.4" r="1.65" color="#76c7e6"/>
<circle cx="181.9" cy="163.3" r="1.65" color="#c92420"/>
<circle cx="182.4" cy="164.3" r="1.65" color="#a81f1f"/>
<circle cx="182.9" cy="165.3" r="1.65" color="#a81f1f"/>
<circle cx="183.4" cy="166.3" r="1.65" color="#c22220"/>
<circle cx="183.9" cy="167.4" r="1.65" color="#a81f1f"/>
<circle cx="184.4" cy="168.4" r="1.65" color="#db2a1e"/>
<circle cx="200.0" cy="182.4" r="1.65" color="#eb6116"/>
<circle cx="200.5" cy="181.4" r="1.65" color="#f07e12"/>
<circle cx="201.0" cy="180.3" r="1.65" color="#f5aa10"/>
<circle cx="201.5" cy="179.3" r="1.65" color="#f9d40b"/>
<circle cx="202.0" cy="178.3" r="1.65" color="#e4e213"/>
<circle cx="202.4" cy="177.3" r="1.65" color="#c9dd38"/>
<circle cx="202.9" cy="176.3" r="1.65" color="#a0debf"/>
<circle cx="203.4" cy="175.2" r="1.65" color="#99ddd3"/>
<circle cx="203.9" cy="174.2" r="1.65" color="#93dce2"/>
<circle cx="204.4" cy="173.2" r="1.65" color="#5aa8dc"/>
<circle cx="204.9" cy="172.2" r="1.65" color="#4e8ccc"/>
<circle cx="205.3" cy="171.2" r="1.65" color="#486cba"/>
<circle cx="205.8" cy="170.1" r="1.65" color="#549ad4"/>
<circle cx="206.3" cy="169.1" r="1.65" color="#486cba"/>
<circle cx="206.8" cy="168.1" r="1.65" color="#4b7cc3"/>
<circle cx="207.3" cy="167.1" r="1.65" color="#434dae"/>
<circle cx="200.3" cy="201.5" r="1.65" color="#dee11a"/>
<circle cx="200.8" cy="202.5" r="1.65" color="#e4e213"/>
<circle cx="201.2" cy="203.6" r="1.65" color="#f7bf0e"/>
<circle cx="201.7" cy="204.6" r="1.65" color="#f07e12"/>
<circle cx="202.2" cy="205.7" r="1.65" color="#f5aa10"/>
<circle cx="202.7" cy="206.7" r="1.65" color="#f28912"/>
<circle cx="203.2" cy="207.7" r="1.65" color="#f6b40f"/>
<circle cx="203.7" cy="208.8" r="1.65" color="#dee11a"/>
<circle cx="204.1" cy="209.8" r="1.65" color="#c2dc4a"/>
<circle cx="204.6" cy="210.9" r="1.65" color="#e4e213"/>
<circle cx="205.1" cy="211.9" r="1.65" color="#eb6116"/>
<circle cx="205.6" cy="213.0" r="1.65" color="#db2a1e"/>
<circle cx="207.4" cy="216.8" r="1.65" color="#f5df0c"/>
<circle cx="207.8" cy="217.8" r="1.65" color="#efe00f"/>
<circle cx="208.3" cy="218.9" r="1.65" color="#e4e213"/>
<circle cx="208.8" cy="219.9" r="1.65" color="#efe00f"/>
<circle cx="209.3" cy="221.0" r="1.65" color="#e4e213"/>
<circle cx="209.7" cy="222.0" r="1.65" color="#eae111"/>
<circle cx="210.2" cy="223.0" r="1.65" color="#d0de2e"/>
<circle cx="210.7" cy="224.1" r="1.65" color="#d7e024"/>
<circle cx="211.1" cy="225.1" r="1.65" color="#dee11a"/>
<circle cx="211.6" cy="226.2" r="1.65" color="#a0debf"/>
<circle cx="212.1" cy="227.2" r="1.65" color="#9ddecb"/>
<circle cx="212.6" cy="228.2" r="1.65" color="#4e8ccc"/>
<circle cx="213.0" cy="229.3" r="1.65" color="#486cba"/>
<circle cx="213.5" cy="230.3" r="1.65" color="#4b7cc3"/>
<circle cx="214.0" cy="231.4" r="1.65" color="#63b3e0"/>
<circle cx="214.4" cy="232.4" r="1.65" color="#5aa8dc"/>
<circle cx="214.9" cy="233.5" r="1.65" color="#4767b8"/>
<circle cx="215.4" cy="234.5" r="1.65" color="#4e8ccc"/>
<circle cx="215.8" cy="235.6" r="1.65" color="#5aa8dc"/>
<circle cx="216.3" cy="236.6" r="1.65" color="#486cba"/>
<circle cx="216.7" cy="237.6" r="1.65" color="#549ad4"/>
<circle cx="217.2" cy="238.7" r="1.65" color="#4e8ccc"/>
<circle cx="217.7" cy="239.7" r="1.65" color="#4451b0"/>
<circle cx="218.1" cy="240.8" r="1.65" color="#465cb4"/>
<circle cx="218.6" cy="241.8" r="1.65" color="#3e3ea6"/>
<circle cx="219.1" cy="242.9" r="1.65" color="#414aac"/>
<circle cx="219.5" cy="243.9" r="1.65" color="#4661b6"/>
<circle cx="220.0" cy="245.0" r="1.65" color="#4451b0"/>
<circle cx="220.4" cy="246.0" r="1.65" color="#3e3ea6"/>
<circle cx="220.9" cy="247.1" r="1.65" color="#3a39a0"/>
<circle cx="221.3" cy="248.1" r="1.65" color="#3c3ba3"/>
<circle cx="221.8" cy="249.2" r="1.65" color="#3a39a0"/>
<circle cx="222.3" cy="250.2" r="1.65" color="#3c3ba3"/>
<circle cx="222.7" cy="251.3" r="1.65" color="#3f42a8"/>
<circle cx="223.2" cy="252.3" r="1.65" color="#36339a"/>
<circle cx="223.6" cy="253.3" r="1.65" color="#4556b2"/>
<circle cx="224.1" cy="254.4" r="1.65" color="#3e3ea6"/>
<circle cx="224.5" cy="255.4" r="1.65" color="#4046aa"/>
<circle cx="225.0" cy="256.5" r="1.65" color="#4046aa"/>
<circle cx="225.4" cy="257.5" r="1.65" color="#36339a"/>
<circle cx="225.9" cy="258.6" r="1.65" color="#36339a"/>
<circle cx="226.4" cy="259.6" r="1.65" color="#36339a"/>
<circle cx="226.8" cy="260.7" r="1.65" color="#465cb4"/>
<circle cx="227.3" cy="261.7" r="1.65" color="#36339a"/>
<circle cx="227.7" cy="262.8" r="1.65" color="#3e3ea6"/>
<circle cx="228.2" cy="263.8" r="1.65" color="#4556b2"/>
<circle cx="228.6" cy="264.9" r="1.65" color="#4046aa"/>
<circle cx="229.1" cy="265.9" r="1.65" color="#36339a"/>
<circle cx="229.5" cy="267.0" r="1.65" color="#465cb4"/>
<circle cx="230.0" cy="268.0" r="1.65" color="#3e3ea6"/>
<circle cx="230.4" cy="269.1" r="1.65" color="#3a39a0"/>
<circle cx="232.3" cy="273.5" r="1.65" color="#434dae"/>
<circle cx="232.7" cy="274.5" r="1.65" color="#465cb4"/>
<circle cx="233.1" cy="275.5" r="1.65" color="#3e3ea6"/>
<circle cx="233.5" cy="276.5" r="1.65" color="#4661b6"/>
<circle cx="234.0" cy="277.5" r="1.65" color="#465cb4"/>
<circle cx="234.4" cy="278.5" r="1.65" color="#414aac"/>
<circle cx="236.9" cy="284.4" r="1.65" color="#549ad4"/>
<circle cx="237.3" cy="285.5" r="1.65" color="#4e8ccc"/>
<circle cx="237.7" cy="286.5" r="1.65" color="#4b7cc3"/>
<circle cx="238.2" cy="287.6" r="1.65" color="#63b3e0"/>
<circle cx="217.1" cy="163.3" r="1.65" color="#5aa8dc"/>
<circle cx="217.6" cy="164.3" r="1.65" color="#80d0e8"/>
<circle cx="218.1" cy="165.4" r="1.65" color="#5aa8dc"/>
<circle cx="218.6" cy="166.4" r="1.65" color="#76c7e6"/>
<circle cx="219.1" cy="167.4" r="1.65" color="#8dd9e5"/>
<circle cx="219.7" cy="168.5" r="1.65" color="#6cbee4"/>
<circle cx="220.2" cy="169.5" r="1.65" color="#86d4e7"/>
<circle cx="220.7" cy="170.5" r="1.65" color="#96dddb"/>
<circle cx="221.2" cy="171.6" r="1.65" color="#8dd9e5"/>
<circle cx="221.7" cy="172.6" r="1.65" color="#96dddb"/>
<circle cx="222.2" cy="173.6" r="1.65" color="#9ddecb"/>
<circle cx="222.7" cy="174.7" r="1.65" color="#99ddd3"/>
<circle cx="223.2" cy="175.7" r="1.65" color="#addd8d"/>
<circle cx="223.8" cy="176.7" r="1.65" color="#addd8d"/>
<circle cx="224.3" cy="177.8" r="1.65" color="#b4dd76"/>
<circle cx="224.8" cy="178.8" r="1.65" color="#a8dd9f"/>
<circle cx="225.3" cy="179.8" r="1.65" color="#a4deaf"/>
<circle cx="225.8" cy="180.9" r="1.65" color="#bbdc60"/>
<circle cx="226.3" cy="181.9" r="1.65" color="#b4dd76"/>
<circle cx="226.8" cy="182.9" r="1.65" color="#bbdc60"/>
<circle cx="227.3" cy="184.0" r="1.65" color="#c9dd38"/>
<circle cx="227.8" cy="185.0" r="1.65" color="#dee11a"/>
<circle cx="228.3" cy="186.1" r="1.65" color="#d7e024"/>
<circle cx="228.8" cy="187.1" r="1.65" color="#bbdc60"/>
<circle cx="229.3" cy="188.1" r="1.65" color="#e4e213"/>
<circle cx="229.8" cy="189.2" r="1.65" color="#d7e024"/>
<circle cx="230.3" cy="190.2" r="1.65" color="#c9dd38"/>
<circle cx="230.8" cy="191.2" r="1.65" color="#dee11a"/>
<circle cx="231.3" cy="192.3" r="1.65" color="#d0de2e"/>
<circle cx="231.8" cy="193.3" r="1.65" color="#d7e024"/>
<circle cx="232.3" cy="194.4" r="1.65" color="#d7e024"/>
<circle cx="232.8" cy="195.4" r="1.65" color="#c9dd38"/>
<circle cx="233.3" cy="196.4" r="1.65" color="#d7e024"/>
<circle cx="233.8" cy="197.5" r="1.65" color="#e4e213"/>
<circle cx="234.3" cy="198.5" r="1.65" color="#d7e024"/>
<circle cx="234.8" cy="199.6" r="1.65" color="#f5df0c"/>
<circle cx="235.3" cy="200.6" r="1.65" color="#eae111"/>
<circle cx="235.8" cy="201.6" r="1.65" color="#f5df0c"/>
<circle cx="236.3" cy="202.7" r="1.65" color="#f7bf0e"/>
<circle cx="236.8" cy="203.7" r="1.65" color="#f7bf0e"/>
<circle cx="237.3" cy="204.8" r="1.65" color="#fade0a"/>
<circle cx="237.8" cy="205.8" r="1.65" color="#f8c90d"/>
<circle cx="238.3" cy="206.9" r="1.65" color="#f6b40f"/>
<circle cx="238.8" cy="207.9" r="1.65" color="#f9d40b"/>
<circle cx="239.3" cy="208.9" r="1.65" color="#f39411"/>
<circle cx="239.8" cy="210.0" r="1.65" color="#f5aa10"/>
<circle cx="240.3" cy="211.0" r="1.65" color="#f8c90d"/>
<circle cx="240.8" cy="212.1" r="1.65" color="#f5aa10"/>
<circle cx="241.3" cy="213.1" r="1.65" color="#f7bf0e"/>
<circle cx="241.7" cy="214.2" r="1.65" color="#efe00f"/>
<circle cx="242.2" cy="215.2" r="1.65" color="#f9d40b"/>
<circle cx="242.7" cy="216.3" r="1.65" color="#f9d40b"/>
<circle cx="243.2" cy="217.3" r="1.65" color="#d0de2e"/>
<circle cx="243.7" cy="218.3" r="1.65" color="#d7e024"/>
<circle cx="244.2" cy="219.4" r="1.65" color="#addd8d"/>
<circle cx="244.7" cy="220.4" r="1.65" color="#a4deaf"/>
<circle cx="245.2" cy="221.5" r="1.65" color="#8dd9e5"/>
<circle cx="245.6" cy="222.5" r="1.65" color="#96dddb"/>
<circle cx="246.1" cy="223.6" r="1.65" color="#96dddb"/>
<circle cx="246.6" cy="224.6" r="1.65" color="#6cbee4"/>
<circle cx="247.1" cy="225.7" r="1.65" color="#4e8ccc"/>
<circle cx="247.6" cy="226.7" r="1.65" color="#6cbee4"/>
<circle cx="248.1" cy="227.8" r="1.65" color="#5aa8dc"/>
<circle cx="248.5" cy="228.8" r="1.65" color="#4767b8"/>
<circle cx="249.0" cy="229.9" r="1.65" color="#5aa8dc"/>
<circle cx="249.5" cy="230.9" r="1.65" color="#4e8ccc"/>
<circle cx="250.0" cy="232.0" r="1.65" color="#4767b8"/>
<circle cx="250.4" cy="233.0" r="1.65" color="#4767b8"/>
<circle cx="250.9" cy="234.1" r="1.65" color="#3e3ea6"/>
<circle cx="251.4" cy="235.1" r="1.65" color="#4661b6"/>
<circle cx="251.9" cy="236.2" r="1.65" color="#4046aa"/>
<circle cx="252.3" cy="237.2" r="1.65" color="#3e3ea6"/>
<circle cx="252.8" cy="238.3" r="1.65" color="#414aac"/>
<circle cx="253.3" cy="239.3" r="1.65" color="#465cb4"/>
<circle cx="253.8" cy="240.4" r="1.65" color="#4046aa"/>
<circle cx="254.2" cy="241.4" r="1.65" color="#38369d"/>
<circle cx="254.7" cy="242.5" r="1.65" color="#3e3ea6"/>
<circle cx="255.2" cy="243.6" r="1.65" color="#3f42a8"/>
<circle cx="255.6" cy="244.6" r="1.65" color="#4556b2"/>
<circle cx="256.1" cy="245.7" r="1.65" color="#486cba"/>
<circle cx="256.6" cy="246.7" r="1.65" color="#4661b6"/>
<circle cx="257.0" cy="247.8" r="1.65" color="#465cb4"/>
<circle cx="257.5" cy="248.8" r="1.65" color="#6cbee4"/>
<circle cx="258.0" cy="249.9" r="1.65" color="#76c7e6"/>
<circle cx="258.4" cy="250.9" r="1.65" color="#80d0e8"/>
<circle cx="258.9" cy="252.0" r="1.65" color="#96dddb"/>
<circle cx="259.4" cy="253.0" r="1.65" color="#86d4e7"/>
<circle cx="259.8" cy="254.1" r="1.65" color="#86d4e7"/>
<circle cx="260.3" cy="255.2" r="1.65" color="#63b3e0"/>
<circle cx="260.8" cy="256.2" r="1.65" color="#6cbee4"/>
<circle cx="261.2" cy="257.3" r="1.65" color="#5aa8dc"/>
<circle cx="261.7" cy="258.3" r="1.65" color="#63b3e0"/>
<circle cx="262.2" cy="259.4" r="1.65" color="#414aac"/>
<circle cx="262.6" cy="260.4" r="1.65" color="#4767b8"/>
<circle cx="263.1" cy="261.5" r="1.65" color="#4661b6"/>
<circle cx="204.9" cy="251.8" r="1.65" color="#4661b6"/>
<circle cx="205.3" cy="250.7" r="1.65" color="#4b7cc3"/>
<circle cx="205.8" cy="249.7" r="1.65" color="#4661b6"/>
<circle cx="206.2" cy="248.6" r="1.65" color="#486cba"/>
<circle cx="206.7" cy="247.5" r="1.65" color="#4b7cc3"/>
<circle cx="207.1" cy="246.5" r="1.65" color="#6cbee4"/>
<circle cx="207.6" cy="245.4" r="1.65" color="#86d4e7"/>
<circle cx="208.0" cy="244.4" r="1.65" color="#76c7e6"/>
<circle cx="208.5" cy="243.3" r="1.65" color="#8dd9e5"/>
<circle cx="208.9" cy="242.2" r="1.65" color="#8dd9e5"/>
<circle cx="209.4" cy="241.2" r="1.65" color="#80d0e8"/>
<circle cx="209.8" cy="240.1" r="1.65" color="#96dddb"/>
<circle cx="210.3" cy="239.1" r="1.65" color="#93dce2"/>
<circle cx="210.8" cy="238.0" r="1.65" color="#86d4e7"/>
<circle cx="211.2" cy="236.9" r="1.65" color="#80d0e8"/>
<circle cx="211.7" cy="235.9" r="1.65" color="#8dd9e5"/>
<circle cx="212.1" cy="234.8" r="1.65" color="#76c7e6"/>
<circle cx="212.6" cy="233.7" r="1.65" color="#6cbee4"/>
<circle cx="213.0" cy="232.7" r="1.65" color="#549ad4"/>
<circle cx="213.5" cy="231.6" r="1.65" color="#76c7e6"/>
<circle cx="213.9" cy="230.6" r="1.65" color="#86d4e7"/>
<circle cx="214.4" cy="229.5" r="1.65" color="#76c7e6"/>
<circle cx="214.9" cy="228.5" r="1.65" color="#80d0e8"/>
<circle cx="215.3" cy="227.4" r="1.65" color="#96dddb"/>
<circle cx="215.8" cy="226.3" r="1.65" color="#93dce2"/>
<circle cx="216.2" cy="225.3" r="1.65" color="#93dce2"/>
<circle cx="216.7" cy="224.2" r="1.65" color="#99ddd3"/>
<circle cx="217.1" cy="223.2" r="1.65" color="#a8dd9f"/>
<circle cx="217.6" cy="222.1" r="1.65" color="#a4deaf"/>
<circle cx="218.1" cy="221.0" r="1.65" color="#a8dd9f"/>
<circle cx="218.5" cy="220.0" r="1.65" color="#addd8d"/>
<circle cx="219.0" cy="218.9" r="1.65" color="#addd8d"/>
<circle cx="219.4" cy="217.9" r="1.65" color="#c9dd38"/>
<circle cx="219.9" cy="216.8" r="1.65" color="#c9dd38"/>
<circle cx="220.4" cy="215.8" r="1.65" color="#d7e024"/>
<circle cx="220.8" cy="214.7" r="1.65" color="#d0de2e"/>
<circle cx="221.3" cy="213.6" r="1.65" color="#dee11a"/>
<circle cx="221.8" cy="212.6" r="1.65" color="#e4e213"/>
<circle cx="222.2" cy="211.5" r="1.65" color="#efe00f"/>
<circle cx="222.7" cy="210.5" r="1.65" color="#d7e024"/>
<circle cx="223.2" cy="209.4" r="1.65" color="#dee11a"/>
<circle cx="223.6" cy="208.4" r="1.65" color="#d7e024"/>
<circle cx="224.1" cy="207.3" r="1.65" color="#dee11a"/>
<circle cx="224.6" cy="206.3" r="1.65" color="#f8c90d"/>
<circle cx="225.0" cy="205.2" r="1.65" color="#f5df0c"/>
<circle cx="225.5" cy="204.1" r="1.65" color="#efe00f"/>
<circle cx="226.0" cy="203.1" r="1.65" color="#f5df0c"/>
<circle cx="226.4" cy="202.0" r="1.65" color="#f7bf0e"/>
<circle cx="226.9" cy="201.0" r="1.65" color="#f49f11"/>
<circle cx="227.4" cy="199.9" r="1.65" color="#f28912"/>
<circle cx="227.9" cy="198.9" r="1.65" color="#f28912"/>
<circle cx="228.3" cy="197.8" r="1.65" color="#f39411"/>
<circle cx="228.8" cy="196.8" r="1.65" color="#ef7413"/>
<circle cx="229.3" cy="195.7" r="1.65" color="#f39411"/>
<circle cx="229.8" cy="194.7" r="1.65" color="#f28912"/>
<circle cx="230.2" cy="193.6" r="1.65" color="#f39411"/>
<circle cx="230.7" cy="192.6" r="1.65" color="#ed6b14"/>
<circle cx="231.2" cy="191.5" r="1.65" color="#f07e12"/>
<circle cx="231.7" cy="190.5" r="1.65" color="#f28912"/>
<circle cx="232.1" cy="189.4" r="1.65" color="#f5aa10"/>
<circle cx="232.6" cy="188.4" r="1.65" color="#f07e12"/>
<circle cx="233.1" cy="187.3" r="1.65" color="#f6b40f"/>
<circle cx="233.6" cy="186.3" r="1.65" color="#f39411"/>
<circle cx="234.1" cy="185.2" r="1.65" color="#f8c90d"/>
<circle cx="234.5" cy="184.2" r="1.65" color="#f5aa10"/>
<circle cx="235.0" cy="183.1" r="1.65" color="#f49f11"/>
<circle cx="235.5" cy="182.1" r="1.65" color="#f8c90d"/>
<circle cx="236.0" cy="181.0" r="1.65" color="#f8c90d"/>
<circle cx="236.5" cy="180.0" r="1.65" color="#f49f11"/>
<circle cx="236.9" cy="178.9" r="1.65" color="#f8c90d"/>
<circle cx="237.4" cy="177.9" r="1.65" color="#f5aa10"/>
<circle cx="237.9" cy="176.8" r="1.65" color="#f7bf0e"/>
<circle cx="238.4" cy="175.8" r="1.65" color="#ef7413"/>
<circle cx="238.9" cy="174.7" r="1.65" color="#ef7413"/>
<circle cx="239.4" cy="173.7" r="1.65" color="#f39411"/>
<circle cx="239.9" cy="172.7" r="1.65" color="#e84e18"/>
<circle cx="240.4" cy="171.6" r="1.65" color="#e33f1b"/>
<circle cx="240.8" cy="170.6" r="1.65" color="#ea5817"/>
<circle cx="241.3" cy="169.5" r="1.65" color="#e0371c"/>
<circle cx="241.8" cy="168.5" r="1.65" color="#cf261f"/>
<circle cx="242.3" cy="167.4" r="1.65" color="#c92420"/>
<circle cx="242.8" cy="166.4" r="1.65" color="#d5281f"/>
<circle cx="243.3" cy="165.4" r="1.65" color="#de301d"/>
<circle cx="243.8" cy="164.3" r="1.65" color="#cf261f"/>
<circle cx="244.3" cy="163.3" r="1.65" color="#b5211f"/>
<circle cx="244.8" cy="162.2" r="1.65" color="#c92420"/>
<circle cx="245.3" cy="161.2" r="1.65" color="#d5281f"/>
<circle cx="245.8" cy="160.1" r="1.65" color="#cf261f"/>
<circle cx="246.3" cy="159.1" r="1.65" color="#b5211f"/>
<circle cx="203.3" cy="255.6" r="1.65" color="#414aac"/>
<circle cx="262.6" cy="200.6" r="1.65" color="#d7e024"/>
<circle cx="262.1" cy="201.6" r="1.65" color="#bbdc60"/>
<circle cx="261.6" cy="202.7" r="1.65" color="#d7e024"/>
<circle cx="261.2" cy="203.7" r="1.65" color="#e4e213"/>
<circle cx="260.7" cy="204.8" r="1.65" color="#eae111"/>
<circle cx="260.3" cy="205.8" r="1.65" color="#d0de2e"/>
<circle cx="259.8" cy="206.9" r="1.65" color="#f5df0c"/>
<circle cx="259.4" cy="207.9" r="1.65" color="#eae111"/>
<circle cx="258.9" cy="209.0" r="1.65" color="#e4e213"/>
<circle cx="258.4" cy="210.0" r="1.65" color="#d7e024"/>
<circle cx="258.0" cy="211.1" r="1.65" color="#efe00f"/>
<circle cx="257.5" cy="212.1" r="1.65" color="#f5df0c"/>
<circle cx="257.1" cy="213.2" r="1.65" color="#dee11a"/>
<circle cx="256.6" cy="214.2" r="1.65" color="#c9dd38"/>
<circle cx="256.2" cy="215.3" r="1.65" color="#c9dd38"/>
<circle cx="255.7" cy="216.3" r="1.65" color="#c9dd38"/>
<circle cx="255.3" cy="217.4" r="1.65" color="#d7e024"/>
<circle cx="254.8" cy="218.4" r="1.65" color="#b4dd76"/>
<circle cx="254.4" cy="219.5" r="1.65" color="#a8dd9f"/>
<circle cx="253.9" cy="220.5" r="1.65" color="#a4deaf"/>
<circle cx="253.5" cy="221.6" r="1.65" color="#99ddd3"/>
<circle cx="253.0" cy="222.6" r="1.65" color="#96dddb"/>
<circle cx="252.6" cy="223.7" r="1.65" color="#a0debf"/>
<circle cx="252.1" cy="224.8" r="1.65" color="#a0debf"/>
<circle cx="251.7" cy="225.8" r="1.65" color="#8dd9e5"/>
<circle cx="251.2" cy="226.9" r="1.65" color="#8dd9e5"/>
<circle cx="250.8" cy="227.9" r="1.65" color="#96dddb"/>
<circle cx="250.4" cy="229.0" r="1.65" color="#86d4e7"/>
<circle cx="249.9" cy="230.0" r="1.65" color="#76c7e6"/>
<circle cx="249.5" cy="231.1" r="1.65" color="#8dd9e5"/>
<circle cx="249.0" cy="232.1" r="1.65" color="#86d4e7"/>
<circle cx="248.6" cy="233.2" r="1.65" color="#63b3e0"/>
<circle cx="248.1" cy="234.2" r="1.65" color="#4e8ccc"/>
<circle cx="247.7" cy="235.3" r="1.65" color="#6cbee4"/>
<circle cx="247.2" cy="236.3" r="1.65" color="#6cbee4"/>
<circle cx="246.8" cy="237.4" r="1.65" color="#5aa8dc"/>
<circle cx="246.3" cy="238.4" r="1.65" color="#5aa8dc"/>
<circle cx="245.9" cy="239.5" r="1.65" color="#434dae"/>
<circle cx="245.5" cy="240.6" r="1.65" color="#4b7cc3"/>
<circle cx="245.0" cy="241.6" r="1.65" color="#549ad4"/>
<circle cx="244.6" cy="242.7" r="1.65" color="#465cb4"/>
<circle cx="244.1" cy="243.7" r="1.65" color="#434dae"/>
<circle cx="243.7" cy="244.8" r="1.65" color="#549ad4"/>
<circle cx="243.2" cy="245.8" r="1.65" color="#486cba"/>
<circle cx="242.8" cy="246.9" r="1.65" color="#434dae"/>
<circle cx="242.4" cy="247.9" r="1.65" color="#4556b2"/>
<circle cx="241.9" cy="249.0" r="1.65" color="#3f42a8"/>
<circle cx="241.5" cy="250.1" r="1.65" color="#4046aa"/>
<circle cx="241.1" cy="251.1" r="1.65" color="#4451b0"/>
<circle cx="240.6" cy="252.2" r="1.65" color="#4556b2"/>
<circle cx="240.2" cy="253.2" r="1.65" color="#4556b2"/>
<circle cx="239.7" cy="254.3" r="1.65" color="#414aac"/>
<circle cx="239.3" cy="255.3" r="1.65" color="#434dae"/>
<circle cx="238.9" cy="256.4" r="1.65" color="#36339a"/>
<circle cx="238.4" cy="257.5" r="1.65" color="#414aac"/>
<circle cx="238.0" cy="258.5" r="1.65" color="#465cb4"/>
<circle cx="237.6" cy="259.6" r="1.65" color="#4556b2"/>
<circle cx="237.1" cy="260.6" r="1.65" color="#4451b0"/>
<circle cx="236.7" cy="261.7" r="1.65" color="#465cb4"/>
<circle cx="236.3" cy="262.8" r="1.65" color="#4046aa"/>
<circle cx="235.8" cy="263.8" r="1.65" color="#3f42a8"/>
<circle cx="235.4" cy="264.9" r="1.65" color="#4556b2"/>
<circle cx="235.0" cy="265.9" r="1.65" color="#465cb4"/>
<circle cx="234.6" cy="267.0" r="1.65" color="#3f42a8"/>
<circle cx="234.1" cy="268.1" r="1.65" color="#465cb4"/>
<circle cx="233.7" cy="269.1" r="1.65" color="#4e8ccc"/>
<circle cx="233.3" cy="270.2" r="1.65" color="#4b7cc3"/>
<circle cx="232.8" cy="271.2" r="1.65" color="#549ad4"/>
<circle cx="232.4" cy="272.3" r="1.65" color="#76c7e6"/>
<circle cx="227.3" cy="285.0" r="1.65" color="#3c3ba3"/>
<circle cx="227.8" cy="283.9" r="1.65" color="#414aac"/>
<circle cx="228.2" cy="282.7" r="1.65" color="#4556b2"/>
<circle cx="228.7" cy="281.6" r="1.65" color="#434dae"/>
<circle cx="224.2" cy="293.1" r="1.65" color="#3e3ea6"/>
<circle cx="254.2" cy="167.1" r="1.65" color="#ea5817"/>
<circle cx="254.7" cy="168.1" r="1.65" color="#ef7413"/>
<circle cx="255.2" cy="169.2" r="1.65" color="#ef7413"/>
<circle cx="255.7" cy="170.2" r="1.65" color="#e64719"/>
<circle cx="256.3" cy="171.3" r="1.65" color="#e0371c"/>
<circle cx="256.8" cy="172.3" r="1.65" color="#e33f1b"/>
<circle cx="257.3" cy="173.4" r="1.65" color="#f28912"/>
<circle cx="257.9" cy="174.4" r="1.65" color="#f5aa10"/>
<circle cx="258.4" cy="175.5" r="1.65" color="#f28912"/>
<circle cx="258.9" cy="176.5" r="1.65" color="#f49f11"/>
<circle cx="259.4" cy="177.6" r="1.65" color="#f6b40f"/>
<circle cx="260.0" cy="178.6" r="1.65" color="#f8c90d"/>
<circle cx="260.5" cy="179.7" r="1.65" color="#f8c90d"/>
<circle cx="261.0" cy="180.7" r="1.65" color="#f9d40b"/>
<circle cx="261.5" cy="181.7" r="1.65" color="#dee11a"/>
<circle cx="271.1" cy="181.5" r="1.65" color="#e84e18"/>
<circle cx="271.5" cy="180.5" r="1.65" color="#ed6b14"/>
<circle cx="272.0" cy="179.4" r="1.65" color="#ef7413"/>
<circle cx="272.5" cy="178.4" r="1.65" color="#e64719"/>
<circle cx="273.0" cy="177.4" r="1.65" color="#e84e18"/>
<circle cx="273.4" cy="176.3" r="1.65" color="#ef7413"/>
<circle cx="273.9" cy="175.3" r="1.65" color="#f39411"/>
<circle cx="274.4" cy="174.3" r="1.65" color="#f49f11"/>
<circle cx="274.8" cy="173.2" r="1.65" color="#ed6b14"/>
<circle cx="275.3" cy="172.2" r="1.65" color="#ed6b14"/>
<circle cx="275.8" cy="171.2" r="1.65" color="#f28912"/>
<circle cx="276.3" cy="170.2" r="1.65" color="#f07e12"/>
<circle cx="276.7" cy="169.1" r="1.65" color="#f39411"/>
<circle cx="277.2" cy="168.1" r="1.65" color="#f28912"/>
<circle cx="277.7" cy="167.1" r="1.65" color="#f07e12"/>
<circle cx="278.2" cy="166.0" r="1.65" color="#f5aa10"/>
<circle cx="278.6" cy="165.0" r="1.65" color="#f8c90d"/>
<circle cx="279.1" cy="164.0" r="1.65" color="#f9d40b"/>
<circle cx="279.6" cy="163.0" r="1.65" color="#f5aa10"/>
<circle cx="280.1" cy="161.9" r="1.65" color="#f5df0c"/>
<circle cx="280.5" cy="160.9" r="1.65" color="#f5df0c"/>
<circle cx="281.0" cy="159.9" r="1.65" color="#f7bf0e"/>
<circle cx="281.5" cy="158.9" r="1.65" color="#f8c90d"/>
<circle cx="282.0" cy="157.8" r="1.65" color="#d0de2e"/>
<circle cx="282.5" cy="156.8" r="1.65" color="#bbdc60"/>
<circle cx="283.0" cy="155.8" r="1.65" color="#c9dd38"/>
<circle cx="283.4" cy="154.8" r="1.65" color="#a8dd9f"/>
<circle cx="283.9" cy="153.7" r="1.65" color="#93dce2"/>
<circle cx="270.6" cy="200.2" r="1.65" color="#a4deaf"/>
<circle cx="271.1" cy="201.3" r="1.65" color="#9ddecb"/>
<circle cx="271.6" cy="202.3" r="1.65" color="#76c7e6"/>
<circle cx="272.1" cy="203.3" r="1.65" color="#76c7e6"/>
<circle cx="272.6" cy="204.4" r="1.65" color="#549ad4"/>
<circle cx="273.1" cy="205.4" r="1.65" color="#4b7cc3"/>
<circle cx="273.6" cy="206.4" r="1.65" color="#4661b6"/>
<circle cx="274.1" cy="207.5" r="1.65" color="#76c7e6"/>
<circle cx="274.6" cy="208.5" r="1.65" color="#76c7e6"/>
<circle cx="275.1" cy="209.6" r="1.65" color="#93dce2"/>
<circle cx="275.6" cy="210.6" r="1.65" color="#addd8d"/>
<circle cx="276.1" cy="211.6" r="1.65" color="#a0debf"/>
<circle cx="276.6" cy="212.7" r="1.65" color="#99ddd3"/>
<circle cx="277.1" cy="213.7" r="1.65" color="#99ddd3"/>
<circle cx="277.6" cy="214.8" r="1.65" color="#99ddd3"/>
<circle cx="278.1" cy="215.8" r="1.65" color="#99ddd3"/>
<circle cx="278.6" cy="216.8" r="1.65" color="#76c7e6"/>
<circle cx="279.1" cy="217.9" r="1.65" color="#76c7e6"/>
<circle cx="279.6" cy="218.9" r="1.65" color="#76c7e6"/>
<circle cx="280.1" cy="220.0" r="1.65" color="#99ddd3"/>
<circle cx="289.6" cy="220.6" r="1.65" color="#fade0a"/>
<circle cx="290.0" cy="219.5" r="1.65" color="#c9dd38"/>
<circle cx="290.5" cy="218.5" r="1.65" color="#a4deaf"/>
<circle cx="290.9" cy="217.4" r="1.65" color="#6cbee4"/>
<circle cx="291.3" cy="216.3" r="1.65" color="#63b3e0"/>
<circle cx="291.8" cy="215.3" r="1.65" color="#4e8ccc"/>
<circle cx="292.2" cy="214.2" r="1.65" color="#549ad4"/>
<circle cx="292.7" cy="213.1" r="1.65" color="#434dae"/>
<circle cx="293.1" cy="212.1" r="1.65" color="#5aa8dc"/>
<circle cx="279.2" cy="245.4" r="1.65" color="#4046aa"/>
<circle cx="280.3" cy="242.9" r="1.65" color="#414aac"/>
<circle cx="292.4" cy="246.7" r="1.65" color="#4556b2"/>
<circle cx="295.3" cy="253.1" r="1.65" color="#5aa8dc"/>
<circle cx="189.8" cy="258.3" r="1.65" color="#9ddecb"/>
<circle cx="190.3" cy="259.2" r="1.65" color="#a8dd9f"/>
<circle cx="190.7" cy="260.2" r="1.65" color="#a8dd9f"/>
<circle cx="191.1" cy="261.1" r="1.65" color="#a0debf"/>
<circle cx="191.5" cy="262.1" r="1.65" color="#a0debf"/>
<circle cx="170.6" cy="299.0" r="1.65" color="#701a1a"/>
<circle cx="171.0" cy="300.1" r="1.65" color="#911d1d"/>
<circle cx="171.4" cy="301.2" r="1.65" color="#911d1d"/>
<circle cx="171.9" cy="302.3" r="1.65" color="#7b1b1b"/>
<circle cx="172.3" cy="303.4" r="1.65" color="#7b1b1b"/>
<circle cx="172.7" cy="304.5" r="1.65" color="#911d1d"/>
<circle cx="173.2" cy="305.6" r="1.65" color="#911d1d"/>
<circle cx="173.6" cy="306.7" r="1.65" color="#701a1a"/>
<circle cx="174.0" cy="307.8" r="1.65" color="#701a1a"/>
<circle cx="174.5" cy="308.9" r="1.65" color="#701a1a"/>
<circle cx="174.9" cy="310.0" r="1.65" color="#861c1c"/>
<circle cx="175.3" cy="311.0" r="1.65" color="#7b1b1b"/>
<circle cx="175.8" cy="312.1" r="1.65" color="#701a1a"/>
<circle cx="176.2" cy="313.2" r="1.65" color="#911d1d"/>
<circle cx="176.6" cy="314.3" r="1.65" color="#861c1c"/>
<circle cx="185.9" cy="298.4" r="1.65" color="#ea5817"/>
<circle cx="186.3" cy="297.4" r="1.65" color="#e84e18"/>
<circle cx="186.7" cy="296.3" r="1.65" color="#eb6116"/>
<circle cx="187.2" cy="295.3" r="1.65" color="#eb6116"/>
<circle cx="187.6" cy="294.2" r="1.65" color="#f7bf0e"/>
<circle cx="188.0" cy="293.2" r="1.65" color="#f8c90d"/>
<circle cx="188.4" cy="292.1" r="1.65" color="#f9d40b"/>
<circle cx="188.8" cy="291.1" r="1.65" color="#f5df0c"/>
<circle cx="189.2" cy="290.0" r="1.65" color="#dee11a"/>
<circle cx="189.7" cy="289.0" r="1.65" color="#e4e213"/>
<circle cx="190.1" cy="287.9" r="1.65" color="#a8dd9f"/>
<circle cx="190.5" cy="286.9" r="1.65" color="#addd8d"/>
<circle cx="190.9" cy="285.8" r="1.65" color="#addd8d"/>
<circle cx="191.3" cy="284.8" r="1.65" color="#96dddb"/>
<circle cx="191.8" cy="283.8" r="1.65" color="#8dd9e5"/>
<circle cx="201.3" cy="285.7" r="1.65" color="#549ad4"/>
<circle cx="201.7" cy="286.8" r="1.65" color="#434dae"/>
<circle cx="202.2" cy="287.9" r="1.65" color="#4e8ccc"/>
<circle cx="202.6" cy="289.0" r="1.65" color="#76c7e6"/>
<circle cx="203.1" cy="290.1" r="1.65" color="#76c7e6"/>
<circle cx="203.5" cy="291.2" r="1.65" color="#80d0e8"/>
<circle cx="204.0" cy="292.3" r="1.65" color="#486cba"/>
<circle cx="204.4" cy="293.4" r="1.65" color="#4556b2"/>
<circle cx="204.9" cy="294.5" r="1.65" color="#4e8ccc"/>
<circle cx="205.3" cy="295.6" r="1.65" color="#86d4e7"/>
<circle cx="205.8" cy="296.7" r="1.65" color="#93dce2"/>
<circle cx="206.2" cy="297.8" r="1.65" color="#bbdc60"/>
<circle cx="211.3" cy="310.5" r="1.65" color="#5aa8dc"/>
<circle cx="259.2" cy="295.9" r="1.65" color="#4b7cc3"/>
<circle cx="260.0" cy="293.7" r="1.65" color="#5aa8dc"/>
<circle cx="260.9" cy="291.6" r="1.65" color="#549ad4"/>
<circle cx="261.7" cy="289.5" r="1.65" color="#4b7cc3"/>
<circle cx="81.4" cy="350.8" r="1.65" color="#f5df0c"/>
<circle cx="81.8" cy="351.9" r="1.65" color="#d0de2e"/>
<circle cx="82.1" cy="353.0" r="1.65" color="#dee11a"/>
<circle cx="82.5" cy="354.1" r="1.65" color="#c9dd38"/>
<circle cx="82.9" cy="355.2" r="1.65" color="#c9dd38"/>
<circle cx="83.3" cy="356.3" r="1.65" color="#a8dd9f"/>
<circle cx="83.7" cy="357.4" r="1.65" color="#addd8d"/>
<circle cx="84.1" cy="358.4" r="1.65" color="#96dddb"/>
<circle cx="84.5" cy="359.5" r="1.65" color="#8dd9e5"/>
<circle cx="84.9" cy="360.6" r="1.65" color="#80d0e8"/>
<circle cx="85.3" cy="361.7" r="1.65" color="#76c7e6"/>
<circle cx="85.7" cy="362.8" r="1.65" color="#4b7cc3"/>
<circle cx="86.1" cy="363.9" r="1.65" color="#4451b0"/>
<circle cx="86.4" cy="365.0" r="1.65" color="#4e8ccc"/>
<circle cx="86.8" cy="366.1" r="1.65" color="#4b7cc3"/>
<circle cx="87.2" cy="367.1" r="1.65" color="#5aa8dc"/>
<circle cx="87.6" cy="368.2" r="1.65" color="#4767b8"/>
<circle cx="88.0" cy="369.3" r="1.65" color="#486cba"/>
<circle cx="88.4" cy="370.4" r="1.65" color="#4046aa"/>
<circle cx="88.8" cy="371.5" r="1.65" color="#4451b0"/>
<circle cx="89.2" cy="372.6" r="1.65" color="#4556b2"/>
<circle cx="89.6" cy="373.7" r="1.65" color="#4451b0"/>
<circle cx="89.9" cy="374.8" r="1.65" color="#4556b2"/>
<circle cx="90.3" cy="375.8" r="1.65" color="#486cba"/>
<circle cx="90.7" cy="376.9" r="1.65" color="#4e8ccc"/>
<circle cx="91.1" cy="378.0" r="1.65" color="#4661b6"/>
<circle cx="91.5" cy="379.1" r="1.65" color="#4b7cc3"/>
<circle cx="91.9" cy="380.2" r="1.65" color="#4767b8"/>
<circle cx="92.3" cy="381.3" r="1.65" color="#4b7cc3"/>
<circle cx="92.6" cy="382.4" r="1.65" color="#4b7cc3"/>
<circle cx="93.0" cy="383.5" r="1.65" color="#4451b0"/>
<circle cx="93.4" cy="384.6" r="1.65" color="#63b3e0"/>
<circle cx="93.8" cy="385.6" r="1.65" color="#4e8ccc"/>
<circle cx="94.2" cy="386.7" r="1.65" color="#63b3e0"/>
<circle cx="94.6" cy="387.8" r="1.65" color="#86d4e7"/>
<circle cx="94.9" cy="388.9" r="1.65" color="#96dddb"/>
<circle cx="95.3" cy="390.0" r="1.65" color="#a4deaf"/>
<circle cx="95.7" cy="391.1" r="1.65" color="#96dddb"/>
<circle cx="96.1" cy="392.2" r="1.65" color="#9ddecb"/>
<circle cx="96.5" cy="393.3" r="1.65" color="#bbdc60"/>
<circle cx="96.9" cy="394.4" r="1.65" color="#bbdc60"/>
<circle cx="97.2" cy="395.4" r="1.65" color="#c2dc4a"/>
<circle cx="97.6" cy="396.5" r="1.65" color="#a4deaf"/>
<circle cx="98.0" cy="397.6" r="1.65" color="#bbdc60"/>
<circle cx="98.4" cy="398.7" r="1.65" color="#9ddecb"/>
<circle cx="98.8" cy="399.8" r="1.65" color="#99ddd3"/>
<circle cx="99.1" cy="400.9" r="1.65" color="#99ddd3"/>
<circle cx="99.5" cy="402.0" r="1.65" color="#96dddb"/>
<circle cx="99.9" cy="403.1" r="1.65" color="#93dce2"/>
<circle cx="100.3" cy="404.2" r="1.65" color="#9ddecb"/>
<circle cx="100.7" cy="405.3" r="1.65" color="#a4deaf"/>
<circle cx="101.0" cy="406.4" r="1.65" color="#96dddb"/>
<circle cx="101.4" cy="407.4" r="1.65" color="#8dd9e5"/>
<circle cx="101.8" cy="408.5" r="1.65" color="#93dce2"/>
<circle cx="102.2" cy="409.6" r="1.65" color="#93dce2"/>
<circle cx="102.5" cy="410.7" r="1.65" color="#a0debf"/>
<circle cx="102.9" cy="411.8" r="1.65" color="#a0debf"/>
<circle cx="103.3" cy="412.9" r="1.65" color="#a4deaf"/>
<circle cx="103.7" cy="414.0" r="1.65" color="#c9dd38"/>
<circle cx="104.1" cy="415.1" r="1.65" color="#b4dd76"/>
<circle cx="104.4" cy="416.2" r="1.65" color="#d7e024"/>
<circle cx="104.8" cy="417.3" r="1.65" color="#dee11a"/>
<circle cx="105.2" cy="418.4" r="1.65" color="#fade0a"/>
<circle cx="104.8" cy="417.3" r="1.65" color="#b4dd76"/>
<circle cx="105.1" cy="416.3" r="1.65" color="#c2dc4a"/>
<circle cx="105.5" cy="415.2" r="1.65" color="#a0debf"/>
<circle cx="105.9" cy="414.1" r="1.65" color="#a8dd9f"/>
<circle cx="106.3" cy="413.1" r="1.65" color="#96dddb"/>
<circle cx="106.7" cy="412.0" r="1.65" color="#a0debf"/>
<circle cx="107.1" cy="410.9" r="1.65" color="#96dddb"/>
<circle cx="107.4" cy="409.9" r="1.65" color="#86d4e7"/>
<circle cx="107.8" cy="408.8" r="1.65" color="#96dddb"/>
<circle cx="92.3" cy="352.1" r="1.65" color="#4767b8"/>
<circle cx="92.8" cy="351.0" r="1.65" color="#5aa8dc"/>
<circle cx="93.2" cy="349.8" r="1.65" color="#5aa8dc"/>
<circle cx="93.7" cy="348.7" r="1.65" color="#4e8ccc"/>
<circle cx="94.1" cy="347.5" r="1.65" color="#4e8ccc"/>
<circle cx="94.5" cy="346.4" r="1.65" color="#5aa8dc"/>
<circle cx="113.8" cy="340.0" r="1.65" color="#4e8ccc"/>
<circle cx="114.2" cy="341.1" r="1.65" color="#486cba"/>
<circle cx="114.6" cy="342.2" r="1.65" color="#4b7cc3"/>
<circle cx="115.0" cy="343.2" r="1.65" color="#80d0e8"/>
<circle cx="115.4" cy="344.3" r="1.65" color="#6cbee4"/>
<circle cx="115.8" cy="345.4" r="1.65" color="#6cbee4"/>
<circle cx="116.2" cy="346.5" r="1.65" color="#4e8ccc"/>
<circle cx="116.6" cy="347.6" r="1.65" color="#486cba"/>
<circle cx="117.0" cy="348.6" r="1.65" color="#4e8ccc"/>
<circle cx="117.4" cy="349.7" r="1.65" color="#4556b2"/>
<circle cx="117.8" cy="350.8" r="1.65" color="#414aac"/>
<circle cx="118.2" cy="351.9" r="1.65" color="#4556b2"/>
<circle cx="118.6" cy="352.9" r="1.65" color="#414aac"/>
<circle cx="119.0" cy="354.0" r="1.65" color="#5aa8dc"/>
<circle cx="76.8" cy="393.5" r="1.65" color="#63b3e0"/>
<circle cx="77.1" cy="392.5" r="1.65" color="#4e8ccc"/>
<circle cx="77.5" cy="391.4" r="1.65" color="#414aac"/>
<circle cx="77.9" cy="390.3" r="1.65" color="#4661b6"/>
<circle cx="78.3" cy="389.3" r="1.65" color="#4e8ccc"/>
<circle cx="78.7" cy="388.2" r="1.65" color="#465cb4"/>
<circle cx="79.1" cy="387.1" r="1.65" color="#414aac"/>
<circle cx="79.5" cy="386.1" r="1.65" color="#4046aa"/>
<circle cx="79.9" cy="385.0" r="1.65" color="#3c3ba3"/>
<circle cx="80.3" cy="384.0" r="1.65" color="#38369d"/>
<circle cx="80.7" cy="382.9" r="1.65" color="#414aac"/>
<circle cx="81.1" cy="381.8" r="1.65" color="#434dae"/>
<circle cx="81.5" cy="380.8" r="1.65" color="#3a39a0"/>
<circle cx="59.1" cy="391.0" r="1.65" color="#414aac"/>
<circle cx="59.5" cy="392.1" r="1.65" color="#3f42a8"/>
<circle cx="59.8" cy="393.2" r="1.65" color="#38369d"/>
<circle cx="60.2" cy="394.3" r="1.65" color="#4046aa"/>
<circle cx="60.6" cy="395.4" r="1.65" color="#4556b2"/>
<circle cx="61.0" cy="396.5" r="1.65" color="#414aac"/>
<circle cx="61.4" cy="397.6" r="1.65" color="#3f42a8"/>
<circle cx="61.7" cy="398.7" r="1.65" color="#38369d"/>
<circle cx="62.1" cy="399.8" r="1.65" color="#3f42a8"/>
<circle cx="62.5" cy="400.9" r="1.65" color="#4556b2"/>
<circle cx="62.9" cy="402.0" r="1.65" color="#4661b6"/>
<circle cx="63.3" cy="403.1" r="1.65" color="#434dae"/>
<circle cx="64.8" cy="407.5" r="1.65" color="#4556b2"/>
<circle cx="65.2" cy="408.7" r="1.65" color="#549ad4"/>
<circle cx="65.6" cy="409.9" r="1.65" color="#414aac"/>
<circle cx="66.0" cy="411.0" r="1.65" color="#465cb4"/>
<circle cx="66.4" cy="412.2" r="1.65" color="#4b7cc3"/>
<circle cx="66.8" cy="413.4" r="1.65" color="#4767b8"/>
<circle cx="67.2" cy="414.5" r="1.65" color="#4046aa"/>
<circle cx="71.5" cy="407.9" r="1.65" color="#3e3ea6"/>
<circle cx="115.2" cy="388.4" r="1.65" color="#434dae"/>
<circle cx="115.6" cy="387.3" r="1.65" color="#4767b8"/>
<circle cx="116.1" cy="386.2" r="1.65" color="#4451b0"/>
<circle cx="116.5" cy="385.0" r="1.65" color="#549ad4"/>
<circle cx="116.9" cy="383.9" r="1.65" color="#434dae"/>
<circle cx="117.3" cy="382.8" r="1.65" color="#4767b8"/>
<circle cx="117.7" cy="381.6" r="1.65" color="#6cbee4"/>
<circle cx="118.1" cy="380.5" r="1.65" color="#5aa8dc"/>
<circle cx="118.6" cy="379.4" r="1.65" color="#486cba"/>
<circle cx="119.0" cy="378.2" r="1.65" color="#486cba"/>
<circle cx="128.4" cy="380.1" r="1.65" color="#4767b8"/>
<circle cx="131.7" cy="344.5" r="1.65" color="#4767b8"/>
<circle cx="132.1" cy="343.4" r="1.65" color="#414aac"/>
<circle cx="132.5" cy="342.3" r="1.65" color="#6cbee4"/>
<circle cx="132.9" cy="341.3" r="1.65" color="#4b7cc3"/>
<circle cx="133.3" cy="340.2" r="1.65" color="#86d4e7"/>
<circle cx="133.7" cy="339.2" r="1.65" color="#96dddb"/>
<circle cx="134.1" cy="338.1" r="1.65" color="#a4deaf"/>
<circle cx="134.5" cy="337.0" r="1.65" color="#c2dc4a"/>
<circle cx="134.9" cy="336.0" r="1.65" color="#f5df0c"/>
<circle cx="135.3" cy="334.9" r="1.65" color="#f6b40f"/>
<circle cx="135.8" cy="333.8" r="1.65" color="#f9d40b"/>
<circle cx="136.2" cy="332.8" r="1.65" color="#f49f11"/>
<circle cx="136.6" cy="331.7" r="1.65" color="#f49f11"/>
<circle cx="137.0" cy="330.7" r="1.65" color="#f49f11"/>
<circle cx="137.4" cy="329.6" r="1.65" color="#f07e12"/>
<circle cx="137.8" cy="328.5" r="1.65" color="#ea5817"/>
<circle cx="138.2" cy="327.5" r="1.65" color="#e33f1b"/>
<circle cx="138.6" cy="326.4" r="1.65" color="#cf261f"/>
<circle cx="139.1" cy="325.4" r="1.65" color="#9c1e1e"/>
<circle cx="139.5" cy="324.3" r="1.65" color="#7b1b1b"/>
<circle cx="139.9" cy="323.2" r="1.65" color="#911d1d"/>
<circle cx="140.3" cy="322.2" r="1.65" color="#701a1a"/>
<circle cx="144.1" cy="324.1" r="1.65" color="#701a1a"/>
<circle cx="144.5" cy="325.1" r="1.65" color="#911d1d"/>
<circle cx="144.9" cy="326.2" r="1.65" color="#7b1b1b"/>
<circle cx="145.3" cy="327.2" r="1.65" color="#701a1a"/>
<circle cx="145.7" cy="328.3" r="1.65" color="#c22220"/>
<circle cx="146.1" cy="329.3" r="1.65" color="#de301d"/>
<circle cx="146.5" cy="330.4" r="1.65" color="#f28912"/>
<circle cx="146.9" cy="331.4" r="1.65" color="#f7bf0e"/>
<circle cx="147.3" cy="332.5" r="1.65" color="#e4e213"/>
<circle cx="147.7" cy="333.5" r="1.65" color="#c9dd38"/>
<circle cx="148.1" cy="334.6" r="1.65" color="#93dce2"/>
<circle cx="148.5" cy="335.6" r="1.65" color="#8dd9e5"/>
<circle cx="148.9" cy="336.6" r="1.65" color="#549ad4"/>
<circle cx="149.3" cy="337.7" r="1.65" color="#486cba"/>
<circle cx="149.7" cy="338.7" r="1.65" color="#4e8ccc"/>
<circle cx="151.3" cy="342.9" r="1.65" color="#465cb4"/>
<circle cx="151.7" cy="344.2" r="1.65" color="#434dae"/>
<circle cx="152.2" cy="345.5" r="1.65" color="#3f42a8"/>
<circle cx="153.7" cy="349.6" r="1.65" color="#76c7e6"/>
<circle cx="154.1" cy="350.6" r="1.65" color="#6cbee4"/>
<circle cx="154.5" cy="351.7" r="1.65" color="#6cbee4"/>
<circle cx="154.9" cy="352.8" r="1.65" color="#86d4e7"/>
<circle cx="168.1" cy="344.5" r="1.65" color="#93dce2"/>
<circle cx="168.5" cy="343.4" r="1.65" color="#99ddd3"/>
<circle cx="168.9" cy="342.3" r="1.65" color="#6cbee4"/>
<circle cx="169.3" cy="341.2" r="1.65" color="#76c7e6"/>
<circle cx="169.7" cy="340.2" r="1.65" color="#4b7cc3"/>
<circle cx="170.1" cy="339.1" r="1.65" color="#5aa8dc"/>
<circle cx="170.5" cy="338.0" r="1.65" color="#4767b8"/>
<circle cx="170.9" cy="336.9" r="1.65" color="#486cba"/>
<circle cx="171.3" cy="335.9" r="1.65" color="#5aa8dc"/>
<circle cx="171.8" cy="334.8" r="1.65" color="#99ddd3"/>
<circle cx="172.2" cy="333.7" r="1.65" color="#c9dd38"/>
<circle cx="172.6" cy="332.6" r="1.65" color="#f9d40b"/>
<circle cx="132.3" cy="391.0" r="1.65" color="#4e8ccc"/>
<circle cx="132.7" cy="392.1" r="1.65" color="#86d4e7"/>
<circle cx="133.1" cy="393.2" r="1.65" color="#93dce2"/>
<circle cx="133.5" cy="394.3" r="1.65" color="#b4dd76"/>
<circle cx="133.8" cy="395.4" r="1.65" color="#c9dd38"/>
<circle cx="134.2" cy="396.5" r="1.65" color="#b4dd76"/>
<circle cx="134.6" cy="397.7" r="1.65" color="#a4deaf"/>
<circle cx="135.0" cy="398.8" r="1.65" color="#a4deaf"/>
<circle cx="135.4" cy="399.9" r="1.65" color="#9ddecb"/>
<circle cx="135.8" cy="401.0" r="1.65" color="#a4deaf"/>
<circle cx="136.2" cy="402.1" r="1.65" color="#9ddecb"/>
<circle cx="136.6" cy="403.2" r="1.65" color="#99ddd3"/>
<circle cx="137.0" cy="404.3" r="1.65" color="#8dd9e5"/>
<circle cx="148.4" cy="398.0" r="1.65" color="#93dce2"/>
<circle cx="148.8" cy="396.9" r="1.65" color="#6cbee4"/>
<circle cx="149.2" cy="395.8" r="1.65" color="#76c7e6"/>
<circle cx="149.6" cy="394.7" r="1.65" color="#86d4e7"/>
<circle cx="150.0" cy="393.6" r="1.65" color="#6cbee4"/>
<circle cx="150.4" cy="392.5" r="1.65" color="#96dddb"/>
<circle cx="150.8" cy="391.3" r="1.65" color="#93dce2"/>
<circle cx="151.2" cy="390.2" r="1.65" color="#99ddd3"/>
<circle cx="151.6" cy="389.1" r="1.65" color="#addd8d"/>
<circle cx="152.0" cy="388.0" r="1.65" color="#c9dd38"/>
<circle cx="152.4" cy="386.9" r="1.65" color="#b4dd76"/>
<circle cx="152.8" cy="385.8" r="1.65" color="#a8dd9f"/>
<circle cx="153.2" cy="384.7" r="1.65" color="#93dce2"/>
<circle cx="153.6" cy="383.6" r="1.65" color="#8dd9e5"/>
<circle cx="154.0" cy="382.5" r="1.65" color="#486cba"/>
<circle cx="154.4" cy="381.4" r="1.65" color="#414aac"/>
<circle cx="164.3" cy="378.2" r="1.65" color="#c2dc4a"/>
<circle cx="164.7" cy="379.3" r="1.65" color="#9ddecb"/>
<circle cx="165.0" cy="380.4" r="1.65" color="#93dce2"/>
<circle cx="165.4" cy="381.4" r="1.65" color="#76c7e6"/>
<circle cx="165.8" cy="382.5" r="1.65" color="#4e8ccc"/>
<circle cx="166.2" cy="383.6" r="1.65" color="#5aa8dc"/>
<circle cx="166.6" cy="384.7" r="1.65" color="#6cbee4"/>
<circle cx="167.0" cy="385.7" r="1.65" color="#6cbee4"/>
<circle cx="167.4" cy="386.8" r="1.65" color="#80d0e8"/>
<circle cx="167.8" cy="387.9" r="1.65" color="#76c7e6"/>
<circle cx="168.1" cy="388.9" r="1.65" color="#80d0e8"/>
<circle cx="168.5" cy="390.0" r="1.65" color="#549ad4"/>
<circle cx="168.9" cy="391.1" r="1.65" color="#5aa8dc"/>
<circle cx="169.3" cy="392.2" r="1.65" color="#4b7cc3"/>
<circle cx="169.7" cy="393.2" r="1.65" color="#5aa8dc"/>
<circle cx="170.1" cy="394.3" r="1.65" color="#6cbee4"/>
<circle cx="170.4" cy="395.4" r="1.65" color="#63b3e0"/>
<circle cx="170.8" cy="396.4" r="1.65" color="#549ad4"/>
<circle cx="171.2" cy="397.5" r="1.65" color="#486cba"/>
<circle cx="171.6" cy="398.6" r="1.65" color="#549ad4"/>
<circle cx="172.0" cy="399.7" r="1.65" color="#4451b0"/>
<circle cx="172.4" cy="400.7" r="1.65" color="#4556b2"/>
<circle cx="172.7" cy="401.8" r="1.65" color="#4556b2"/>
<circle cx="174.8" cy="407.5" r="1.65" color="#80d0e8"/>
<circle cx="175.2" cy="408.8" r="1.65" color="#93dce2"/>
<circle cx="175.7" cy="410.1" r="1.65" color="#8dd9e5"/>
<circle cx="190.9" cy="381.4" r="1.65" color="#4e8ccc"/>
<circle cx="191.3" cy="380.2" r="1.65" color="#4b7cc3"/>
<circle cx="191.8" cy="379.1" r="1.65" color="#4451b0"/>
<circle cx="192.2" cy="377.9" r="1.65" color="#465cb4"/>
<circle cx="192.6" cy="376.7" r="1.65" color="#486cba"/>
<circle cx="193.0" cy="375.6" r="1.65" color="#4b7cc3"/>
<circle cx="193.5" cy="374.4" r="1.65" color="#4451b0"/>
<circle cx="198.2" cy="371.2" r="1.65" color="#96dddb"/>
<circle cx="198.6" cy="372.2" r="1.65" color="#99ddd3"/>
<circle cx="198.9" cy="373.1" r="1.65" color="#96dddb"/>
<circle cx="199.3" cy="374.1" r="1.65" color="#9ddecb"/>
<circle cx="199.6" cy="375.0" r="1.65" color="#99ddd3"/>
<circle cx="201.1" cy="378.9" r="1.65" color="#4b7cc3"/>
<circle cx="201.5" cy="380.1" r="1.65" color="#4b7cc3"/>
<circle cx="202.0" cy="381.4" r="1.65" color="#4b7cc3"/>
<circle cx="204.8" cy="389.1" r="1.65" color="#4b7cc3"/>
<circle cx="207.2" cy="395.7" r="1.65" color="#4046aa"/>
</g>
<g clip-path="url(#cfd)" fill="#8ebd7d" stroke="#000" stroke-width="1.40" stroke-linejoin="round">
<path fill-rule="evenodd" d="M20 45H335V440H20Z M30.0,371.6 40.2,371.6 47.2,370.3 49.4,368.1 47.8,365.9 45.3,363.3 43.8,361.0 45.0,358.9 47.2,356.9 51.0,355.0 55.5,353.4 60.6,352.9 64.4,351.9 66.9,349.6 70.8,350.3 75.9,348.7 80.3,346.1 83.5,343.6 87.3,342.3 89.6,339.1 88.6,334.0 89.5,331.5 91.4,333.4 92.7,336.6 94.3,338.2 98.2,336.6 102.6,335.9 107.7,335.5 110.0,336.4 114.5,333.2 117.6,334.5 120.8,332.0 125.3,330.1 129.8,329.4 130.4,325.6 134.8,323.1 139.3,319.2 144.4,316.1 148.2,312.2 147.6,307.8 150.8,306.5 153.9,308.1 157.1,304.6 161.0,299.5 164.8,294.4 167.3,290.6 166.7,286.1 168.6,281.7 166.7,277.2 170.5,275.3 175.0,272.7 178.2,268.3 180.7,265.1 182.6,260.0 183.5,258.0 185.4,255.7 187.3,251.9 189.2,253.8 192.4,251.9 192.4,246.8 193.7,240.4 195.6,236.0 192.4,234.1 195.6,232.8 196.9,227.7 191.8,225.8 189.2,223.2 186.1,222.0 182.2,223.2 177.8,225.8 172.0,224.5 174.6,222.6 179.0,220.7 183.5,218.2 188.6,215.6 194.3,213.7 195.0,211.2 192.4,206.7 189.2,203.5 192.4,202.2 195.6,200.3 194.3,196.5 190.5,193.3 186.1,190.1 182.9,186.9 184.1,181.2 181.0,176.8 179.0,171.0 177.8,165.9 173.9,162.1 169.5,158.9 164.4,156.4 161.6,153.8 162.5,152.4 165.7,148.0 169.5,142.9 173.3,138.4 173.9,134.6 175.9,135.9 178.4,135.2 178.4,132.7 181.0,130.2 186.1,128.2 191.2,125.7 196.2,123.8 200.7,124.4 202.6,120.6 203.2,116.8 196.2,116.8 191.2,115.5 187.3,113.0 183.5,111.0 179.0,111.7 175.2,114.2 170.8,117.4 165.7,120.0 161.2,120.0 159.3,116.8 159.9,111.0 157.4,107.2 152.9,106.0 147.8,104.7 143.4,101.5 142.1,97.0 141.5,91.9 143.4,88.8 147.8,89.4 151.7,91.9 156.8,88.8 161.8,85.6 163.8,81.8 168.2,78.6 174.6,76.7 179.0,72.8 183.5,67.7 188.0,65.8 196.2,67.7 199.8,72.2 196.2,76.7 191.2,82.4 187.3,85.6 193.1,86.8 190.5,90.7 186.1,94.5 189.9,93.2 196.2,88.8 202.6,84.9 211.5,81.8 216.4,80.5 223.4,79.2 225.9,81.8 229.1,83.7 233.6,83.0 237.4,86.8 234.8,91.9 234.2,95.8 238.0,98.3 232.9,101.5 231.0,104.0 233.6,107.2 238.0,111.0 241.8,109.1 246.3,111.0 250.1,109.8 252.0,113.6 254.6,117.4 255.9,122.5 252.0,124.4 246.9,127.0 251.4,128.9 252.7,134.0 254.6,139.1 253.3,144.2 251.4,149.3 252.0,155.6 253.1,162.0 258.4,159.6 264.8,155.8 270.5,153.2 273.7,152.6 276.2,153.8 281.3,151.6 286.4,149.3 289.6,142.9 290.2,137.8 288.3,134.0 289.0,127.6 288.3,121.2 285.2,114.9 281.3,108.5 276.2,102.1 272.4,95.8 266.1,91.3 262.2,88.8 264.1,83.0 268.6,78.6 273.7,77.3 278.1,74.1 281.3,70.9 286.4,67.1 291.5,64.2 294.1,62.6 320.0,55.0 320.0,430.0 30.0,430.0Z"/>
<path d="M191.5,296.5 193.8,297.7 195.7,299.3 197.7,300.6 196.6,301.9 195.3,302.5 196.0,304.1 196.8,306.0 196.4,308.2 195.3,310.5 193.8,313.0 193.1,315.6 193.2,318.1 192.5,321.3 191.5,324.5 190.6,328.3 189.3,331.5 188.0,334.0 190.9,327.5 188.3,333.2 185.2,338.3 183.2,342.8 182.6,346.6 181.1,346.0 180.7,342.2 177.5,337.7 174.3,332.6 173.7,329.6 173.2,325.8 173.5,322.6 174.7,318.8 176.2,314.9 178.2,311.1 180.4,307.3 182.9,303.5 185.2,300.6 187.4,298.7 189.9,296.8Z"/>
<path d="M177.6,429.2 177.6,411.3 178.8,403.7 180.8,398.0 183.9,395.7 188.4,397.1 193.5,399.2 198.0,399.9 201.8,398.0 202.7,402.4 200.5,406.2 200.9,412.6 203.7,415.2 205.0,420.2 205.0,429.2Z"/>
<path d="M37.6,376.7 47.8,375.7 52.9,375.4 56.1,379.2 53.6,383.1 51.0,387.5 49.1,393.2 46.6,395.8 37.6,398.3Z"/>
<path d="M291.5,176.8 301.7,175.9 301.7,185.9 294.1,185.0 292.8,180.6Z"/>
<path d="M270.3,284.0 272.5,279.0 275.5,275.5 278.6,273.6 279.2,275.0 276.5,277.0 274.0,280.5 272.3,284.8Z"/>
<ellipse cx="268.0" cy="156.8" rx="2.7" ry="1.4" transform="rotate(-20 268.0 156.8)"/>
<ellipse cx="289.0" cy="162.1" rx="1.5" ry="3.2" transform="rotate(20 289.0 162.1)"/>
<ellipse cx="253.1" cy="177.0" rx="4.5" ry="1.8" transform="rotate(-15 253.1 177.0)"/>
<ellipse cx="282.0" cy="187.2" rx="1.6" ry="2.2" transform="rotate(30 282.0 187.2)"/>
<ellipse cx="291.5" cy="252.1" rx="3.2" ry="1.6" transform="rotate(-40 291.5 252.1)"/>
<ellipse cx="221.5" cy="311.2" rx="1.4" ry="1.1" transform="rotate(0 221.5 311.2)"/>
<ellipse cx="168.2" cy="295.0" rx="1.4" ry="1.3" transform="rotate(0 168.2 295.0)"/>
<ellipse cx="97.0" cy="339.3" rx="2.8" ry="1.3" transform="rotate(0 97.0 339.3)"/>
</g>
<path d="M51.3,63.4 50.4,93.1 49.5,122.8 48.4,152.6 47.5,182.3 46.6,212.0 45.8,241.7 45.1,271.4 44.4,301.1 43.9,330.9 43.4,360.6 43.0,390.3 42.6,420.0 301.6,420.0 301.2,390.3 300.8,360.6 300.3,330.9 299.8,301.1 299.1,271.4 298.4,241.7 297.6,212.0 296.7,182.3 295.8,152.6 294.7,122.8 293.8,93.1 292.9,63.4Z" fill="none" stroke="#1c1c1c" stroke-width="1.5"/>
<g clip-path="url(#cbd)">
<g fill="currentColor" fill-opacity=".3" stroke="currentColor" stroke-width="1.2">
<circle cx="292.2" cy="107.1" r="1.65" color="#4b7cc3"/>
<circle cx="295.3" cy="253.1" r="1.65" color="#5aa8dc"/>
<circle cx="104.8" cy="417.3" r="1.65" color="#dee11a"/>
<circle cx="105.2" cy="418.4" r="1.65" color="#fade0a"/>
<circle cx="104.8" cy="417.3" r="1.65" color="#b4dd76"/>
</g>
</g>
<g font-size="16" fill="#000" stroke="#000" stroke-width="0.35">
<text y="60.5"><tspan x="27.7">110</tspan><tspan x="55.5" dy="-12.3" font-size="8.5">o</tspan><tspan x="64.4" dy="12.3">E</tspan></text>
<text y="60.5"><tspan x="148.5">120</tspan><tspan x="176.3" dy="-12.3" font-size="8.5">o</tspan><tspan x="185.2" dy="12.3">E</tspan></text>
<text y="60.5"><tspan x="269.3">130</tspan><tspan x="297.1" dy="-12.3" font-size="8.5">o</tspan><tspan x="306.0" dy="12.3">E</tspan></text>
<text y="86.8"><tspan x="7.5">40</tspan><tspan x="25.7" dy="-11.7" font-size="8.5">o</tspan><tspan x="35.3" dy="11.7">N</tspan></text>
<text y="161.1"><tspan x="5.1">35</tspan><tspan x="23.3" dy="-11.7" font-size="8.5">o</tspan><tspan x="32.9" dy="11.7">N</tspan></text>
<text y="235.3"><tspan x="2.8">30</tspan><tspan x="21.0" dy="-11.7" font-size="8.5">o</tspan><tspan x="30.6" dy="11.7">N</tspan></text>
<text y="309.6"><tspan x="1.1">25</tspan><tspan x="19.3" dy="-11.7" font-size="8.5">o</tspan><tspan x="28.9" dy="11.7">N</tspan></text>
<text y="383.8"><tspan x="-0.1">20</tspan><tspan x="18.1" dy="-11.7" font-size="8.5">o</tspan><tspan x="27.7" dy="11.7">N</tspan></text>
</g>
</g>
<text x="73.0" y="18.8" font-size="26.2" stroke="#000" stroke-width="0.3" textLength="113.8" lengthAdjust="spacingAndGlyphs">Amplitude</text>
<text transform="translate(194.6 18.8) scale(1.15 1)" font-size="26.2" stroke="#000" stroke-width="0.3">α</text>
<text x="211.2" y="31.3" font-size="19.3" stroke="#000" stroke-width="0.25">2</text>
<text x="228.8" y="18.8" font-size="26.2" stroke="#000" stroke-width="0.3">/</text>
<text x="243.2" y="18.8" font-size="26.2" stroke="#000" stroke-width="0.3">Model</text>
<text x="447.6" y="18.7" font-size="26.2" stroke="#000" stroke-width="0.3" textLength="113.8" lengthAdjust="spacingAndGlyphs">Amplitude</text>
<text transform="translate(567.1 18.7) scale(1.15 1)" font-size="26.2" stroke="#000" stroke-width="0.3">α</text>
<text x="583.8" y="31.2" font-size="19.3" stroke="#000" stroke-width="0.25">2</text>
<text x="601.4" y="18.7" font-size="26.2" stroke="#000" stroke-width="0.3">/</text>
<text x="621.8" y="18.7" font-size="26.2" stroke="#000" stroke-width="0.3" textLength="41" lengthAdjust="spacingAndGlyphs">TPJ</text>
<text x="73.6" y="462.7" font-size="26.2" stroke="#000" stroke-width="0.3" textLength="113.8" lengthAdjust="spacingAndGlyphs">Amplitude</text>
<text transform="translate(194.8 462.7) scale(1.00 1)" font-size="26.2" stroke="#000" stroke-width="0.3">β</text>
<text x="209.4" y="475.2" font-size="19.3" stroke="#000" stroke-width="0.25">2</text>
<text x="227.8" y="462.7" font-size="26.2" stroke="#000" stroke-width="0.3">/</text>
<text x="243.2" y="462.7" font-size="26.2" stroke="#000" stroke-width="0.3">Model</text>
<text x="448.4" y="462.6" font-size="26.2" stroke="#000" stroke-width="0.3" textLength="113.8" lengthAdjust="spacingAndGlyphs">Amplitude</text>
<text transform="translate(569.2 462.6) scale(1.00 1)" font-size="26.2" stroke="#000" stroke-width="0.3">β</text>
<text x="582.8" y="475.1" font-size="19.3" stroke="#000" stroke-width="0.25">2</text>
<text x="601.4" y="462.6" font-size="26.2" stroke="#000" stroke-width="0.3">/</text>
<text x="621.2" y="462.6" font-size="26.2" stroke="#000" stroke-width="0.3" textLength="41" lengthAdjust="spacingAndGlyphs">TPJ</text>
<text x="-1.5" y="21.9" font-size="26" font-weight="bold">a</text>
<text x="366.3" y="21.7" font-size="26" font-weight="bold">b</text>
<text x="-1.5" y="464.0" font-size="26" font-weight="bold">c</text>
<text x="367.4" y="461.8" font-size="26" font-weight="bold">d</text>
<rect x="698.8" y="619.61" width="39.6" height="6.19" fill="#2f2b85"/>
<rect x="698.8" y="614.42" width="39.6" height="6.19" fill="#302c8a"/>
<rect x="698.8" y="609.24" width="39.6" height="6.19" fill="#322e8f"/>
<rect x="698.8" y="604.05" width="39.6" height="6.19" fill="#332f94"/>
<rect x="698.8" y="598.86" width="39.6" height="6.19" fill="#363299"/>
<rect x="698.8" y="593.67" width="39.6" height="6.19" fill="#38369c"/>
<rect x="698.8" y="588.49" width="39.6" height="6.19" fill="#3a39a0"/>
<rect x="698.8" y="583.30" width="39.6" height="6.19" fill="#3d3ca4"/>
<rect x="698.8" y="578.11" width="39.6" height="6.19" fill="#3f40a7"/>
<rect x="698.8" y="572.92" width="39.6" height="6.19" fill="#4045aa"/>
<rect x="698.8" y="567.74" width="39.6" height="6.19" fill="#424aac"/>
<rect x="698.8" y="562.55" width="39.6" height="6.19" fill="#434fae"/>
<rect x="698.8" y="557.36" width="39.6" height="6.19" fill="#4454b1"/>
<rect x="698.8" y="552.17" width="39.6" height="6.19" fill="#455bb3"/>
<rect x="698.8" y="546.99" width="39.6" height="6.19" fill="#4662b6"/>
<rect x="698.8" y="541.80" width="39.6" height="6.19" fill="#4769b9"/>
<rect x="698.8" y="536.61" width="39.6" height="6.19" fill="#4a76c0"/>
<rect x="698.8" y="531.42" width="39.6" height="6.19" fill="#4e8acb"/>
<rect x="698.8" y="526.24" width="39.6" height="6.19" fill="#559cd5"/>
<rect x="698.8" y="521.05" width="39.6" height="6.19" fill="#5dacde"/>
<rect x="698.8" y="515.86" width="39.6" height="6.19" fill="#69bae2"/>
<rect x="698.8" y="510.67" width="39.6" height="6.19" fill="#75c6e6"/>
<rect x="698.8" y="505.49" width="39.6" height="6.19" fill="#81d1e8"/>
<rect x="698.8" y="500.30" width="39.6" height="6.19" fill="#89d6e6"/>
<rect x="698.8" y="495.11" width="39.6" height="6.19" fill="#91dbe4"/>
<rect x="698.8" y="489.92" width="39.6" height="6.19" fill="#96dddc"/>
<rect x="698.8" y="484.74" width="39.6" height="6.19" fill="#9addd2"/>
<rect x="698.8" y="479.55" width="39.6" height="6.19" fill="#9edec8"/>
<rect x="698.8" y="474.36" width="39.6" height="6.19" fill="#a3deb5"/>
<rect x="698.8" y="469.17" width="39.6" height="6.19" fill="#a7dda1"/>
<rect x="698.8" y="463.99" width="39.6" height="6.19" fill="#aedd8a"/>
<rect x="698.8" y="458.80" width="39.6" height="6.19" fill="#b6dd6e"/>
<rect x="698.8" y="453.61" width="39.6" height="6.19" fill="#bfdc52"/>
<rect x="698.8" y="448.42" width="39.6" height="6.19" fill="#c8dc39"/>
<rect x="698.8" y="443.24" width="39.6" height="6.19" fill="#d1de2d"/>
<rect x="698.8" y="438.05" width="39.6" height="6.19" fill="#d9e020"/>
<rect x="698.8" y="432.86" width="39.6" height="6.19" fill="#e2e214"/>
<rect x="698.8" y="427.67" width="39.6" height="6.19" fill="#e9e111"/>
<rect x="698.8" y="422.49" width="39.6" height="6.19" fill="#f0e00e"/>
<rect x="698.8" y="417.30" width="39.6" height="6.19" fill="#f7df0b"/>
<rect x="698.8" y="412.11" width="39.6" height="6.19" fill="#f9d70b"/>
<rect x="698.8" y="406.92" width="39.6" height="6.19" fill="#f8ca0d"/>
<rect x="698.8" y="401.74" width="39.6" height="6.19" fill="#f7bd0e"/>
<rect x="698.8" y="396.55" width="39.6" height="6.19" fill="#f6b010"/>
<rect x="698.8" y="391.36" width="39.6" height="6.19" fill="#f4a311"/>
<rect x="698.8" y="386.17" width="39.6" height="6.19" fill="#f39511"/>
<rect x="698.8" y="380.99" width="39.6" height="6.19" fill="#f18812"/>
<rect x="698.8" y="375.80" width="39.6" height="6.19" fill="#f07a12"/>
<rect x="698.8" y="370.61" width="39.6" height="6.19" fill="#ee6e14"/>
<rect x="698.8" y="365.43" width="39.6" height="6.19" fill="#ec6215"/>
<rect x="698.8" y="360.24" width="39.6" height="6.19" fill="#e95617"/>
<rect x="698.8" y="355.05" width="39.6" height="6.19" fill="#e74b18"/>
<rect x="698.8" y="349.86" width="39.6" height="6.19" fill="#e4421a"/>
<rect x="698.8" y="344.68" width="39.6" height="6.19" fill="#e1381c"/>
<rect x="698.8" y="339.49" width="39.6" height="6.19" fill="#de2f1d"/>
<rect x="698.8" y="334.30" width="39.6" height="6.19" fill="#d9291e"/>
<rect x="698.8" y="329.11" width="39.6" height="6.19" fill="#d1261f"/>
<rect x="698.8" y="323.93" width="39.6" height="6.19" fill="#ca2420"/>
<rect x="698.8" y="318.74" width="39.6" height="6.19" fill="#c02220"/>
<rect x="698.8" y="313.55" width="39.6" height="6.19" fill="#b0201f"/>
<rect x="698.8" y="308.36" width="39.6" height="6.19" fill="#a11e1e"/>
<rect x="698.8" y="303.18" width="39.6" height="6.19" fill="#921d1d"/>
<rect x="698.8" y="297.99" width="39.6" height="6.19" fill="#851c1c"/>
<rect x="698.8" y="292.80" width="39.6" height="6.19" fill="#771b1b"/>
<rect x="698.8" y="292.8" width="39.6" height="332.0" fill="none" stroke="#000" stroke-width="1.2"/>
<text x="744.6" y="632.6" font-size="20.5" stroke="#000" stroke-width="0.3" textLength="11.9" lengthAdjust="spacingAndGlyphs">0</text>
<path d="M698.8 541.8h3.6M738.4 541.8h-3.6" stroke="#000" stroke-width="1.1"/>
<text x="744.6" y="549.6" font-size="20.5" stroke="#000" stroke-width="0.3" textLength="41.5" lengthAdjust="spacingAndGlyphs">0.01</text>
<path d="M698.8 458.8h3.6M738.4 458.8h-3.6" stroke="#000" stroke-width="1.1"/>
<text x="744.6" y="466.6" font-size="20.5" stroke="#000" stroke-width="0.3" textLength="41.5" lengthAdjust="spacingAndGlyphs">0.02</text>
<path d="M698.8 375.8h3.6M738.4 375.8h-3.6" stroke="#000" stroke-width="1.1"/>
<text x="744.6" y="383.6" font-size="20.5" stroke="#000" stroke-width="0.3" textLength="41.5" lengthAdjust="spacingAndGlyphs">0.03</text>
<text x="744.6" y="300.6" font-size="20.5" stroke="#000" stroke-width="0.3" textLength="41.5" lengthAdjust="spacingAndGlyphs">0.04</text>
</svg></body></html>
